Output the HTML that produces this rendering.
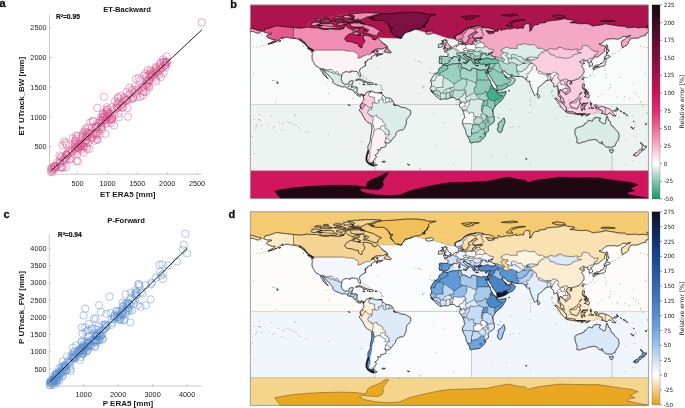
<!DOCTYPE html><html><head><meta charset="utf-8"><title>Figure</title><style>html,body{margin:0;padding:0;background:#fff}svg{display:block}</style></head><body><svg width="685" height="408" viewBox="0 0 685 408"><style>
text{font-family:"Liberation Sans",Arial,sans-serif;fill:#1c1c1c}
.tk{font-size:7.3px}
.cbl{font-size:6.1px;font-family:"DejaVu Sans","Liberation Sans",sans-serif}
.cb{font-size:5.7px;font-family:"DejaVu Sans","Liberation Sans",sans-serif}
.lb{font-size:8px;font-weight:bold;fill:#1a1a1a}
.ti{font-size:7.6px;font-weight:bold;fill:#111}
.r2{font-size:6.7px;font-weight:bold;fill:#111;stroke:#111;stroke-width:0.2px}
.pl{font-size:11px;font-weight:bold;fill:#111;stroke:#111;stroke-width:0.3px}
</style><rect width="685" height="408" fill="#fff"/><g fill="none" stroke="#d9548c" stroke-width="0.55" stroke-opacity="0.9"><circle cx="54.0" cy="166.2" r="3.7"/><circle cx="51.2" cy="168.2" r="3.7"/><circle cx="56.4" cy="166.3" r="3.7"/><circle cx="56.0" cy="165.6" r="3.7"/><circle cx="50.9" cy="171.7" r="3.7"/><circle cx="51.4" cy="170.1" r="3.7"/><circle cx="55.1" cy="166.5" r="3.7"/><circle cx="52.9" cy="170.0" r="3.7"/><circle cx="57.4" cy="162.3" r="3.7"/><circle cx="54.8" cy="168.1" r="3.7"/><circle cx="61.2" cy="157.3" r="3.7"/><circle cx="53.6" cy="167.2" r="3.7"/><circle cx="52.0" cy="168.5" r="3.7"/><circle cx="59.5" cy="161.7" r="3.7"/><circle cx="52.4" cy="172.1" r="3.7"/><circle cx="54.5" cy="169.0" r="3.7"/><circle cx="85.3" cy="136.6" r="3.7"/><circle cx="68.6" cy="153.5" r="3.7"/><circle cx="91.8" cy="137.4" r="3.7"/><circle cx="87.2" cy="134.5" r="3.7"/><circle cx="80.7" cy="146.4" r="3.7"/><circle cx="92.7" cy="121.1" r="3.7"/><circle cx="70.4" cy="159.4" r="3.7"/><circle cx="101.3" cy="127.0" r="3.7"/><circle cx="94.2" cy="134.4" r="3.7"/><circle cx="64.3" cy="141.4" r="3.7"/><circle cx="79.0" cy="144.4" r="3.7"/><circle cx="82.4" cy="144.9" r="3.7"/><circle cx="60.4" cy="167.2" r="3.7"/><circle cx="86.5" cy="146.7" r="3.7"/><circle cx="101.4" cy="127.3" r="3.7"/><circle cx="87.6" cy="127.6" r="3.7"/><circle cx="86.9" cy="148.7" r="3.7"/><circle cx="104.7" cy="117.2" r="3.7"/><circle cx="81.7" cy="143.2" r="3.7"/><circle cx="92.8" cy="133.5" r="3.7"/><circle cx="90.2" cy="122.5" r="3.7"/><circle cx="72.4" cy="151.2" r="3.7"/><circle cx="77.4" cy="146.7" r="3.7"/><circle cx="81.1" cy="143.8" r="3.7"/><circle cx="66.7" cy="154.5" r="3.7"/><circle cx="96.1" cy="127.1" r="3.7"/><circle cx="64.8" cy="157.8" r="3.7"/><circle cx="101.2" cy="117.6" r="3.7"/><circle cx="62.4" cy="167.6" r="3.7"/><circle cx="101.7" cy="120.8" r="3.7"/><circle cx="98.6" cy="122.9" r="3.7"/><circle cx="78.8" cy="148.5" r="3.7"/><circle cx="76.1" cy="135.6" r="3.7"/><circle cx="65.9" cy="167.3" r="3.7"/><circle cx="67.1" cy="155.2" r="3.7"/><circle cx="82.2" cy="137.0" r="3.7"/><circle cx="87.3" cy="136.8" r="3.7"/><circle cx="79.0" cy="144.0" r="3.7"/><circle cx="76.6" cy="160.9" r="3.7"/><circle cx="92.3" cy="138.3" r="3.7"/><circle cx="83.7" cy="147.0" r="3.7"/><circle cx="61.1" cy="167.6" r="3.7"/><circle cx="102.5" cy="120.1" r="3.7"/><circle cx="97.6" cy="139.6" r="3.7"/><circle cx="77.7" cy="148.1" r="3.7"/><circle cx="89.5" cy="132.9" r="3.7"/><circle cx="61.5" cy="157.0" r="3.7"/><circle cx="66.4" cy="154.6" r="3.7"/><circle cx="75.1" cy="148.1" r="3.7"/><circle cx="65.9" cy="156.8" r="3.7"/><circle cx="63.5" cy="160.1" r="3.7"/><circle cx="101.3" cy="122.6" r="3.7"/><circle cx="88.6" cy="132.8" r="3.7"/><circle cx="75.5" cy="144.0" r="3.7"/><circle cx="76.3" cy="138.4" r="3.7"/><circle cx="107.1" cy="109.7" r="3.7"/><circle cx="81.3" cy="145.0" r="3.7"/><circle cx="63.5" cy="158.8" r="3.7"/><circle cx="75.3" cy="149.1" r="3.7"/><circle cx="66.4" cy="144.7" r="3.7"/><circle cx="59.6" cy="155.5" r="3.7"/><circle cx="65.7" cy="159.4" r="3.7"/><circle cx="85.1" cy="131.3" r="3.7"/><circle cx="106.4" cy="117.6" r="3.7"/><circle cx="100.8" cy="125.8" r="3.7"/><circle cx="76.4" cy="151.5" r="3.7"/><circle cx="66.7" cy="155.1" r="3.7"/><circle cx="96.6" cy="135.6" r="3.7"/><circle cx="74.6" cy="146.7" r="3.7"/><circle cx="106.7" cy="107.3" r="3.7"/><circle cx="100.2" cy="120.7" r="3.7"/><circle cx="94.7" cy="140.6" r="3.7"/><circle cx="69.6" cy="159.2" r="3.7"/><circle cx="59.9" cy="163.1" r="3.7"/><circle cx="59.9" cy="163.4" r="3.7"/><circle cx="92.4" cy="127.2" r="3.7"/><circle cx="105.3" cy="133.7" r="3.7"/><circle cx="106.9" cy="113.6" r="3.7"/><circle cx="105.2" cy="122.8" r="3.7"/><circle cx="69.6" cy="150.1" r="3.7"/><circle cx="68.1" cy="152.3" r="3.7"/><circle cx="102.6" cy="114.1" r="3.7"/><circle cx="99.6" cy="134.2" r="3.7"/><circle cx="97.6" cy="125.9" r="3.7"/><circle cx="62.6" cy="167.2" r="3.7"/><circle cx="96.8" cy="139.4" r="3.7"/><circle cx="95.2" cy="133.2" r="3.7"/><circle cx="97.1" cy="127.0" r="3.7"/><circle cx="74.8" cy="143.3" r="3.7"/><circle cx="77.9" cy="161.4" r="3.7"/><circle cx="78.1" cy="135.9" r="3.7"/><circle cx="66.8" cy="159.3" r="3.7"/><circle cx="75.0" cy="141.2" r="3.7"/><circle cx="93.3" cy="121.2" r="3.7"/><circle cx="75.6" cy="140.5" r="3.7"/><circle cx="89.3" cy="148.9" r="3.7"/><circle cx="81.0" cy="145.5" r="3.7"/><circle cx="72.0" cy="152.0" r="3.7"/><circle cx="97.7" cy="131.1" r="3.7"/><circle cx="96.7" cy="133.5" r="3.7"/><circle cx="83.3" cy="133.2" r="3.7"/><circle cx="77.3" cy="153.8" r="3.7"/><circle cx="78.4" cy="146.2" r="3.7"/><circle cx="87.4" cy="132.7" r="3.7"/><circle cx="78.6" cy="147.6" r="3.7"/><circle cx="96.1" cy="127.1" r="3.7"/><circle cx="81.1" cy="149.8" r="3.7"/><circle cx="95.9" cy="126.7" r="3.7"/><circle cx="82.9" cy="135.1" r="3.7"/><circle cx="85.9" cy="141.4" r="3.7"/><circle cx="85.7" cy="132.2" r="3.7"/><circle cx="76.5" cy="146.1" r="3.7"/><circle cx="71.7" cy="150.3" r="3.7"/><circle cx="84.4" cy="142.8" r="3.7"/><circle cx="91.1" cy="137.9" r="3.7"/><circle cx="85.6" cy="140.2" r="3.7"/><circle cx="86.6" cy="136.9" r="3.7"/><circle cx="86.7" cy="140.0" r="3.7"/><circle cx="78.3" cy="146.8" r="3.7"/><circle cx="85.3" cy="129.1" r="3.7"/><circle cx="86.7" cy="136.5" r="3.7"/><circle cx="83.5" cy="152.7" r="3.7"/><circle cx="88.1" cy="142.8" r="3.7"/><circle cx="90.2" cy="134.3" r="3.7"/><circle cx="83.8" cy="146.4" r="3.7"/><circle cx="96.9" cy="129.1" r="3.7"/><circle cx="147.8" cy="69.9" r="3.7"/><circle cx="118.7" cy="117.3" r="3.7"/><circle cx="138.6" cy="78.0" r="3.7"/><circle cx="110.6" cy="118.9" r="3.7"/><circle cx="109.5" cy="118.1" r="3.7"/><circle cx="117.4" cy="107.7" r="3.7"/><circle cx="106.3" cy="124.0" r="3.7"/><circle cx="160.9" cy="76.8" r="3.7"/><circle cx="111.7" cy="115.7" r="3.7"/><circle cx="111.0" cy="123.1" r="3.7"/><circle cx="160.0" cy="64.5" r="3.7"/><circle cx="164.6" cy="65.1" r="3.7"/><circle cx="127.9" cy="116.7" r="3.7"/><circle cx="156.6" cy="70.3" r="3.7"/><circle cx="112.2" cy="119.9" r="3.7"/><circle cx="124.0" cy="99.4" r="3.7"/><circle cx="114.5" cy="115.3" r="3.7"/><circle cx="102.8" cy="113.6" r="3.7"/><circle cx="138.2" cy="90.1" r="3.7"/><circle cx="123.4" cy="102.4" r="3.7"/><circle cx="142.8" cy="86.8" r="3.7"/><circle cx="166.8" cy="62.4" r="3.7"/><circle cx="153.7" cy="71.7" r="3.7"/><circle cx="119.1" cy="107.5" r="3.7"/><circle cx="104.1" cy="120.2" r="3.7"/><circle cx="110.1" cy="120.1" r="3.7"/><circle cx="129.5" cy="87.9" r="3.7"/><circle cx="118.6" cy="113.2" r="3.7"/><circle cx="111.4" cy="107.4" r="3.7"/><circle cx="147.9" cy="83.7" r="3.7"/><circle cx="107.4" cy="109.4" r="3.7"/><circle cx="129.7" cy="93.8" r="3.7"/><circle cx="106.3" cy="111.2" r="3.7"/><circle cx="154.6" cy="76.8" r="3.7"/><circle cx="107.0" cy="116.9" r="3.7"/><circle cx="158.7" cy="71.6" r="3.7"/><circle cx="131.6" cy="99.3" r="3.7"/><circle cx="162.9" cy="59.5" r="3.7"/><circle cx="119.2" cy="101.8" r="3.7"/><circle cx="117.3" cy="103.4" r="3.7"/><circle cx="108.7" cy="115.7" r="3.7"/><circle cx="114.9" cy="109.3" r="3.7"/><circle cx="122.2" cy="107.5" r="3.7"/><circle cx="120.7" cy="96.0" r="3.7"/><circle cx="134.6" cy="90.0" r="3.7"/><circle cx="102.7" cy="117.4" r="3.7"/><circle cx="118.1" cy="98.3" r="3.7"/><circle cx="138.0" cy="88.3" r="3.7"/><circle cx="114.0" cy="125.4" r="3.7"/><circle cx="108.5" cy="114.7" r="3.7"/><circle cx="155.7" cy="78.9" r="3.7"/><circle cx="156.8" cy="68.7" r="3.7"/><circle cx="127.5" cy="108.1" r="3.7"/><circle cx="166.6" cy="62.8" r="3.7"/><circle cx="124.2" cy="97.6" r="3.7"/><circle cx="143.6" cy="92.0" r="3.7"/><circle cx="128.3" cy="99.5" r="3.7"/><circle cx="110.1" cy="113.8" r="3.7"/><circle cx="106.2" cy="119.3" r="3.7"/><circle cx="112.3" cy="117.9" r="3.7"/><circle cx="107.1" cy="111.7" r="3.7"/><circle cx="145.9" cy="91.9" r="3.7"/><circle cx="120.2" cy="105.7" r="3.7"/><circle cx="131.9" cy="90.0" r="3.7"/><circle cx="111.9" cy="118.1" r="3.7"/><circle cx="165.2" cy="62.1" r="3.7"/><circle cx="165.9" cy="67.3" r="3.7"/><circle cx="165.5" cy="64.7" r="3.7"/><circle cx="122.0" cy="104.4" r="3.7"/><circle cx="126.8" cy="99.5" r="3.7"/><circle cx="132.9" cy="97.9" r="3.7"/><circle cx="134.9" cy="92.2" r="3.7"/><circle cx="101.8" cy="123.4" r="3.7"/><circle cx="128.0" cy="96.1" r="3.7"/><circle cx="104.2" cy="115.9" r="3.7"/><circle cx="116.9" cy="108.3" r="3.7"/><circle cx="140.3" cy="96.8" r="3.7"/><circle cx="145.1" cy="84.4" r="3.7"/><circle cx="148.9" cy="74.7" r="3.7"/><circle cx="123.1" cy="107.3" r="3.7"/><circle cx="166.7" cy="56.6" r="3.7"/><circle cx="144.1" cy="75.8" r="3.7"/><circle cx="104.4" cy="114.3" r="3.7"/><circle cx="143.1" cy="95.2" r="3.7"/><circle cx="150.1" cy="76.6" r="3.7"/><circle cx="136.2" cy="93.9" r="3.7"/><circle cx="134.9" cy="86.6" r="3.7"/><circle cx="156.2" cy="81.3" r="3.7"/><circle cx="140.2" cy="80.1" r="3.7"/><circle cx="147.4" cy="86.0" r="3.7"/><circle cx="116.7" cy="106.1" r="3.7"/><circle cx="125.4" cy="100.4" r="3.7"/><circle cx="108.4" cy="113.0" r="3.7"/><circle cx="143.1" cy="91.0" r="3.7"/><circle cx="143.0" cy="87.4" r="3.7"/><circle cx="101.7" cy="129.5" r="3.7"/><circle cx="154.3" cy="73.9" r="3.7"/><circle cx="136.9" cy="97.2" r="3.7"/><circle cx="145.2" cy="73.6" r="3.7"/><circle cx="118.2" cy="103.9" r="3.7"/><circle cx="106.4" cy="119.8" r="3.7"/><circle cx="115.1" cy="101.2" r="3.7"/><circle cx="150.5" cy="70.6" r="3.7"/><circle cx="126.8" cy="100.7" r="3.7"/><circle cx="133.2" cy="97.8" r="3.7"/><circle cx="159.1" cy="74.9" r="3.7"/><circle cx="159.7" cy="67.1" r="3.7"/><circle cx="151.6" cy="75.5" r="3.7"/><circle cx="161.8" cy="68.4" r="3.7"/><circle cx="146.5" cy="76.9" r="3.7"/><circle cx="147.5" cy="80.9" r="3.7"/><circle cx="160.7" cy="62.6" r="3.7"/><circle cx="160.4" cy="69.3" r="3.7"/><circle cx="156.0" cy="68.2" r="3.7"/><circle cx="156.0" cy="66.8" r="3.7"/><circle cx="150.4" cy="72.4" r="3.7"/><circle cx="166.7" cy="61.7" r="3.7"/><circle cx="155.8" cy="72.7" r="3.7"/><circle cx="163.4" cy="61.6" r="3.7"/><circle cx="151.9" cy="77.0" r="3.7"/><circle cx="150.6" cy="75.0" r="3.7"/><circle cx="158.4" cy="70.9" r="3.7"/><circle cx="149.2" cy="87.4" r="3.7"/><circle cx="149.0" cy="80.2" r="3.7"/><circle cx="163.4" cy="72.8" r="3.7"/><circle cx="161.0" cy="68.1" r="3.7"/><circle cx="151.1" cy="73.6" r="3.7"/><circle cx="146.8" cy="83.4" r="3.7"/><circle cx="146.3" cy="85.3" r="3.7"/><circle cx="152.6" cy="75.3" r="3.7"/><circle cx="149.2" cy="80.4" r="3.7"/><circle cx="163.8" cy="62.4" r="3.7"/><circle cx="146.3" cy="81.4" r="3.7"/><circle cx="148.8" cy="85.9" r="3.7"/><circle cx="165.6" cy="65.1" r="3.7"/><circle cx="97.3" cy="107.9" r="3.7"/><circle cx="103.9" cy="96.6" r="3.7"/><circle cx="118.2" cy="97.2" r="3.7"/><circle cx="201.8" cy="22.4" r="3.7"/><circle cx="126.6" cy="91.9" r="3.7"/><circle cx="136.1" cy="78.8" r="3.7"/><circle cx="62.7" cy="145.3" r="3.7"/><circle cx="65.7" cy="142.9" r="3.7"/><circle cx="72.8" cy="138.2" r="3.7"/></g><line x1="50.4" y1="171.4" x2="201.8" y2="29.9" stroke="#0a0a0a" stroke-width="0.9"/><path d="M49.5,14.3V174.2H201.6" fill="none" stroke="#b3b3b3" stroke-width="0.7"/><line x1="77.6" y1="174.2" x2="77.6" y2="172.2" stroke="#8c8c8c" stroke-width="0.5"/><text x="77.6" y="186" text-anchor="middle" class="tk">500</text><line x1="49.5" y1="146.5" x2="51.5" y2="146.5" stroke="#8c8c8c" stroke-width="0.5"/><text x="46.6" y="149.2" text-anchor="end" class="tk">500</text><line x1="107.5" y1="174.2" x2="107.5" y2="172.2" stroke="#8c8c8c" stroke-width="0.5"/><text x="107.5" y="186" text-anchor="middle" class="tk">1000</text><line x1="49.5" y1="116.8" x2="51.5" y2="116.8" stroke="#8c8c8c" stroke-width="0.5"/><text x="46.6" y="119.5" text-anchor="end" class="tk">1000</text><line x1="137.3" y1="174.2" x2="137.3" y2="172.2" stroke="#8c8c8c" stroke-width="0.5"/><text x="137.3" y="186" text-anchor="middle" class="tk">1500</text><line x1="49.5" y1="87.1" x2="51.5" y2="87.1" stroke="#8c8c8c" stroke-width="0.5"/><text x="46.6" y="89.8" text-anchor="end" class="tk">1500</text><line x1="167.2" y1="174.2" x2="167.2" y2="172.2" stroke="#8c8c8c" stroke-width="0.5"/><text x="167.2" y="186" text-anchor="middle" class="tk">2000</text><line x1="49.5" y1="57.4" x2="51.5" y2="57.4" stroke="#8c8c8c" stroke-width="0.5"/><text x="46.6" y="60.1" text-anchor="end" class="tk">2000</text><line x1="197.0" y1="174.2" x2="197.0" y2="172.2" stroke="#8c8c8c" stroke-width="0.5"/><text x="197.0" y="186" text-anchor="middle" class="tk">2500</text><line x1="49.5" y1="27.7" x2="51.5" y2="27.7" stroke="#8c8c8c" stroke-width="0.5"/><text x="46.6" y="30.4" text-anchor="end" class="tk">2500</text><text x="127.7" y="196.5" text-anchor="middle" class="lb">ET ERA5 [mm]</text><text transform="translate(24.2,96.2) rotate(-90)" text-anchor="middle" class="lb">ET UTrack_BW [mm]</text><text x="127" y="11.7" text-anchor="middle" class="ti">ET-Backward</text><text x="55.9" y="18.5" class="r2">R²=0.95</text><text x="-0.8" y="7" class="pl" style="font-size:11.5px">a</text><text x="230.2" y="7.6" class="pl">b</text><g fill="none" stroke="#5b8fd0" stroke-width="0.55" stroke-opacity="0.9"><circle cx="52.8" cy="383.5" r="3.7"/><circle cx="52.9" cy="381.6" r="3.7"/><circle cx="53.2" cy="380.9" r="3.7"/><circle cx="53.2" cy="380.6" r="3.7"/><circle cx="54.1" cy="379.1" r="3.7"/><circle cx="51.8" cy="382.2" r="3.7"/><circle cx="50.3" cy="382.3" r="3.7"/><circle cx="49.9" cy="385.4" r="3.7"/><circle cx="56.6" cy="374.9" r="3.7"/><circle cx="54.0" cy="379.8" r="3.7"/><circle cx="50.7" cy="380.9" r="3.7"/><circle cx="50.0" cy="383.1" r="3.7"/><circle cx="51.0" cy="382.3" r="3.7"/><circle cx="52.9" cy="380.1" r="3.7"/><circle cx="52.7" cy="379.7" r="3.7"/><circle cx="54.1" cy="380.6" r="3.7"/><circle cx="53.2" cy="381.0" r="3.7"/><circle cx="51.6" cy="383.0" r="3.7"/><circle cx="56.7" cy="374.1" r="3.7"/><circle cx="54.6" cy="378.8" r="3.7"/><circle cx="51.8" cy="381.3" r="3.7"/><circle cx="50.1" cy="382.1" r="3.7"/><circle cx="55.0" cy="380.5" r="3.7"/><circle cx="52.4" cy="379.4" r="3.7"/><circle cx="56.4" cy="377.0" r="3.7"/><circle cx="51.1" cy="382.3" r="3.7"/><circle cx="56.1" cy="381.2" r="3.7"/><circle cx="52.4" cy="380.2" r="3.7"/><circle cx="50.1" cy="384.8" r="3.7"/><circle cx="51.5" cy="383.5" r="3.7"/><circle cx="56.8" cy="380.3" r="3.7"/><circle cx="89.2" cy="335.9" r="3.7"/><circle cx="58.2" cy="374.2" r="3.7"/><circle cx="55.4" cy="375.3" r="3.7"/><circle cx="91.0" cy="340.2" r="3.7"/><circle cx="74.2" cy="354.5" r="3.7"/><circle cx="61.8" cy="371.0" r="3.7"/><circle cx="83.6" cy="351.3" r="3.7"/><circle cx="58.2" cy="376.5" r="3.7"/><circle cx="65.6" cy="365.9" r="3.7"/><circle cx="99.4" cy="333.0" r="3.7"/><circle cx="95.3" cy="341.0" r="3.7"/><circle cx="62.7" cy="375.5" r="3.7"/><circle cx="83.6" cy="345.1" r="3.7"/><circle cx="57.4" cy="372.6" r="3.7"/><circle cx="65.0" cy="367.8" r="3.7"/><circle cx="89.9" cy="344.8" r="3.7"/><circle cx="56.1" cy="373.7" r="3.7"/><circle cx="56.9" cy="377.9" r="3.7"/><circle cx="81.6" cy="352.8" r="3.7"/><circle cx="70.5" cy="371.0" r="3.7"/><circle cx="75.9" cy="354.3" r="3.7"/><circle cx="80.3" cy="351.2" r="3.7"/><circle cx="60.0" cy="374.2" r="3.7"/><circle cx="96.4" cy="335.8" r="3.7"/><circle cx="61.7" cy="373.4" r="3.7"/><circle cx="88.3" cy="342.7" r="3.7"/><circle cx="98.4" cy="335.8" r="3.7"/><circle cx="95.2" cy="341.2" r="3.7"/><circle cx="57.6" cy="377.2" r="3.7"/><circle cx="54.4" cy="375.4" r="3.7"/><circle cx="86.6" cy="347.2" r="3.7"/><circle cx="65.0" cy="365.5" r="3.7"/><circle cx="66.7" cy="370.3" r="3.7"/><circle cx="61.0" cy="371.8" r="3.7"/><circle cx="63.6" cy="370.4" r="3.7"/><circle cx="79.6" cy="350.4" r="3.7"/><circle cx="66.1" cy="370.6" r="3.7"/><circle cx="96.9" cy="336.3" r="3.7"/><circle cx="65.6" cy="366.5" r="3.7"/><circle cx="74.1" cy="356.7" r="3.7"/><circle cx="70.4" cy="361.6" r="3.7"/><circle cx="80.2" cy="350.5" r="3.7"/><circle cx="95.6" cy="335.2" r="3.7"/><circle cx="99.9" cy="336.6" r="3.7"/><circle cx="80.8" cy="356.9" r="3.7"/><circle cx="59.3" cy="372.5" r="3.7"/><circle cx="96.5" cy="336.7" r="3.7"/><circle cx="86.4" cy="346.0" r="3.7"/><circle cx="83.3" cy="350.0" r="3.7"/><circle cx="75.8" cy="357.4" r="3.7"/><circle cx="100.8" cy="335.8" r="3.7"/><circle cx="56.2" cy="381.9" r="3.7"/><circle cx="96.0" cy="339.0" r="3.7"/><circle cx="88.2" cy="346.9" r="3.7"/><circle cx="96.7" cy="342.8" r="3.7"/><circle cx="69.5" cy="366.3" r="3.7"/><circle cx="94.6" cy="345.9" r="3.7"/><circle cx="72.7" cy="358.3" r="3.7"/><circle cx="80.2" cy="359.8" r="3.7"/><circle cx="82.7" cy="353.9" r="3.7"/><circle cx="82.0" cy="347.9" r="3.7"/><circle cx="56.4" cy="383.4" r="3.7"/><circle cx="95.0" cy="347.1" r="3.7"/><circle cx="87.7" cy="350.0" r="3.7"/><circle cx="80.6" cy="348.6" r="3.7"/><circle cx="73.8" cy="358.2" r="3.7"/><circle cx="88.8" cy="345.7" r="3.7"/><circle cx="54.0" cy="381.7" r="3.7"/><circle cx="63.7" cy="371.4" r="3.7"/><circle cx="86.3" cy="351.9" r="3.7"/><circle cx="97.0" cy="336.3" r="3.7"/><circle cx="64.9" cy="364.7" r="3.7"/><circle cx="85.3" cy="347.6" r="3.7"/><circle cx="62.3" cy="366.4" r="3.7"/><circle cx="84.4" cy="341.8" r="3.7"/><circle cx="73.9" cy="356.4" r="3.7"/><circle cx="84.7" cy="350.4" r="3.7"/><circle cx="62.1" cy="376.4" r="3.7"/><circle cx="96.7" cy="333.9" r="3.7"/><circle cx="95.1" cy="341.9" r="3.7"/><circle cx="67.8" cy="361.7" r="3.7"/><circle cx="59.1" cy="380.3" r="3.7"/><circle cx="93.5" cy="339.6" r="3.7"/><circle cx="86.9" cy="343.5" r="3.7"/><circle cx="60.7" cy="372.7" r="3.7"/><circle cx="74.3" cy="358.9" r="3.7"/><circle cx="72.5" cy="357.8" r="3.7"/><circle cx="82.8" cy="353.4" r="3.7"/><circle cx="93.1" cy="340.1" r="3.7"/><circle cx="100.0" cy="334.8" r="3.7"/><circle cx="54.1" cy="377.9" r="3.7"/><circle cx="94.7" cy="333.1" r="3.7"/><circle cx="80.1" cy="351.4" r="3.7"/><circle cx="67.5" cy="365.0" r="3.7"/><circle cx="59.1" cy="374.1" r="3.7"/><circle cx="74.5" cy="351.6" r="3.7"/><circle cx="64.0" cy="367.6" r="3.7"/><circle cx="59.4" cy="368.3" r="3.7"/><circle cx="74.1" cy="357.3" r="3.7"/><circle cx="83.0" cy="353.8" r="3.7"/><circle cx="98.8" cy="340.0" r="3.7"/><circle cx="85.6" cy="346.2" r="3.7"/><circle cx="61.2" cy="367.5" r="3.7"/><circle cx="53.1" cy="384.9" r="3.7"/><circle cx="61.2" cy="370.4" r="3.7"/><circle cx="65.7" cy="370.1" r="3.7"/><circle cx="77.7" cy="350.6" r="3.7"/><circle cx="82.2" cy="350.7" r="3.7"/><circle cx="90.8" cy="346.1" r="3.7"/><circle cx="96.3" cy="329.9" r="3.7"/><circle cx="87.4" cy="341.3" r="3.7"/><circle cx="58.8" cy="378.5" r="3.7"/><circle cx="96.5" cy="335.4" r="3.7"/><circle cx="70.7" cy="368.8" r="3.7"/><circle cx="91.0" cy="345.3" r="3.7"/><circle cx="98.2" cy="340.4" r="3.7"/><circle cx="62.4" cy="369.0" r="3.7"/><circle cx="87.4" cy="343.6" r="3.7"/><circle cx="87.2" cy="350.7" r="3.7"/><circle cx="62.9" cy="361.5" r="3.7"/><circle cx="99.8" cy="339.7" r="3.7"/><circle cx="78.5" cy="353.7" r="3.7"/><circle cx="96.5" cy="339.9" r="3.7"/><circle cx="93.9" cy="340.3" r="3.7"/><circle cx="80.0" cy="350.3" r="3.7"/><circle cx="83.4" cy="348.6" r="3.7"/><circle cx="67.2" cy="356.4" r="3.7"/><circle cx="91.5" cy="328.7" r="3.7"/><circle cx="71.7" cy="355.5" r="3.7"/><circle cx="76.8" cy="355.1" r="3.7"/><circle cx="71.0" cy="357.6" r="3.7"/><circle cx="82.4" cy="348.1" r="3.7"/><circle cx="87.8" cy="330.4" r="3.7"/><circle cx="95.7" cy="318.3" r="3.7"/><circle cx="69.0" cy="362.8" r="3.7"/><circle cx="73.2" cy="353.1" r="3.7"/><circle cx="89.0" cy="343.1" r="3.7"/><circle cx="86.2" cy="331.8" r="3.7"/><circle cx="83.7" cy="347.2" r="3.7"/><circle cx="76.0" cy="345.6" r="3.7"/><circle cx="94.3" cy="328.6" r="3.7"/><circle cx="72.8" cy="347.7" r="3.7"/><circle cx="82.6" cy="333.6" r="3.7"/><circle cx="84.1" cy="346.0" r="3.7"/><circle cx="82.0" cy="341.7" r="3.7"/><circle cx="85.1" cy="327.3" r="3.7"/><circle cx="82.4" cy="347.0" r="3.7"/><circle cx="78.8" cy="351.0" r="3.7"/><circle cx="81.6" cy="341.7" r="3.7"/><circle cx="87.8" cy="336.3" r="3.7"/><circle cx="114.5" cy="315.3" r="3.7"/><circle cx="137.0" cy="292.1" r="3.7"/><circle cx="117.0" cy="318.0" r="3.7"/><circle cx="102.7" cy="339.7" r="3.7"/><circle cx="134.7" cy="294.2" r="3.7"/><circle cx="117.1" cy="317.2" r="3.7"/><circle cx="123.0" cy="306.5" r="3.7"/><circle cx="135.7" cy="290.5" r="3.7"/><circle cx="98.3" cy="326.6" r="3.7"/><circle cx="105.4" cy="325.8" r="3.7"/><circle cx="110.7" cy="313.1" r="3.7"/><circle cx="112.1" cy="322.6" r="3.7"/><circle cx="127.7" cy="307.3" r="3.7"/><circle cx="102.5" cy="334.4" r="3.7"/><circle cx="105.6" cy="327.3" r="3.7"/><circle cx="119.4" cy="318.8" r="3.7"/><circle cx="114.5" cy="316.0" r="3.7"/><circle cx="119.3" cy="311.4" r="3.7"/><circle cx="123.5" cy="306.1" r="3.7"/><circle cx="123.8" cy="320.4" r="3.7"/><circle cx="122.7" cy="312.3" r="3.7"/><circle cx="132.9" cy="299.3" r="3.7"/><circle cx="131.0" cy="292.6" r="3.7"/><circle cx="134.8" cy="300.5" r="3.7"/><circle cx="135.6" cy="293.0" r="3.7"/><circle cx="106.4" cy="313.9" r="3.7"/><circle cx="102.9" cy="329.7" r="3.7"/><circle cx="107.3" cy="325.9" r="3.7"/><circle cx="101.4" cy="335.5" r="3.7"/><circle cx="131.9" cy="310.4" r="3.7"/><circle cx="102.6" cy="325.0" r="3.7"/><circle cx="114.1" cy="319.1" r="3.7"/><circle cx="105.7" cy="327.8" r="3.7"/><circle cx="125.7" cy="294.3" r="3.7"/><circle cx="102.2" cy="338.4" r="3.7"/><circle cx="118.3" cy="314.1" r="3.7"/><circle cx="125.8" cy="314.1" r="3.7"/><circle cx="105.2" cy="324.8" r="3.7"/><circle cx="98.9" cy="332.2" r="3.7"/><circle cx="120.2" cy="320.2" r="3.7"/><circle cx="103.5" cy="329.7" r="3.7"/><circle cx="105.0" cy="324.3" r="3.7"/><circle cx="138.4" cy="284.1" r="3.7"/><circle cx="135.8" cy="295.7" r="3.7"/><circle cx="136.8" cy="295.3" r="3.7"/><circle cx="121.6" cy="311.4" r="3.7"/><circle cx="121.7" cy="314.9" r="3.7"/><circle cx="122.8" cy="315.2" r="3.7"/><circle cx="111.5" cy="319.3" r="3.7"/><circle cx="126.9" cy="305.1" r="3.7"/><circle cx="121.4" cy="313.9" r="3.7"/><circle cx="127.8" cy="307.7" r="3.7"/><circle cx="114.9" cy="316.8" r="3.7"/><circle cx="122.7" cy="302.6" r="3.7"/><circle cx="129.2" cy="303.5" r="3.7"/><circle cx="127.0" cy="303.0" r="3.7"/><circle cx="120.3" cy="317.1" r="3.7"/><circle cx="124.6" cy="319.5" r="3.7"/><circle cx="129.2" cy="304.5" r="3.7"/><circle cx="117.0" cy="310.8" r="3.7"/><circle cx="128.6" cy="308.1" r="3.7"/><circle cx="129.5" cy="310.7" r="3.7"/><circle cx="130.9" cy="298.0" r="3.7"/><circle cx="126.8" cy="305.9" r="3.7"/><circle cx="120.3" cy="319.4" r="3.7"/><circle cx="127.4" cy="302.9" r="3.7"/><circle cx="121.7" cy="310.1" r="3.7"/><circle cx="111.4" cy="324.9" r="3.7"/><circle cx="125.2" cy="303.9" r="3.7"/><circle cx="116.4" cy="311.4" r="3.7"/><circle cx="118.8" cy="316.3" r="3.7"/><circle cx="126.0" cy="311.6" r="3.7"/><circle cx="119.9" cy="315.3" r="3.7"/><circle cx="133.6" cy="303.6" r="3.7"/><circle cx="128.3" cy="309.7" r="3.7"/><circle cx="162.4" cy="264.5" r="3.7"/><circle cx="155.7" cy="277.8" r="3.7"/><circle cx="142.4" cy="293.5" r="3.7"/><circle cx="140.7" cy="292.5" r="3.7"/><circle cx="145.7" cy="285.2" r="3.7"/><circle cx="160.3" cy="271.9" r="3.7"/><circle cx="150.5" cy="299.4" r="3.7"/><circle cx="151.0" cy="284.4" r="3.7"/><circle cx="162.8" cy="279.0" r="3.7"/><circle cx="137.5" cy="305.0" r="3.7"/><circle cx="151.8" cy="282.7" r="3.7"/><circle cx="161.0" cy="275.6" r="3.7"/><circle cx="81.9" cy="327.6" r="3.7"/><circle cx="83.6" cy="315.5" r="3.7"/><circle cx="85.3" cy="308.6" r="3.7"/><circle cx="99.1" cy="305.2" r="3.7"/><circle cx="109.5" cy="296.6" r="3.7"/><circle cx="100.9" cy="312.1" r="3.7"/><circle cx="94.0" cy="319.0" r="3.7"/><circle cx="88.8" cy="324.1" r="3.7"/><circle cx="185.4" cy="233.8" r="3.7"/><circle cx="183.7" cy="244.8" r="3.7"/><circle cx="187.1" cy="253.4" r="3.7"/><circle cx="183.0" cy="250.0" r="3.7"/><circle cx="176.8" cy="261.4" r="3.7"/><circle cx="168.1" cy="265.5" r="3.7"/><circle cx="159.5" cy="264.8" r="3.7"/><circle cx="163.0" cy="274.1" r="3.7"/><circle cx="138.8" cy="284.5" r="3.7"/><circle cx="139.5" cy="286.2" r="3.7"/><circle cx="145.7" cy="305.2" r="3.7"/><circle cx="140.5" cy="306.9" r="3.7"/><circle cx="130.2" cy="322.4" r="3.7"/></g><line x1="48.5" y1="383" x2="187.5" y2="248" stroke="#0a0a0a" stroke-width="0.9"/><path d="M49.3,234.5V386H201.6" fill="none" stroke="#b3b3b3" stroke-width="0.7"/><line x1="83.6" y1="386" x2="83.6" y2="384" stroke="#8c8c8c" stroke-width="0.5"/><text x="83.6" y="397" text-anchor="middle" class="tk">1000</text><line x1="118.1" y1="386" x2="118.1" y2="384" stroke="#8c8c8c" stroke-width="0.5"/><text x="118.1" y="397" text-anchor="middle" class="tk">2000</text><line x1="152.6" y1="386" x2="152.6" y2="384" stroke="#8c8c8c" stroke-width="0.5"/><text x="152.6" y="397" text-anchor="middle" class="tk">3000</text><line x1="187.1" y1="386" x2="187.1" y2="384" stroke="#8c8c8c" stroke-width="0.5"/><text x="187.1" y="397" text-anchor="middle" class="tk">4000</text><line x1="49.3" y1="369.0" x2="51.3" y2="369.0" stroke="#8c8c8c" stroke-width="0.5"/><text x="46.6" y="371.7" text-anchor="end" class="tk">500</text><line x1="49.3" y1="351.8" x2="51.3" y2="351.8" stroke="#8c8c8c" stroke-width="0.5"/><text x="46.6" y="354.4" text-anchor="end" class="tk">1000</text><line x1="49.3" y1="334.5" x2="51.3" y2="334.5" stroke="#8c8c8c" stroke-width="0.5"/><text x="46.6" y="337.2" text-anchor="end" class="tk">1500</text><line x1="49.3" y1="317.2" x2="51.3" y2="317.2" stroke="#8c8c8c" stroke-width="0.5"/><text x="46.6" y="319.9" text-anchor="end" class="tk">2000</text><line x1="49.3" y1="300.0" x2="51.3" y2="300.0" stroke="#8c8c8c" stroke-width="0.5"/><text x="46.6" y="302.7" text-anchor="end" class="tk">2500</text><line x1="49.3" y1="282.8" x2="51.3" y2="282.8" stroke="#8c8c8c" stroke-width="0.5"/><text x="46.6" y="285.4" text-anchor="end" class="tk">3000</text><line x1="49.3" y1="265.5" x2="51.3" y2="265.5" stroke="#8c8c8c" stroke-width="0.5"/><text x="46.6" y="268.2" text-anchor="end" class="tk">3500</text><line x1="49.3" y1="248.2" x2="51.3" y2="248.2" stroke="#8c8c8c" stroke-width="0.5"/><text x="46.6" y="250.9" text-anchor="end" class="tk">4000</text><text x="127.9" y="406" text-anchor="middle" class="lb">P ERA5 [mm]</text><text transform="translate(24.2,307.5) rotate(-90)" text-anchor="middle" class="lb">P UTrack_FW [mm]</text><text x="126.1" y="223.3" text-anchor="middle" class="ti">P-Forward</text><text x="57.8" y="237" class="r2">R²=0.94</text><text x="3.6" y="217.5" class="pl">c</text><text x="228.4" y="218.1" class="pl">d</text><g stroke="#000" stroke-width="0.3" stroke-linejoin="round"><rect x="250.4" y="5.0" width="398.0" height="193.6" fill="#f8fbfa"/><path d="M355.4,65.8 363.2,58.1 369.8,51.4 376.4,43.7 378.1,37.8 400.2,38.3 405.2,31.5 414.0,29.1 424.5,32.0 425.9,32.6 429.5,32.6 433.4,33.3 440.0,35.5 447.0,38.1 455.5,39.3 456.6,38.7 458.8,39.8 461.1,40.6 459.6,42.0 459.0,44.2 454.9,47.0 451.6,48.7 449.4,54.8 445.0,57.5 441.7,61.9 443.1,64.5 443.1,64.8 441.7,68.0 433.9,76.9 433.9,87.9 436.1,94.5 440.6,97.9 449.4,96.8 461.0,99.0 461.0,104.5 383.1,104.5 366.5,99.0 363.7,95.7 362.1,94.4 359.9,95.1 357.1,94.0 355.4,91.8 352.1,88.5 347.7,86.3 341.1,84.6 341.1,71.3Z" fill="#eef3f2" stroke="#8a8a8a" stroke-width="0.3"/><path d="M363.2,104.5 372.0,115.6 375.3,137.7 375.3,170.8 250.4,170.8 250.4,104.5Z" fill="#ecf3f1" stroke="#8a8a8a" stroke-width="0.3"/><path d="M648.4,104.5 648.4,170.8 611.9,170.8 611.9,148.7 610.8,126.6 606.9,116.3 606.4,115.0 606.4,110.0 600.9,108.4 596.4,106.2 594.2,105.2 594.2,104.5Z" fill="#ecf3f1" stroke="#8a8a8a" stroke-width="0.3"/><path d="M375.3,137.7 383.1,115.6 388.6,104.5 462.7,104.5 471.5,126.6 471.5,170.8 375.3,170.8Z" fill="#eef4f2" stroke="#8a8a8a" stroke-width="0.3"/><path d="M471.5,137.7 488.1,110.0 493.6,91.2 497.4,90.6 504.7,86.8 512.4,76.9 512.4,74.7 521.3,73.5 532.3,78.0 548.9,78.0 557.7,87.9 559.4,95.7 561.1,101.2 563.8,103.2 564.4,106.7 566.0,111.5 571.0,112.8 576.5,113.9 582.1,114.0 587.6,114.0 594.2,112.8 598.6,109.5 603.1,112.8 606.4,114.8 606.9,116.3 610.8,126.6 611.9,148.7 611.9,170.8 471.5,170.8Z" fill="#e5f1ed" stroke="#8a8a8a" stroke-width="0.3"/><path d="M583.0,80.2 583.7,83.5 584.6,85.7 584.1,87.9 586.8,89.8 588.5,91.2 588.8,94.0 589.4,96.2 588.7,98.4 590.4,100.6 592.0,103.4 594.2,105.1 595.3,107.3 597.5,108.9 600.9,110.0 602.5,112.2 602.0,113.8 598.1,112.5 594.8,113.7 590.1,114.0 587.0,116.0 582.6,116.0 576.5,114.5 571.0,113.6 565.7,112.2 565.5,111.0 566.5,110.6 566.6,107.8 564.9,106.2 563.8,104.5 561.1,102.1 557.7,100.1 554.8,98.2 557.2,95.9 558.3,95.1 560.0,94.5 560.0,89.0 565.5,87.9 567.7,85.7 566.6,81.8 568.8,79.6 573.2,79.1 578.8,78.0 578.8,78.5Z" fill="#f9cfe0" stroke="#8a8a8a" stroke-width="0.3"/><path d="M443.3,64.4 449.4,60.3 452.7,56.1 459.4,55.0 463.8,53.6 471.5,58.1 474.8,59.0 479.2,58.6 479.2,55.9 482.6,52.5 488.1,52.0 493.6,52.0 495.8,57.5 495.3,59.7 489.8,64.7 489.8,70.0 483.7,70.8 473.7,71.6 466.0,71.6 460.5,68.6 460.5,64.7 447.2,66.4 443.3,65.3Z" fill="#a9d7c9" stroke="#8a8a8a" stroke-width="0.3"/><path d="M488.3,71.7 490.3,76.3 493.6,81.8 497.5,90.1 497.4,90.8 496.4,90.3 492.5,86.8 489.8,81.3 487.0,75.8 485.1,72.4 484.8,71.1Z" fill="#fbfcfc" stroke="#8a8a8a" stroke-width="0.3"/><path d="M505.8,70.8 512.4,74.1 511.8,75.4 511.3,77.4 505.8,78.5 501.9,73.5 501.9,70.8Z" fill="#f7faf9" stroke="#8a8a8a" stroke-width="0.3"/><path d="M461.3,41.2 463.2,41.2 463.8,38.7 468.2,37.6 469.3,34.8 473.7,31.5 478.1,31.5 478.1,36.0 483.1,37.6 483.1,39.3 475.9,42.0 471.5,44.8 464.9,45.4 461.3,44.8Z" fill="#ea6ea4" stroke="#8a8a8a" stroke-width="0.3"/><path d="M648.4,5.0 648.4,30.4 515.7,30.4 515.7,33.7 482.6,33.7 477.0,30.4 466.0,34.8 456.6,38.7 455.5,39.3 447.0,38.1 440.0,35.5 433.4,33.3 429.5,32.6 425.9,32.6 424.5,32.0 414.0,29.1 405.2,31.5 400.2,38.3 378.1,37.8 376.4,40.9 369.8,40.9 365.4,38.2 364.3,35.1 360.4,34.3 356.5,31.5 349.9,31.0 293.5,31.0 272.5,31.5 263.7,32.0 261.5,31.3 255.9,31.0 250.4,30.4 250.4,5.0Z" fill="#ad134d" stroke="#8a8a8a" stroke-width="0.3"/><path d="M309.0,22.1 316.7,18.8 333.3,16.6 346.6,13.8 361.0,12.4 380.9,13.2 372.0,16.1 365.4,18.3 363.2,20.5 361.0,22.7 365.4,24.3 374.2,27.7 380.9,31.0 377.5,36.5 372.0,37.1 363.2,35.4 361.0,33.7 355.4,31.0 344.4,30.4 322.3,29.9 305.7,28.2Z" fill="#c2185a" stroke="#8a8a8a" stroke-width="0.3"/><path d="M352.1,32.9 353.2,34.3 358.7,35.1 360.4,33.9 364.1,35.2 365.4,42.6 363.2,48.7 357.6,48.7 343.3,40.4 343.3,32.9Z" fill="#c2185a" stroke="#8a8a8a" stroke-width="0.3"/><path d="M648.4,170.8 648.4,198.6 250.4,198.6 250.4,170.8Z" fill="#d0155c" stroke="#8a8a8a" stroke-width="0.3"/><path d="M295.7,38.2 296.4,38.7 294.6,38.4 290.8,38.2 287.4,37.3 284.7,37.6 281.9,38.9 282.5,37.1 279.7,39.3 277.5,40.9 274.7,42.0 271.4,43.5 268.1,44.1 270.3,42.8 273.6,40.9 275.3,39.5 272.5,39.5 270.3,38.7 267.5,37.6 266.4,36.0 268.1,34.6 271.4,34.0 271.4,33.1 267.5,33.2 265.3,32.6 263.7,32.0 265.3,29.0 269.2,28.2 276.4,25.7 283.6,26.6 293.5,27.6 293.5,37.8ZM301.8,39.5 305.7,42.6 305.7,44.2 304.0,42.6 301.8,40.4 299.6,39.3 298.2,39.0 299.6,38.4Z" fill="#e9578f"/><path d="M378.1,54.2 375.3,54.8 374.4,54.0 374.2,52.2 372.9,52.1 371.7,53.4 370.4,54.8 366.5,54.8 364.8,55.9 362.1,56.4 362.1,57.2 358.2,58.4 357.5,58.0 358.3,57.0 358.3,54.5 357.1,53.6 356.0,53.2 355.6,52.6 351.8,51.1 350.5,51.4 347.7,51.2 344.9,50.7 344.2,50.3 314.0,50.3 311.8,49.2 309.0,48.1 307.9,46.5 305.7,44.2 305.7,42.6 301.8,39.5 299.6,38.4 298.2,39.0 296.8,38.7 296.4,38.7 295.7,38.2 293.5,37.8 293.5,27.6 300.1,28.2 307.9,27.1 311.2,27.7 316.7,27.7 322.3,29.3 327.8,29.5 330.0,28.8 336.6,29.5 341.1,29.3 343.8,28.2 345.5,25.5 347.7,27.7 349.9,28.8 353.2,29.9 355.4,28.2 358.7,27.7 359.3,30.4 354.3,31.5 353.2,33.2 349.9,33.7 346.6,36.0 344.9,38.2 344.9,39.5 347.1,41.5 352.1,42.0 355.4,43.4 358.4,43.7 358.5,45.9 360.4,47.6 362.1,47.6 362.1,44.8 364.3,42.6 364.8,40.4 363.2,38.2 363.2,35.5 367.6,35.6 372.0,37.1 372.6,39.3 375.3,40.0 377.5,37.8 380.9,40.9 383.1,43.1 386.4,45.4 387.5,47.0 384.7,47.8 383.1,49.0 378.6,48.9 375.9,49.0 373.1,50.9 370.9,52.8 375.3,50.3 378.1,50.3 378.1,51.4 376.4,51.4 377.5,52.5 378.1,53.4 381.4,53.9 383.1,53.1 382.0,54.4 378.6,55.3 377.3,56.0 376.4,55.6 376.4,55.3Z" fill="#f08cb2"/><path d="M374.4,54.0 375.3,54.8 373.1,55.9 371.5,56.7 371.2,58.1 372.0,58.4 369.8,59.0 367.6,59.6 367.4,60.8 365.9,61.9 365.4,63.6 365.7,65.3 363.7,66.7 361.5,68.0 359.9,69.3 359.5,71.3 360.6,74.7 360.7,76.5 359.6,76.6 358.0,73.8 357.9,72.2 356.5,71.3 354.9,71.6 352.7,71.0 350.5,71.1 350.7,72.3 348.8,72.1 346.0,71.6 344.4,72.2 342.2,73.5 341.8,75.8 339.7,75.2 338.3,73.0 337.2,71.6 335.5,72.4 333.9,71.8 331.8,69.5 329.8,69.3 329.8,69.9 326.7,69.9 322.5,68.6 319.9,68.6 318.4,66.9 316.1,66.2 314.5,64.0 314.0,62.7 312.3,60.3 312.0,57.5 312.3,53.6 311.5,51.0 313.4,52.0 314.0,50.3 344.2,50.3 344.9,50.7 347.7,51.2 350.5,51.4 351.8,51.1 355.6,52.6 356.0,53.2 357.1,53.6 358.3,54.5 358.3,57.0 357.5,58.0 358.2,58.4 362.1,57.2 362.1,56.4 364.8,55.9 366.5,54.8 370.4,54.8 371.7,53.4 372.7,52.3 374.3,52.5ZM376.4,55.6 377.3,56.0 376.4,56.4Z" fill="#fcf3f6"/><path d="M341.3,79.8 342.2,81.8 343.3,83.5 344.9,84.4 347.7,83.9 349.1,82.9 349.6,81.3 352.1,80.6 353.4,81.0 352.7,82.9 352.3,84.0 351.8,84.0 350.8,84.7 348.8,84.7 348.8,85.5 349.5,86.6 348.0,86.7 347.5,88.4 347.4,88.4 345.5,86.7 344.0,86.8 342.5,87.1 340.0,86.1 337.2,85.2 334.6,83.9 332.8,82.4 333.0,80.7 331.7,78.7 329.4,76.5 328.3,74.9 326.7,73.5 325.0,71.9 324.3,70.0 322.5,69.3 322.8,71.0 324.5,73.2 326.1,75.8 327.2,77.6 328.3,79.0 327.5,78.5 325.4,76.3 322.8,74.1 323.1,73.0 321.4,71.3 319.9,68.6 320.2,68.6 339.5,74.9 339.7,75.2 341.8,75.8 341.3,78.0Z" fill="#d8ebe6"/><path d="M348.8,85.5 348.8,84.7 350.8,84.7 351.8,84.0 352.3,84.0 352.1,84.6 351.6,86.5 351.2,87.0 352.4,87.0 351.8,87.1 350.8,87.9 350.7,88.6 349.8,89.3 348.2,89.0 347.5,88.4 348.0,86.7 349.5,86.6Z" fill="#e0efeb"/><path d="M351.8,87.1 352.4,87.0 351.9,87.0 354.3,86.9 356.5,87.0 357.4,87.9 355.6,88.2 354.5,89.1 353.4,89.8 352.9,90.1 352.8,90.2 352.7,90.1 351.6,89.9 349.9,89.4 349.8,89.3 350.7,88.6 350.8,87.9Z" fill="#e0efeb"/><path d="M355.6,88.2 357.4,87.9 357.1,90.1 356.9,92.3 356.9,92.4 355.8,92.3 354.7,92.2 354.5,92.4 353.5,91.0 352.8,90.2 352.9,90.1 353.4,89.8 354.5,89.1Z" fill="#e0efeb"/><path d="M356.9,92.4 357.9,93.9 358.2,94.0 357.8,95.5 357.6,95.4 356.9,95.0 355.4,93.4 354.5,92.4 354.7,92.2 355.8,92.3Z" fill="#e0efeb"/><path d="M361.0,94.2 362.1,94.0 363.8,94.9 363.3,96.5 362.6,95.1 361.3,94.7 360.6,95.4 360.6,96.3 359.3,96.1 357.8,95.5 358.2,94.0 359.3,94.5ZM322.5,68.6 326.7,69.9 329.8,69.9 329.8,69.3 331.8,69.5 333.9,71.8 335.5,72.4 337.2,71.6 338.3,73.0 339.5,74.9 320.2,68.6ZM372.9,52.1 374.2,52.2 374.3,52.5 372.7,52.3Z" fill="#e0efeb"/><path d="M374.0,128.3 375.3,129.9 373.8,131.6 373.7,134.3 372.2,137.7 371.7,141.0 371.6,143.7 370.9,147.1 370.0,149.8 370.0,153.1 370.2,155.4 369.2,158.7 368.5,160.3 369.5,160.9 369.8,162.0 372.8,162.3 372.6,162.3 370.9,163.6 369.2,163.1 367.6,162.0 366.2,159.8 367.0,157.6 365.9,156.1 368.1,154.2 368.7,150.9 367.8,148.7 368.1,145.6 369.2,143.7 370.4,141.0 370.4,137.7 370.9,134.9 371.5,132.1 371.8,128.8 371.7,124.8 371.5,124.7 371.7,124.7 372.6,123.8 373.7,125.5Z" fill="#fbe1ea"/><path d="M366.3,104.5 365.9,104.6 362.8,108.3 362.1,110.0 360.6,108.3 361.0,107.3 360.0,106.9 360.4,105.1 361.0,103.6 362.3,103.0 363.7,103.7 365.4,104.2Z" fill="#f08fb5"/><path d="M365.9,104.6 366.3,104.5 368.1,107.0 372.0,107.5 372.0,109.1 368.7,110.0 367.8,112.6 368.8,114.9 371.3,115.0 371.3,116.7 372.6,116.7 373.4,118.3 373.1,121.1 372.6,122.4 372.6,123.8 371.7,124.7 371.5,124.7 371.6,124.7 370.4,123.6 367.6,122.2 365.2,120.0 364.1,117.8 362.6,115.0 361.2,112.2 359.6,111.1 359.5,109.5 360.6,108.3 362.1,110.0 362.8,108.3Z" fill="#f9d0df"/><path d="M369.4,96.2 372.0,96.8 374.8,97.6 374.4,100.1 375.3,103.2 372.2,102.6 372.6,105.1 372.0,107.5 368.1,107.0 366.3,104.5 365.4,104.2 363.7,103.7 362.3,103.0 362.6,101.7 363.9,100.3 363.7,98.4 363.3,96.5 363.8,94.9 364.5,95.7 365.4,94.1 365.9,92.8 366.7,92.2 368.7,91.8 370.2,90.9 369.6,92.1 368.7,94.3Z" fill="#f9d0df"/><path d="M380.0,100.1 378.1,100.1 379.3,102.1 377.0,103.6 375.4,103.2 375.3,103.2 374.4,100.1 374.8,97.6 372.0,96.8 369.4,96.2 368.7,94.3 369.6,92.1 370.2,90.9 370.4,90.8 370.1,92.3 370.9,92.3 372.0,91.1 373.7,92.3 376.4,92.8 378.6,93.1 380.9,92.7 382.0,94.0 383.1,95.1 381.6,97.9 382.3,98.8Z" fill="#fdfdfd"/><path d="M386.9,102.4 384.4,103.2 383.1,101.7 383.1,98.8 382.3,98.8 381.6,97.9 383.1,95.1 384.7,96.8 386.3,97.8 386.2,98.1 385.3,100.1Z" fill="#f7fbfa"/><path d="M385.3,100.1 386.2,98.1 386.3,97.8 386.2,97.7 386.4,97.9 388.6,97.9 389.7,98.2 389.1,102.0 386.9,102.4Z" fill="#f7fbfa"/><path d="M389.7,98.2 390.3,98.3 392.2,99.9 391.4,101.7 389.1,102.0Z" fill="#f7fbfa"/><path d="M377.2,117.2 379.8,118.4 382.5,119.8 383.1,122.4 385.7,124.4 385.1,126.6 384.2,125.8 381.1,126.2 380.6,127.2 380.1,129.0 377.5,128.8 375.3,129.9 374.0,128.3 373.7,125.5 372.6,123.8 372.6,122.4 373.1,121.1 373.4,118.3 372.6,116.7 375.9,115.4 377.1,115.3Z" fill="#fbfbfb"/><path d="M384.2,125.8 385.1,126.6 385.3,128.8 387.7,129.2 388.0,131.0 389.4,131.0 389.0,132.8 387.7,134.8 384.6,134.6 385.7,132.7 383.1,131.0 380.1,129.0 380.6,127.2 381.1,126.2Z" fill="#f1f7f5"/><path d="M387.9,138.6 390.6,140.7 390.4,141.8 389.1,143.0 386.9,143.0 384.8,142.1 385.1,140.4 385.7,137.9Z" fill="#e6f2ee"/><path d="M387.7,135.9 385.7,137.9 385.1,140.4 384.8,142.1 386.2,144.3 385.8,146.5 383.1,147.5 380.9,147.6 380.5,149.8 377.5,149.8 378.6,151.5 377.2,153.7 374.8,155.4 376.7,156.7 374.8,159.0 373.1,160.9 373.8,162.3 372.8,162.3 369.8,162.0 369.5,160.9 368.5,160.3 369.2,158.7 370.2,155.4 370.0,153.1 370.0,149.8 370.9,147.1 371.6,143.7 371.7,141.0 372.2,137.7 373.7,134.3 373.8,131.6 375.3,129.9 377.5,128.8 380.1,129.0 383.1,131.0 385.7,132.7 384.6,134.6 387.7,134.8 389.0,132.8 389.9,134.6Z" fill="#fcf2f5"/><path d="M394.1,103.9 393.6,104.7 395.8,105.4 397.4,105.3 400.2,106.7 403.0,107.6 405.2,107.6 407.4,108.9 409.0,110.0 410.5,110.6 410.9,112.8 410.2,115.0 408.5,117.2 406.8,118.9 406.3,121.1 406.3,123.8 405.4,126.1 404.1,128.8 403.0,129.9 400.2,130.1 398.0,131.0 395.8,133.0 395.7,135.5 394.1,137.1 391.9,139.9 390.4,141.8 390.6,140.7 387.9,138.6 385.7,137.9 387.7,135.9 389.9,134.6 389.0,132.8 389.4,131.0 388.0,131.0 387.7,129.2 385.3,128.8 385.1,126.6 385.7,124.4 383.1,122.4 382.5,119.8 379.8,118.4 377.2,117.2 377.1,115.3 375.9,115.4 372.6,116.7 371.3,116.7 371.3,115.0 368.8,114.9 367.8,112.6 368.7,110.0 372.0,109.1 372.0,107.5 372.6,105.1 372.2,102.6 375.3,103.2 375.4,103.2 377.0,103.6 379.3,102.1 378.1,100.1 380.0,100.1 382.3,98.8 383.1,98.8 383.1,101.7 384.4,103.2 386.9,102.4 389.1,102.0 391.4,101.7 392.2,99.9 393.6,102.3Z" fill="#dcece8"/><path d="M439.8,75.8 436.1,75.8 436.1,78.5 435.0,79.1 435.0,81.0 430.7,81.0 431.7,78.5 433.0,76.3 434.8,73.9 439.8,73.9Z" fill="#e9f4f1"/><path d="M443.9,71.3 439.8,72.8 439.8,73.9 434.8,73.9 436.7,73.0 438.3,71.9 438.7,70.6 439.1,68.6 441.1,67.2 442.2,66.4 442.9,64.9 443.5,64.8 446.1,65.5 447.2,65.7 448.1,68.9 445.5,70.2Z" fill="#7ec5af"/><path d="M436.1,78.5 436.1,75.8 439.8,75.8 439.8,74.3 444.1,76.9 442.8,82.4 443.3,87.4 437.6,87.5 435.9,88.1 433.9,86.1 431.2,86.8 431.7,84.6 431.4,82.9 430.6,81.3 430.7,81.0 435.0,81.0 435.0,79.1Z" fill="#e0f0eb"/><path d="M436.8,90.8 434.3,90.6 430.9,90.9 430.8,89.6 430.1,88.2 431.2,86.8 433.9,86.1 435.9,88.1Z" fill="#dceee9"/><path d="M432.8,92.3 430.9,90.9 434.3,90.6 434.3,91.6Z" fill="#c9e5dd"/><path d="M436.7,96.9 434.8,95.1 434.7,94.4 436.7,93.4 438.0,95.1Z" fill="#c9e5dd"/><path d="M440.2,96.1 441.1,99.6 439.5,99.0 436.7,96.9 438.0,95.1 439.0,96.3Z" fill="#e3f1ed"/><path d="M436.8,90.8 439.5,90.9 440.6,93.2 440.2,96.1 439.0,96.3 438.0,95.1 436.7,93.4 434.7,94.4 433.4,92.9 432.8,92.3 434.3,91.6 434.3,90.6Z" fill="#bfe1d7"/><path d="M442.8,92.9 443.3,93.0 446.4,94.0 446.0,98.9 443.9,98.8 441.1,99.6 440.2,96.1 440.6,93.2Z" fill="#cfe8e1"/><path d="M449.4,92.3 450.0,95.1 450.1,97.3 450.7,97.8 449.4,98.2 447.2,99.2 446.0,98.9 446.4,94.0 446.3,92.3Z" fill="#c4e3da"/><path d="M449.4,92.3 450.5,92.3 451.2,94.5 451.2,97.6 450.7,97.8 450.1,97.3 450.0,95.1Z" fill="#d5ebe5"/><path d="M452.1,91.5 453.4,91.6 453.4,93.4 452.4,95.7 452.4,97.4 451.2,97.6 451.2,94.5 450.5,92.3Z" fill="#d5ebe5"/><path d="M447.2,88.8 449.6,87.9 450.5,89.6 451.8,90.7 452.1,91.5 450.5,92.3 449.4,92.3 446.3,92.3 446.4,94.0 443.3,93.0 443.7,91.5 445.0,89.8Z" fill="#cbe6de"/><path d="M442.8,82.4 444.1,76.9 450.7,81.2 453.0,83.5 454.0,83.4 454.0,86.3 453.3,87.5 450.5,87.9 449.6,87.9 447.2,88.8 445.0,89.8 443.7,91.5 443.3,93.0 442.8,92.9 440.6,93.2 439.5,90.9 436.8,90.8 435.9,88.1 437.6,87.5 443.3,87.4Z" fill="#cfe8e1"/><path d="M453.4,91.6 453.8,89.6 457.1,90.1 459.4,90.3 462.7,89.9 464.4,89.4 465.1,90.8 465.5,91.8 464.1,93.4 462.7,96.2 461.0,96.9 459.7,97.4 458.9,99.2 458.9,99.5 458.6,99.5 457.1,99.6 456.0,99.7 455.3,98.4 454.4,97.5 452.4,97.4 452.4,95.7 453.4,93.4Z" fill="#c0e1d8"/><path d="M454.0,86.3 454.0,83.4 455.8,82.9 457.7,81.5 462.7,78.5 466.0,79.1 467.1,82.1 466.5,85.9 464.3,88.5 464.4,89.4 462.7,89.9 459.4,90.3 457.1,90.1 453.8,89.6 453.4,91.6 452.1,91.5 451.8,90.7 450.5,89.6 449.6,87.9 450.5,87.9 453.3,87.5Z" fill="#b5dcd1"/><path d="M459.9,71.1 459.4,69.1 457.7,67.1 458.6,65.8 458.9,63.7 459.0,63.4 460.2,63.3 461.6,63.6 461.0,64.7 461.6,65.8 460.5,66.7 461.3,67.2 462.1,67.8 462.1,69.1 460.8,70.8Z" fill="#a0d3c3"/><path d="M475.9,82.4 475.9,82.9 466.0,79.1 462.7,78.5 460.5,77.4 459.9,75.8 460.5,74.7 459.9,71.1 460.8,70.8 462.1,69.1 462.1,67.8 463.8,68.1 466.3,68.8 466.5,69.7 468.7,70.3 470.4,71.0 471.5,70.2 471.5,68.8 473.2,68.1 474.8,68.5 477.0,69.3 477.0,80.2 477.0,82.4Z" fill="#a5d5c6"/><path d="M479.2,69.9 481.5,70.3 482.6,69.9 483.7,69.6 485.1,69.9 487.2,69.9 488.0,71.9 487.4,73.5 487.2,73.9 486.4,73.2 485.4,71.4 485.4,72.4 486.4,73.8 487.0,75.2 488.1,77.1 488.9,78.5 490.2,80.2 477.0,80.2 477.0,69.3Z" fill="#89c9b5"/><path d="M445.5,70.2 448.1,68.9 447.2,65.7 449.4,64.9 451.1,64.1 452.7,63.8 454.9,63.8 457.7,63.6 459.0,63.4 458.9,63.7 458.6,65.8 457.7,67.1 459.4,69.1 459.9,71.1 460.5,74.7 459.9,75.8 460.5,77.4 462.7,78.5 457.7,81.5 455.8,82.9 454.0,83.4 453.0,83.5 450.7,81.2 444.1,76.9 439.8,74.3 439.8,73.9 439.8,72.8 443.9,71.3Z" fill="#9ad0bf"/><path d="M460.2,103.3 460.2,101.9 461.9,102.1 461.9,103.4Z" fill="#ffffff"/><path d="M462.7,96.2 464.1,93.4 465.5,91.8 465.1,90.8 465.5,90.3 466.1,91.8 466.0,93.4 464.9,93.7 466.5,96.2 465.4,97.9 465.5,99.0 467.1,101.7 467.1,102.6 464.1,102.1 461.9,102.1 460.2,101.9 460.2,101.8 460.1,100.6 459.2,99.5 458.9,99.5 458.9,99.2 459.7,97.4 461.0,96.9Z" fill="#e3f1ed"/><path d="M464.1,102.1 464.1,103.1 465.3,103.1 465.3,105.1 465.3,106.7 463.2,107.0 462.1,107.3 461.8,108.9 460.2,107.3 459.4,105.6 459.7,103.9 460.2,103.3 461.9,103.4 461.9,102.1Z" fill="#ffffff"/><path d="M465.3,106.7 465.3,105.1 465.3,103.1 464.1,103.1 464.1,102.1 467.1,102.6 467.1,101.7 467.6,100.6 470.0,100.6 469.3,102.3 469.1,105.1 467.1,107.3 467.1,108.9 465.3,109.9 463.8,109.6 462.7,110.0 461.8,108.9 462.1,107.3 463.2,107.0Z" fill="#f5faf8"/><path d="M465.3,109.9 467.1,108.9 467.1,107.3 469.1,105.1 469.3,102.3 470.0,100.6 470.0,99.7 471.0,98.9 474.3,100.0 476.5,98.9 479.7,98.9 480.4,99.6 482.0,99.4 483.5,100.6 483.5,102.0 484.0,102.2 482.2,103.6 482.1,106.0 481.5,107.6 481.7,109.4 482.1,111.7 483.3,113.6 481.4,113.9 480.8,114.8 481.0,116.7 482.3,118.0 482.3,119.3 480.8,118.3 479.5,117.3 477.4,116.9 476.4,117.1 475.9,116.6 473.9,116.9 473.5,115.0 473.5,112.6 471.0,112.2 470.4,113.3 468.7,113.5 467.8,111.1 463.8,111.0 463.0,111.2 462.7,110.0 463.8,109.6Z" fill="#d8ece7"/><path d="M468.7,113.5 470.4,113.3 471.0,112.2 473.5,112.6 473.5,115.0 473.9,116.9 475.9,116.6 475.9,118.9 473.7,118.9 473.7,122.4 475.3,124.0 473.1,124.3 469.7,123.7 464.3,123.7 462.5,123.7 462.4,123.6 462.4,122.2 463.2,119.4 464.7,117.8 464.7,116.1 463.8,114.5 464.1,113.7 463.0,111.2 463.8,111.0 467.8,111.1Z" fill="#fdfdfd"/><path d="M473.1,124.3 475.3,124.0 477.3,124.2 476.5,125.0 472.6,124.7 472.6,128.8 471.5,128.8 471.5,135.9 470.4,136.5 468.6,136.2 467.6,136.1 466.3,134.3 466.0,132.1 465.4,129.7 464.3,127.7 463.2,125.3 462.5,123.7 464.3,123.7 469.7,123.7Z" fill="#d7ece6"/><path d="M478.1,125.5 480.0,127.2 481.8,129.0 480.4,129.7 479.2,130.6 477.9,131.9 477.5,132.9 474.8,132.5 473.7,133.9 472.3,134.1 471.5,131.9 471.5,128.8 472.6,128.8 472.6,124.7 476.5,125.0 477.3,124.2Z" fill="#a5d6c7"/><path d="M483.0,121.7 485.9,123.0 485.8,125.0 485.9,126.4 485.2,128.0 484.0,129.3 481.8,129.0 480.0,127.2 478.1,125.5 477.3,124.2 479.2,124.3 481.4,122.2Z" fill="#8fcbb8"/><path d="M480.6,138.3 479.2,137.2 481.0,136.1 481.9,137.1Z" fill="#9bd1c0"/><path d="M484.8,134.1 484.0,134.7 483.5,134.1 484.0,133.0 484.8,133.2Z" fill="#9bd1c0"/><path d="M471.5,135.9 471.5,131.9 472.3,134.1 473.7,133.9 474.8,132.5 477.5,132.9 477.9,131.9 479.2,130.6 480.4,129.7 481.8,129.0 484.0,129.3 484.8,131.6 484.8,133.2 484.0,133.0 483.5,134.1 484.0,134.7 484.8,134.1 485.8,134.2 485.3,136.0 484.0,137.4 482.6,139.1 480.7,140.8 479.2,141.8 477.8,142.1 475.4,142.1 473.7,142.3 471.5,143.0 469.9,142.4 469.6,140.7 469.5,139.5 468.5,138.2 467.6,136.1 468.6,136.2 470.4,136.5ZM481.9,137.1 481.0,136.1 479.2,137.2 480.6,138.3Z" fill="#9bd1c0"/><path d="M488.0,119.4 489.1,121.0 489.0,122.2 488.4,123.4 487.3,122.2 487.4,120.5 486.1,120.0 485.6,119.5 485.9,118.3 486.2,116.4 485.8,114.9 487.0,115.0 487.7,117.2Z" fill="#a5d6c7"/><path d="M475.9,116.6 476.4,117.1 477.4,116.9 479.5,117.3 480.8,118.3 482.3,119.3 482.3,118.0 481.0,116.7 480.8,114.8 481.4,113.9 483.3,113.6 485.8,114.9 486.2,116.4 485.9,118.3 485.6,119.5 486.1,120.0 482.8,120.9 483.0,121.7 481.4,122.2 479.2,124.3 477.3,124.2 475.3,124.0 473.7,122.4 473.7,118.9 475.9,118.9Z" fill="#b9ded3"/><path d="M487.7,117.2 487.0,115.0 485.8,114.9 483.3,113.6 482.1,111.7 481.9,109.4 483.1,108.1 483.5,107.2 483.1,105.6 487.0,105.6 491.0,107.8 491.1,108.4 493.1,109.7 492.4,111.1 493.0,112.2 493.0,113.9 493.4,115.6 494.1,116.1 491.4,117.0 489.2,117.3Z" fill="#add9cc"/><path d="M484.8,131.6 484.0,129.3 485.2,128.0 485.9,126.4 485.8,125.0 485.9,123.0 483.0,121.7 482.8,120.9 486.1,120.0 487.4,120.5 487.3,122.2 488.4,123.4 489.0,122.2 489.1,121.0 488.0,119.4 487.7,117.2 489.2,117.3 491.4,117.0 494.1,116.1 494.3,118.3 494.4,120.8 493.6,122.5 492.0,123.6 490.2,124.4 488.6,126.4 487.9,126.6 488.4,128.8 488.6,131.0 486.4,132.4 485.8,133.2 485.8,134.2 484.8,134.1 484.8,133.2Z" fill="#9dd2c1"/><path d="M481.9,109.4 481.7,109.4 481.5,107.6 482.1,106.0 483.1,105.6 483.5,107.2 483.1,108.1Z" fill="#8fccb9"/><path d="M482.2,103.6 484.0,102.2 483.5,100.6 484.8,100.5 486.4,100.3 487.0,99.9 487.5,101.2 488.1,102.8 487.0,104.3 487.0,105.6 483.1,105.6 482.1,106.0Z" fill="#80c5b0"/><path d="M487.0,105.6 487.0,104.3 488.1,102.8 487.5,101.2 487.0,99.9 488.1,98.6 489.2,99.6 491.4,100.5 493.1,100.7 495.7,100.2 494.7,101.4 494.7,105.4 495.3,106.4 494.2,107.4 493.6,108.7 493.1,109.7 491.1,108.4 491.0,107.8Z" fill="#8fccb9"/><path d="M495.6,91.8 496.3,90.7 497.3,90.7 497.3,91.8 496.9,92.9 496.3,92.3Z" fill="#67bba1"/><path d="M492.5,88.4 491.3,88.1 489.8,88.7 490.3,85.7 492.0,84.6 493.1,87.4 494.7,88.5 496.4,90.1 497.3,90.7 496.3,90.7 494.5,88.9Z" fill="#67bba1"/><path d="M495.7,100.2 496.9,99.5 499.2,99.0 502.5,95.7 501.4,95.7 498.0,94.5 496.9,92.9 497.3,91.8 498.0,92.9 499.7,92.7 501.4,92.1 503.6,92.0 506.0,91.3 505.9,92.9 505.6,94.0 504.5,95.7 503.6,97.3 502.5,99.2 500.8,101.2 499.2,102.3 497.5,103.7 495.8,105.4 495.3,106.4 494.7,105.4 494.7,101.4Z" fill="#6fbfa6"/><path d="M487.8,97.1 485.9,95.7 487.1,95.0 487.3,92.9 488.2,91.5 489.3,90.5 489.8,88.7 491.3,88.1 492.5,88.4 494.5,88.9 496.3,90.7 495.6,91.8 496.3,92.3 496.9,92.9 498.0,94.5 501.4,95.7 502.5,95.7 499.2,99.0 496.9,99.5 495.7,100.2 493.1,100.7 491.4,100.5 489.2,99.6 488.1,98.6 488.4,98.5Z" fill="#3fae8a"/><path d="M480.4,94.2 482.0,93.4 483.7,93.7 485.3,91.2 486.1,91.0 486.0,92.7 487.3,92.9 487.1,95.0 485.9,95.7 487.8,97.1 488.4,98.5 488.1,98.6 487.0,99.9 486.4,100.3 484.8,100.5 483.5,100.6 482.0,99.4 480.4,99.6 479.7,98.9 478.1,97.3 476.5,95.7 475.6,94.9 476.5,94.9 478.7,94.0Z" fill="#9ed2c2"/><path d="M489.3,90.5 488.2,91.5 487.3,92.9 486.0,92.7 486.1,91.0 485.3,91.2 483.7,93.7 482.0,93.4 480.4,94.2 478.7,94.0 476.5,94.9 475.6,94.9 474.7,92.3 473.7,90.1 474.7,87.1 475.9,87.1 475.9,82.9 475.9,82.4 477.0,82.4 477.0,80.2 490.2,80.2 490.5,81.3 490.7,83.7 492.0,84.6 490.3,85.7 489.8,88.7Z" fill="#8dcbb8"/><path d="M470.4,94.5 472.6,93.4 474.7,92.3 475.6,94.9 476.5,95.7 478.1,97.3 479.7,98.9 476.5,98.9 474.3,100.0 471.0,98.9 470.0,99.7 470.0,100.6 467.6,100.6 467.1,101.7 465.5,99.0 465.4,97.9 466.5,96.2 468.2,96.0Z" fill="#cde7e0"/><path d="M475.9,82.9 475.9,87.1 474.7,87.1 473.7,90.1 474.7,92.3 472.6,93.4 470.4,94.5 468.2,96.0 466.5,96.2 464.9,93.7 466.0,93.4 466.1,91.8 465.5,90.3 465.1,90.8 464.4,89.4 464.3,88.5 466.5,85.9 467.1,82.1 466.0,79.1ZM484.0,102.2 483.5,102.0 483.5,100.6ZM481.9,109.4 482.1,111.7 481.7,109.4Z" fill="#c2e2d9"/><path d="M440.3,58.1 442.1,58.2 442.5,58.5 441.9,59.2 441.7,60.6 441.7,61.9 441.2,63.4 439.7,63.6 439.5,63.6 438.9,61.7 439.7,59.2 439.4,58.2 439.6,58.2Z" fill="#a5d5c6"/><path d="M452.9,58.2 451.8,58.7 450.3,59.4 449.1,60.8 449.6,61.6 448.7,62.5 448.5,62.9 447.4,63.6 446.9,63.8 444.5,63.9 443.4,64.6 442.5,64.1 442.3,63.6 441.2,63.4 441.7,61.9 441.7,60.6 441.9,59.2 442.5,58.5 442.1,58.2 440.3,58.1 439.6,58.2 439.4,58.2 439.1,57.0 440.6,56.2 443.3,56.4 445.5,56.5 447.4,56.5 450.2,57.3 452.9,57.6Z" fill="#99d0bf"/><path d="M453.8,47.0 454.6,45.9 456.0,45.5 457.1,45.2 457.3,45.2 457.4,45.6 457.1,46.7 456.0,47.2 456.0,48.1 456.1,49.0 456.5,49.8 455.8,49.8 454.7,49.1 454.0,49.2 452.2,48.0 452.9,47.8Z" fill="#fdfdfd"/><path d="M460.9,53.0 458.8,53.6 457.1,53.8 456.0,53.3 457.7,51.9 460.0,52.0Z" fill="#cfe8e1"/><path d="M454.7,49.1 455.8,49.8 456.5,49.8 458.5,50.3 457.7,51.9 456.0,53.3 457.1,53.8 457.1,55.6 457.7,56.1 456.6,56.9 455.3,56.6 453.8,56.4 452.8,57.0 452.9,57.6 450.2,57.3 447.4,56.5 448.1,55.2 448.1,53.6 447.0,52.5 444.4,51.7 444.1,51.0 446.1,50.5 447.6,50.8 447.4,49.6 448.3,49.9 449.6,49.8 451.1,49.1 451.2,48.2 452.1,48.0 452.2,48.0 454.0,49.2Z" fill="#d4eae4"/><path d="M458.4,42.6 458.5,41.5 459.9,41.3 461.1,40.7 460.8,42.0 461.3,42.4 460.5,43.1 460.1,43.7 460.3,43.9 458.9,43.8 458.9,43.7Z" fill="#fdfdfd"/><path d="M463.6,51.2 464.7,50.7 466.0,50.3 468.1,50.7 468.2,51.4 467.1,52.8 464.5,53.1 463.1,52.9 460.9,53.0 460.0,52.0 461.0,52.1 463.8,52.0Z" fill="#cfe8e1"/><path d="M470.2,49.8 468.2,50.7 468.1,50.7 466.0,50.3 464.7,50.7 462.9,49.0 465.8,48.1 467.3,48.8Z" fill="#fdfdfd"/><path d="M459.1,44.8 458.9,43.8 460.3,43.9 460.5,44.2 461.6,44.8 462.7,44.6 464.3,44.4 465.1,44.9 465.7,46.5 466.0,48.0 465.8,48.1 462.9,49.0 464.7,50.7 463.6,51.2 463.8,52.0 461.0,52.1 460.0,52.0 457.7,51.9 458.5,50.3 456.5,49.8 456.1,49.0 456.0,48.1 456.0,47.2 457.1,46.7 457.4,45.6 457.3,45.2 458.5,45.2Z" fill="#fdfdfd"/><path d="M458.8,53.6 460.9,53.0 463.1,52.9 464.5,53.1 464.5,54.0 463.1,54.3 463.0,55.3 464.3,56.3 465.1,57.5 466.9,58.2 467.1,58.6 468.2,59.2 469.9,60.2 469.4,60.4 468.2,59.7 467.8,60.5 468.3,61.4 467.6,61.7 467.2,62.5 467.1,62.5 466.8,62.3 467.0,61.7 467.1,60.8 466.5,60.2 465.4,59.6 464.9,59.2 463.8,58.8 462.9,58.3 461.6,57.6 461.0,57.0 460.7,56.0 459.9,55.6 459.1,55.4 458.2,56.0 457.7,56.1 457.1,55.6 457.1,53.8Z" fill="#a6d6c7"/><path d="M475.5,46.7 475.9,48.6 474.5,50.2 470.2,49.8 467.3,48.8 465.8,48.1 466.0,48.0 465.7,46.5 465.1,44.9 467.1,44.5 469.6,43.9 470.2,44.4 471.3,44.4 474.8,44.4 475.8,44.9Z" fill="#fdfdfd"/><path d="M470.2,51.7 468.2,51.4 468.1,50.7 468.2,50.7 470.2,49.8 474.5,50.2 473.9,51.0Z" fill="#bfe1d7"/><path d="M473.9,51.0 474.7,51.4 472.6,53.4 470.2,53.8 467.6,53.2 467.1,52.8 468.2,51.4 470.2,51.7Z" fill="#bfe1d7"/><path d="M467.6,53.2 470.2,53.8 470.8,54.9 470.6,56.4 469.9,57.6 468.2,56.7 467.0,56.3 466.0,55.5 465.4,54.5 464.4,54.8 464.5,54.0 464.5,53.1 467.1,52.8Z" fill="#9ccfbf"/><path d="M472.6,59.3 471.7,60.7 470.8,59.9 470.8,58.6 470.6,58.2 470.7,58.2 472.2,58.1 472.1,58.8Z" fill="#9ccfbf"/><path d="M476.5,58.6 478.5,58.4 478.1,59.4 477.0,59.3 475.9,59.5 476.3,60.2 475.2,59.9 474.6,59.8 474.4,60.8 475.0,61.3 474.8,61.6 475.9,62.4 475.9,62.8 474.8,62.6 474.9,63.2 474.8,64.1 474.2,64.1 473.4,63.8 472.8,62.7 472.9,62.2 472.3,61.5 471.7,60.7 472.6,59.3 474.8,58.8Z" fill="#8fcbb9"/><path d="M474.5,55.6 474.2,57.7 474.8,58.8 472.6,59.3 472.1,58.8 472.2,58.1 470.7,58.2 469.9,57.6 470.6,56.4 470.8,54.9 470.2,53.8 472.6,53.4 474.3,55.3Z" fill="#9ccfbf"/><path d="M479.2,55.7 480.8,56.1 480.6,56.5 480.0,57.3 480.4,58.1 478.5,58.4 476.5,58.6 474.8,58.8 474.2,57.7 474.5,55.6 477.0,56.2Z" fill="#b5ddd1"/><path d="M478.8,51.2 480.6,53.1 480.6,54.2 482.2,54.4 481.1,55.6 480.8,56.1 479.2,55.7 477.0,56.2 474.5,55.6 474.3,55.3 472.6,53.4 474.7,51.4 476.5,51.5Z" fill="#b5ddd1"/><path d="M482.6,53.1 481.7,53.2 480.6,54.2 480.6,53.1 478.8,51.2 479.8,50.9 481.7,51.4Z" fill="#b5ddd1"/><path d="M475.7,47.4 477.0,47.1 479.8,47.6 483.1,47.8 484.2,46.8 487.0,46.7 488.6,48.8 491.4,49.3 493.6,49.7 493.4,51.4 491.7,52.4 491.4,52.4 489.8,52.9 488.1,53.4 488.6,54.4 489.8,54.5 488.4,54.8 487.0,55.4 486.4,55.2 485.3,54.3 486.5,53.6 484.8,53.3 484.2,52.9 483.3,53.1 482.2,54.4 480.6,54.2 481.7,53.2 482.6,53.1 481.7,51.4 479.8,50.9 478.8,51.2 476.5,51.5 474.7,51.4 473.9,51.0 474.5,50.2 475.9,48.6ZM490.9,54.2 490.7,54.8 490.6,54.8Z" fill="#d2e9e3"/><path d="M477.9,43.8 478.8,42.9 480.6,42.4 483.6,43.0 483.7,44.2 485.3,45.6 484.2,46.8 483.1,47.8 479.8,47.6 477.0,47.1 475.7,47.4 475.5,46.7 475.8,44.9Z" fill="#f4f9f7"/><path d="M471.3,44.4 471.5,43.8 472.6,43.4 474.6,43.7 474.8,44.4Z" fill="#f3a9c6"/><path d="M477.9,43.8 475.8,44.9 474.8,44.4 474.6,43.7 472.6,43.4 472.6,42.1 476.8,42.1 478.8,42.9Z" fill="#fbe6ee"/><path d="M480.0,40.9 480.6,42.4 478.8,42.9 476.8,42.1 472.6,42.1 472.6,42.0 473.2,40.9 474.3,40.7 475.0,41.5 476.2,41.4 476.3,40.5 476.4,40.5 477.0,40.4Z" fill="#fbe6ee"/><path d="M475.4,39.6 475.4,39.1 477.0,38.7 480.4,38.7 479.8,40.4 480.0,40.9 477.0,40.4 476.4,40.5 476.3,40.5 476.4,40.0ZM474.6,38.2 475.5,38.2 474.8,38.3Z" fill="#fbe6ee"/><path d="M477.8,28.2 478.1,27.1 480.4,27.1 481.5,27.4 481.4,28.2 480.9,29.1 482.6,29.7 481.5,30.5 482.6,31.9 482.2,32.9 483.1,33.5 484.2,35.0 482.0,36.7 480.1,37.6 478.1,37.7 475.5,38.2 474.6,38.2 473.2,37.6 472.9,36.5 472.9,35.4 474.3,34.3 476.5,33.0 477.5,32.5 476.2,31.8 475.6,29.9 472.2,28.1ZM472.9,33.2 471.5,34.1 471.5,33.7 473.2,32.9Z" fill="#f3a3c4"/><path d="M464.9,33.2 466.0,31.3 467.6,29.3 469.5,28.8 472.2,28.1 475.6,29.9 476.2,31.8 474.1,31.9 473.2,32.9 471.5,33.7 471.5,34.1 472.9,33.2 471.0,34.5 468.7,35.6 468.4,37.1 468.5,37.6 470.2,38.2 469.5,38.9 467.9,39.8 467.6,41.5 467.1,42.4 465.4,42.6 465.1,43.3 463.8,43.3 463.4,42.6 463.0,41.7 462.4,40.7 461.8,39.3 462.7,37.6 463.2,36.5 462.7,34.3Z" fill="#f3a3c4"/><path d="M480.4,27.1 478.1,27.1 477.8,28.2 472.2,28.1 469.5,28.8 467.6,29.3 466.0,31.3 464.9,33.2 462.7,34.3 463.2,36.5 462.7,37.6 461.8,39.3 461.1,38.7 459.9,39.5 458.2,40.3 456.9,40.4 455.6,39.5 454.9,38.2 454.9,36.8 455.0,36.0 456.6,35.1 458.8,34.3 460.5,33.7 462.1,32.6 463.2,31.5 464.3,30.2 466.0,29.1 467.6,28.4 469.9,27.4 472.6,27.0 475.4,26.3 477.9,25.9 480.4,26.0 483.7,26.8 482.6,27.4 483.1,27.5 481.4,28.2 481.5,27.4Z" fill="#ee7fae"/><path d="M480.6,58.5 481.4,58.8 481.1,59.1 479.8,59.3 478.9,59.7 478.4,60.0 478.3,59.6 478.1,59.4 478.5,58.4 480.4,58.1ZM498.9,60.6 498.0,60.9 498.4,62.6 498.9,63.4 496.3,63.5 493.6,63.8 491.4,63.8 490.0,63.8 489.4,64.7 489.1,64.8 489.0,64.4 489.4,64.0 488.6,64.0 487.0,64.4 485.3,64.6 483.2,63.8 482.0,64.5 480.4,63.9 479.6,63.6 479.2,62.5 478.5,61.9 479.0,61.1 478.4,60.7 478.4,60.3 478.7,59.9 481.5,59.3 481.7,59.0 484.0,59.1 486.2,58.1 488.1,58.1 489.8,58.8 491.4,59.2 493.6,59.2 495.3,58.6 497.5,59.1 497.7,60.2Z" fill="#6fbfa6"/><path d="M500.8,58.2 502.2,59.0 503.1,58.3 503.3,58.3 503.6,58.6 505.0,59.8 503.9,60.1 503.4,61.6 503.4,62.0 502.5,61.1 500.8,61.5 499.2,60.9 498.9,60.6 497.7,60.2 497.5,59.1 495.3,58.6 495.4,57.8 494.7,57.0 493.6,56.5 496.4,56.7 498.6,57.3Z" fill="#a9d8ca"/><path d="M488.8,68.3 488.6,70.2 488.0,71.8 487.2,69.9 487.8,69.1 488.1,68.0 488.1,67.9 488.2,67.9 489.0,67.7Z" fill="#9ad0bf"/><path d="M488.8,66.2 489.1,66.2 489.6,66.2 489.8,66.7 489.0,67.7 488.2,67.9 488.2,67.8 488.8,66.4Z" fill="#9ad0bf"/><path d="M489.0,68.3 490.1,68.8 492.3,67.6 492.7,68.9 490.3,69.7 491.4,70.8 490.9,71.3 489.8,71.9 489.2,72.2 488.1,71.9 488.0,71.8 488.6,70.2 488.8,68.3Z" fill="#9ad0bf"/><path d="M491.4,63.8 493.6,63.8 496.3,63.5 494.9,64.3 494.7,66.5 492.3,67.6 490.1,68.8 489.0,68.3 489.0,67.7 489.8,66.7 489.6,66.2 489.1,66.2 488.8,66.1 489.2,64.9 489.1,64.8 489.4,64.7 490.0,63.8Z" fill="#8ecbb8"/><path d="M502.9,73.0 501.9,73.0 500.8,72.3 502.1,71.2 502.5,71.4 502.4,71.9Z" fill="#a3d4c5"/><path d="M499.7,66.4 500.3,68.0 502.2,69.3 502.2,70.3 503.5,70.9 502.5,71.3 502.1,71.2 500.8,72.3 498.8,72.2 495.8,70.1 494.1,69.1 492.7,68.9 492.3,67.6 494.7,66.5 494.9,64.3 496.3,63.5 498.9,63.4 500.3,64.7Z" fill="#a3d4c5"/><path d="M500.6,85.5 502.5,85.7 503.6,83.9 506.9,83.5 508.1,86.0 507.1,87.3 503.6,89.0 501.4,89.8 499.2,90.3 497.5,90.5 497.2,89.8 496.8,87.9 496.7,86.4 497.2,86.1 497.5,85.3Z" fill="#7dc4ae"/><path d="M510.9,80.2 510.4,79.4 511.3,77.7 511.8,77.0 512.6,78.1 514.2,78.4 515.5,79.6 514.4,81.8 513.3,83.5 511.9,84.6 510.4,85.2 508.1,86.0 506.9,83.5 510.2,82.4Z" fill="#b5dcd1"/><path d="M511.4,75.8 511.5,76.2 511.3,76.2 511.4,75.8Z" fill="#b5dcd1"/><path d="M506.4,76.9 506.3,77.6 506.3,76.9 506.4,76.8ZM511.8,77.0 511.3,77.7 510.4,79.4 507.4,79.2 506.3,77.6 507.4,77.7 509.1,77.9 510.5,76.5 511.2,76.0 511.3,76.2 511.5,76.2Z" fill="#a3d4c5"/><path d="M506.4,76.8 506.3,76.9 506.3,77.3 505.6,77.3 505.6,77.1 506.0,75.8Z" fill="#a3d4c5"/><path d="M490.9,71.3 491.4,70.8 490.3,69.7 492.7,68.9 494.1,69.1 495.8,70.1 498.8,72.2 500.8,72.3 501.9,73.0 502.9,73.0 504.1,74.4 504.9,75.1 504.9,76.3 505.6,77.1 505.6,77.3 506.3,77.3 506.3,77.6 507.4,79.2 510.4,79.4 510.9,80.2 510.2,82.4 506.9,83.5 503.6,83.9 502.5,85.7 500.6,85.5 497.5,85.3 497.2,86.1 496.7,86.4 495.8,84.9 494.7,83.5 493.1,81.5 492.6,80.7 492.0,78.5 490.6,77.2 489.8,75.8 488.3,73.5 488.1,72.1 489.2,72.2 489.8,71.9Z" fill="#8ecbb8"/><path d="M520.7,64.4 522.9,63.2 524.6,63.6 526.8,62.9 528.2,62.2 528.4,62.6 530.7,63.2 532.2,63.4 528.4,64.7 528.0,66.8 527.1,67.6 526.2,67.9 526.0,69.2 523.1,70.0 522.7,71.4 520.2,71.9 518.5,72.0 516.7,71.6 517.7,70.2 516.6,69.7 516.3,66.9 516.8,65.8 517.1,65.1 518.3,65.5 519.1,65.1Z" fill="#d5ebe5"/><path d="M502.5,61.1 503.4,62.0 503.6,62.9 505.0,63.3 506.9,63.9 508.9,63.6 508.9,63.1 509.0,63.3 511.3,62.3 513.5,62.8 515.7,64.0 517.1,64.0 517.1,65.1 516.8,65.8 516.3,66.9 516.6,69.7 517.7,70.2 516.7,71.6 518.5,73.2 519.3,74.4 518.8,75.2 517.5,76.6 514.6,76.4 512.7,76.0 512.2,74.7 509.7,75.1 507.4,74.1 505.8,72.7 504.9,71.3 503.5,70.9 502.2,70.3 502.2,69.3 500.3,68.0 499.7,66.4 500.3,64.7 498.9,63.4 498.4,62.6 498.0,60.9 498.9,60.6 499.2,60.9 500.8,61.5ZM511.4,75.8 511.3,76.2 511.2,76.0 511.4,75.8Z" fill="#b2dbcf"/><path d="M518.5,73.2 516.7,71.6 518.5,72.0 520.2,71.9 522.7,71.4 523.1,70.0 526.0,69.2 526.2,67.9 527.1,67.6 528.0,66.8 528.4,64.7 532.2,63.4 535.4,65.3 531.5,68.0 532.6,68.8 531.8,70.2 530.1,71.4 528.9,73.7 527.2,73.5 526.3,74.4 527.7,76.1 527.9,77.5 525.5,77.6 524.8,78.3 523.9,77.9 523.1,77.1 522.9,76.4 520.2,76.5 517.5,76.6 518.8,75.2 519.3,74.4Z" fill="#e9f4f1"/><path d="M512.4,58.8 512.4,57.8 514.1,57.3 515.7,57.8 515.7,58.8 517.8,59.1 518.4,60.3 520.4,61.5 522.9,63.2 520.7,64.4 519.1,65.1 518.3,65.5 517.1,65.1 517.1,64.0 515.7,64.0 513.5,62.8 511.3,62.3 509.0,63.3 508.9,63.1 508.9,61.9 508.0,60.8 508.9,59.4 507.4,58.6 507.8,58.1 507.6,58.0 509.1,57.7 510.8,58.8Z" fill="#cfe8e1"/><path d="M516.8,55.5 517.9,56.4 521.2,56.2 522.4,57.6 522.9,59.0 524.6,59.2 525.7,58.7 527.3,58.0 527.9,57.7 527.0,58.8 530.1,59.4 528.7,60.1 527.5,60.1 527.3,59.2 525.7,60.1 525.1,60.7 524.0,61.1 524.9,62.3 524.4,63.4 522.9,63.2 520.4,61.5 518.4,60.3 517.8,59.1 515.7,58.8 515.7,57.8 514.1,57.3 512.4,57.8 512.4,58.8 511.3,58.8 511.3,54.8 514.2,54.1Z" fill="#cfe8e1"/><path d="M525.1,60.7 525.7,60.1 527.3,59.2 527.5,60.1 526.2,60.7 528.4,60.8 531.0,60.8 530.9,61.9 532.3,63.0 532.2,63.4 530.7,63.2 528.4,62.6 528.2,62.2 526.8,62.9 524.6,63.6 524.4,63.4 524.9,62.3 524.0,61.1Z" fill="#d9ede8"/><path d="M530.1,59.4 527.0,58.8 527.9,57.7 527.3,58.0 527.9,57.4 530.7,57.0 531.5,56.7 533.1,57.2 537.0,57.2 538.1,57.8 535.6,59.2 534.0,59.8 531.2,60.2 531.0,60.8 528.4,60.8 526.2,60.7 527.5,60.1 528.7,60.1Z" fill="#d9ede8"/><path d="M500.8,50.9 501.4,49.3 503.0,49.2 503.4,48.6 505.6,47.3 508.5,47.7 510.2,48.4 513.5,48.1 515.2,48.6 517.4,48.3 516.8,47.0 516.8,44.9 521.3,44.4 525.7,43.4 527.9,44.6 530.7,44.8 534.3,44.4 535.5,45.6 537.8,48.3 541.7,48.1 543.9,49.7 545.9,50.1 544.3,51.0 543.9,52.4 541.2,52.3 540.4,54.1 540.6,54.5 538.3,55.2 538.7,56.7 538.2,57.0 538.1,57.8 537.0,57.2 533.1,57.2 531.5,56.7 530.7,57.0 527.9,57.4 527.3,58.0 525.7,58.7 524.6,59.2 522.9,59.0 522.4,57.6 521.2,56.2 517.9,56.4 516.8,55.5 514.2,54.1 511.3,54.8 511.3,58.8 510.8,58.8 509.1,57.7 507.6,58.0 506.3,56.7 505.0,55.5 505.8,55.3 506.1,54.8 508.0,54.4 508.0,53.1 505.8,52.8 504.0,53.0 503.0,51.7 501.4,51.1Z" fill="#daede8"/><path d="M542.3,72.5 544.5,73.5 546.8,73.7 546.8,75.3 544.3,75.1 542.3,74.1 540.1,73.7 538.0,72.7 539.2,71.1 540.3,71.2Z" fill="#fdfbfb"/><path d="M551.1,74.8 548.7,75.0 547.7,74.3 548.7,73.3 550.7,73.8Z" fill="#e8538e"/><path d="M546.7,76.9 547.1,75.3 548.7,75.5 548.7,76.5 551.6,76.9 550.2,78.0 550.3,78.9 551.3,78.5 551.8,81.0 551.4,81.5 550.9,79.7 549.5,80.0 547.8,80.3 547.6,80.2 547.6,78.0Z" fill="#fce9f0"/><path d="M527.7,76.1 526.3,74.4 527.2,73.5 528.9,73.7 530.1,71.4 531.8,70.2 532.6,68.8 531.5,68.0 535.4,65.3 536.7,66.6 536.5,67.8 537.1,68.6 536.2,68.6 536.5,70.0 539.2,71.1 538.0,72.7 540.1,73.7 542.3,74.1 544.3,75.1 546.8,75.3 546.8,73.7 547.7,73.5 547.7,74.3 548.7,75.0 551.1,74.8 550.7,73.8 553.3,72.2 555.5,72.0 557.0,73.2 556.6,74.4 554.6,75.2 553.9,77.3 552.5,78.0 552.7,79.6 551.8,81.0 551.3,78.5 550.3,78.9 550.2,78.0 551.6,76.9 548.7,76.5 548.7,75.5 547.1,75.3 546.7,76.9 547.6,78.0 547.6,80.2 547.8,80.3 546.7,80.5 545.6,80.7 545.0,82.2 543.4,83.1 541.7,84.6 540.4,86.1 539.0,86.9 538.1,87.5 538.0,89.6 537.7,91.2 537.6,93.1 536.7,94.1 535.9,94.7 535.1,95.5 534.0,94.5 533.2,92.0 532.1,90.1 531.4,87.9 530.7,86.6 529.9,83.5 529.8,81.3 529.6,80.7 529.2,81.3 527.9,81.5 525.9,79.8 527.1,79.2 525.5,78.9 524.8,78.3 525.5,77.6 527.9,77.5Z" fill="#fdfbfb"/><path d="M552.5,78.0 553.9,77.3 554.6,75.2 556.6,74.4 557.0,73.2 558.3,74.0 558.5,76.0 557.3,77.5 558.6,78.0 558.9,80.1 561.2,80.6 560.1,82.1 558.7,82.7 557.4,84.0 558.4,86.5 558.0,87.7 559.1,90.1 559.5,91.5 558.4,93.4 558.5,91.5 558.0,89.2 557.4,87.4 557.3,86.3 556.4,85.8 554.9,87.0 553.7,86.8 553.9,84.8 553.1,83.2 552.1,82.1 551.4,81.5 551.8,81.0 552.7,79.6Z" fill="#fce6ee"/><path d="M563.6,99.2 563.8,101.2 564.6,103.0 563.8,103.1 562.2,102.0 561.4,101.2 560.5,99.5 560.3,97.9 560.1,97.3 561.1,98.1 562.4,97.6Z" fill="#f9cfe0"/><path d="M558.0,87.7 558.4,86.5 557.4,84.0 558.7,82.7 560.1,82.1 560.5,82.9 561.3,82.9 561.1,84.9 562.3,84.4 564.4,84.3 565.2,85.3 565.3,86.5 566.1,87.3 566.0,88.6 563.3,88.7 562.7,89.5 562.5,91.0 561.1,90.5 561.0,89.6 560.0,89.7 559.7,91.5 559.1,93.1 559.2,94.3 560.2,95.1 560.5,96.5 561.6,96.9 562.4,97.6 561.1,98.1 560.1,97.3 559.4,96.5 558.2,95.7 558.1,94.5 558.4,93.4 559.5,91.5 559.1,90.1Z" fill="#fdeef3"/><path d="M566.0,88.6 566.6,88.6 568.2,88.4 568.2,90.7 566.6,91.6 566.4,92.3 564.9,93.0 563.8,92.8 563.3,91.8 562.5,91.0 562.7,89.5 563.3,88.7Z" fill="#f9d3e1"/><path d="M561.9,79.7 562.4,79.7 563.3,80.6 564.9,81.8 564.4,82.8 565.7,83.9 567.3,85.7 568.2,87.7 568.2,88.4 566.6,88.6 566.0,88.6 566.1,87.3 565.3,86.5 565.2,85.3 564.4,84.3 562.3,84.4 561.1,84.9 561.3,82.9 560.5,82.9 560.1,82.1 561.2,80.6 561.9,81.1Z" fill="#fce6ee"/><path d="M567.4,79.2 567.4,80.3 568.8,80.7 567.4,81.6 566.3,83.5 567.1,85.2 568.2,86.3 569.6,87.4 570.2,89.6 570.1,91.5 568.2,92.9 567.5,93.0 567.1,94.0 565.7,94.9 565.3,93.7 564.9,93.0 566.4,92.3 566.6,91.6 568.2,90.7 568.2,88.4 568.2,87.7 567.3,85.7 565.7,83.9 564.4,82.8 564.9,81.8 563.3,80.6 562.4,79.7 563.3,79.5 565.5,78.7ZM570.8,81.0 571.6,81.1 571.2,81.9Z" fill="#f7c5d9"/><path d="M591.4,61.9 592.5,63.6 592.5,65.3 591.5,65.8 589.3,66.5 589.1,64.7 589.6,63.6 588.7,62.7 589.8,62.2 591.3,61.8Z" fill="#fbe3eb"/><path d="M591.0,58.7 591.2,58.1 592.9,57.0 593.9,57.7 592.8,59.2 592.6,59.7 590.4,60.8 591.3,61.8 589.8,62.2 588.7,62.7 587.6,62.5 587.9,60.9 586.8,60.3 588.7,59.2 589.7,58.3Z" fill="#fbe3eb"/><path d="M557.7,48.8 558.1,47.0 562.5,47.7 563.3,48.9 567.7,49.2 572.1,49.9 576.0,48.9 578.4,49.4 577.1,51.5 581.8,52.9 579.2,53.2 577.6,54.0 573.1,54.8 572.9,56.2 571.0,57.3 565.5,58.5 560.0,57.4 556.0,57.3 554.8,55.5 550.0,54.5 549.7,52.8 546.7,50.9 546.5,50.1 551.1,48.4 553.9,49.2Z" fill="#f8c7da"/><path d="M534.0,59.8 535.6,59.2 538.1,57.8 538.2,57.0 538.7,56.7 538.3,55.2 540.6,54.5 540.4,54.1 541.2,52.3 543.9,52.4 544.3,51.0 545.9,50.1 546.5,50.1 546.7,50.9 549.7,52.8 550.0,54.5 554.8,55.5 556.0,57.3 560.0,57.4 565.5,58.5 571.0,57.3 572.9,56.2 573.1,54.8 577.6,54.0 579.2,53.2 581.8,52.9 577.1,51.5 578.4,49.4 579.6,49.8 581.8,48.9 582.1,46.1 583.2,45.6 586.0,45.4 588.7,46.1 590.4,49.0 593.7,50.4 594.2,51.8 598.3,51.0 596.7,54.8 594.4,55.0 594.4,57.0 593.9,57.7 592.9,57.0 591.2,58.1 591.0,58.7 589.7,58.3 588.7,59.2 586.8,60.3 584.3,61.4 583.4,61.6 584.3,59.6 583.2,59.4 581.0,61.2 579.5,61.6 580.4,62.9 581.2,63.4 582.8,62.7 584.8,63.4 583.2,64.1 581.5,65.6 582.4,66.9 583.2,68.6 584.2,69.7 583.7,70.7 584.3,71.6 583.7,73.0 582.4,74.7 581.5,76.3 580.1,77.4 578.8,78.5 576.5,79.4 575.7,79.8 574.3,80.2 572.7,80.7 571.6,81.1 571.2,81.9 570.7,80.7 569.4,80.5 568.8,80.7 567.4,80.3 567.4,79.2 565.5,78.7 563.3,79.5 562.4,79.7 561.9,79.7 561.9,81.1 561.2,80.6 558.9,80.1 558.6,78.0 557.3,77.5 558.5,76.0 558.3,74.0 557.0,73.2 555.5,72.0 553.3,72.2 550.7,73.8 548.7,73.3 547.7,74.3 547.7,73.5 546.8,73.7 544.5,73.5 542.3,72.5 540.3,71.2 539.2,71.1 536.5,70.0 536.2,68.6 537.1,68.6 536.5,67.8 536.7,66.6 535.4,65.3 532.2,63.4 532.3,63.0 530.9,61.9 531.0,60.8 531.2,60.2ZM571.6,81.1 570.8,81.0 571.2,81.9Z" fill="#f9cfdf"/><path d="M480.9,37.6 480.1,37.6 482.0,36.7 484.2,35.0 483.1,33.5 482.2,32.9 482.6,31.9 481.5,30.5 482.6,29.7 480.9,29.1 481.4,28.2 483.1,27.5 485.9,27.8 489.2,28.0 493.6,29.5 494.9,30.8 494.2,31.3 491.4,31.3 488.1,30.9 485.9,30.6 486.4,31.2 487.9,32.6 487.9,33.3 490.9,34.0 491.4,33.2 494.2,33.1 493.6,32.1 495.8,31.1 498.0,31.3 498.4,29.9 497.8,28.8 500.3,29.3 500.8,30.5 502.5,29.8 508.0,28.8 509.7,29.1 513.5,28.3 516.3,27.3 516.3,28.8 520.7,27.9 523.5,28.2 523.5,27.1 524.0,25.7 525.7,23.8 526.8,23.6 529.9,24.0 529.6,26.0 529.9,28.2 530.4,30.1 529.0,31.1 531.4,30.4 532.1,28.4 533.4,25.8 535.6,24.7 538.7,24.6 539.0,23.1 545.6,22.7 545.6,21.4 552.2,20.5 557.7,20.1 564.7,18.6 567.7,19.6 573.2,19.9 574.9,20.8 569.9,22.7 573.8,22.9 575.4,23.1 581.0,23.8 585.9,23.5 589.8,24.3 592.6,26.0 595.3,25.5 598.6,25.3 604.2,24.3 604.2,23.6 609.7,24.6 615.2,25.3 618.6,26.1 625.2,26.2 626.3,27.6 631.8,27.6 635.7,27.1 637.9,28.0 642.9,27.3 648.4,28.2 648.4,32.6 646.2,33.2 645.6,35.4 641.8,36.2 637.9,38.2 632.9,38.2 630.7,38.4 629.6,40.4 628.5,42.0 628.2,43.7 626.3,45.7 624.6,46.1 622.6,48.1 621.9,45.9 621.3,43.1 621.9,40.9 624.1,39.8 626.3,37.6 629.6,36.5 630.7,35.4 626.3,36.5 623.0,36.4 620.2,38.4 617.4,39.3 614.1,38.7 609.7,38.9 606.4,39.3 604.2,40.9 601.4,43.7 599.0,44.0 600.9,45.0 604.7,45.9 605.6,47.0 604.7,49.2 604.5,51.4 602.5,53.1 600.3,55.0 598.6,56.4 596.4,57.3 595.1,56.7 593.9,57.7 594.4,57.0 594.4,55.0 596.7,54.8 598.3,51.0 594.2,51.8 593.7,50.4 590.4,49.0 588.7,46.1 586.0,45.4 583.2,45.6 582.1,46.1 581.8,48.9 579.6,49.8 578.4,49.4 576.0,48.9 572.1,49.9 567.7,49.2 563.3,48.9 562.5,47.7 558.1,47.0 557.7,48.8 553.9,49.2 551.1,48.4 546.5,50.1 545.9,50.1 543.9,49.7 541.7,48.1 537.8,48.3 535.5,45.6 534.3,44.4 530.7,44.8 527.9,44.6 525.7,43.4 521.3,44.4 516.8,44.9 516.8,47.0 517.4,48.3 515.2,48.6 513.5,48.1 510.2,48.4 508.5,47.7 505.6,47.3 503.4,48.6 503.0,49.2 501.4,49.3 500.8,50.9 501.4,51.1 503.0,51.7 504.0,53.0 503.6,53.1 501.4,54.2 501.1,55.3 501.9,56.4 502.2,57.2 503.3,58.3 503.1,58.3 502.2,59.0 500.8,58.2 498.6,57.3 496.4,56.7 493.6,56.5 493.3,56.4 491.4,55.4 490.7,54.8 490.9,54.2 491.1,54.0 491.6,53.1 492.8,52.3 491.7,52.4 493.4,51.4 493.6,49.7 491.4,49.3 488.6,48.8 487.0,46.7 484.2,46.8 485.3,45.6 483.7,44.2 483.6,43.0 480.6,42.4 480.0,40.9 479.8,40.4 480.4,38.7 482.8,38.3ZM489.2,72.2 488.1,72.1 488.1,71.9ZM470.7,58.2 470.6,58.2 469.9,57.6ZM524.4,63.4 524.6,63.6 522.9,63.2ZM489.0,67.7 489.0,68.3 488.8,68.3Z" fill="#f3a9c6"/><path d="M253.7,29.0 258.1,30.4 261.5,31.3 259.2,33.2 255.9,32.9 254.8,32.1 252.1,31.3 250.4,32.1 250.4,28.2Z" fill="#f3a9c6"/><path d="M370.9,164.4 371.5,163.6 373.6,162.7 373.6,165.5 373.1,165.5Z" fill="#fbe1ea"/><path d="M375.3,164.2 377.3,165.0 375.9,165.5 373.6,165.5 373.6,162.7 374.0,163.4Z" fill="#fcf2f5"/><path d="M374.2,16.6 377.5,14.7 383.1,13.8 394.1,13.3 405.2,12.3 416.2,12.2 425.1,13.3 427.3,14.4 436.1,14.4 430.6,16.1 428.4,17.7 428.9,19.9 427.3,21.6 427.8,22.7 425.1,23.8 425.1,25.5 422.3,26.0 425.1,26.9 421.2,27.7 420.1,28.7 415.1,29.2 412.4,30.4 409.6,31.6 405.4,32.1 404.6,33.7 402.4,36.0 401.9,37.9 400.2,38.3 398.5,37.4 395.8,37.1 394.1,35.4 392.5,33.5 390.3,31.5 390.3,29.9 393.0,28.0 389.1,27.1 389.1,25.5 387.5,23.8 385.8,21.6 383.1,20.5 376.4,20.5 373.1,19.9 370.9,19.2 374.2,18.7 368.7,18.0Z" fill="#7c1040"/><path d="M378.6,32.6 377.5,34.3 378.1,35.1 376.4,36.0 373.7,35.4 370.4,34.3 367.0,33.2 363.2,33.2 363.7,32.1 367.6,31.8 368.7,29.9 365.9,28.8 362.6,27.3 358.7,27.1 355.4,27.1 351.0,26.6 350.5,24.9 349.9,23.2 355.4,22.9 359.9,23.0 363.2,23.9 366.5,24.7 370.9,26.0 374.2,27.1 375.3,28.2 378.6,29.9 381.4,30.9Z" fill="#f08cb2"/><path d="M327.8,28.7 321.2,28.2 319.5,26.6 322.3,25.5 317.8,25.3 320.1,23.8 325.6,23.8 330.0,23.6 333.3,24.0 333.9,26.0 337.7,27.1 336.6,28.2 333.3,28.2Z" fill="#f08cb2"/><path d="M312.3,23.2 311.8,22.5 315.6,22.1 319.5,22.5 321.7,23.5 319.5,24.0 316.2,25.5 313.4,25.8 310.7,24.9Z" fill="#f08cb2"/><path d="M354.3,18.8 352.1,17.9 354.9,16.6 353.2,15.5 348.2,14.4 355.4,13.5 366.5,12.7 376.4,13.0 380.9,13.3 378.6,14.4 374.2,15.2 370.4,16.6 365.9,17.2 364.8,18.3 361.5,19.4 361.0,20.1 356.5,20.0 351.0,20.1 349.9,19.9Z" fill="#f08cb2"/><path d="M348.8,19.9 352.1,19.9 358.7,20.7 361.5,21.0 361.0,21.9 347.7,21.8Z" fill="#f08cb2"/><path d="M343.3,15.8 347.7,15.2 353.2,17.7 344.4,18.3Z" fill="#f08cb2"/><path d="M320.1,20.7 322.3,20.3 328.9,19.9 332.2,21.0 328.9,22.0 321.2,21.6Z" fill="#f08cb2"/><path d="M336.6,23.8 340.0,22.9 344.4,22.6 348.8,22.9 346.6,24.1 343.3,23.8 342.2,25.5 336.6,24.9Z" fill="#f08cb2"/><path d="M353.2,32.6 356.5,31.8 360.4,33.7 358.7,35.1 353.2,34.3Z" fill="#f08cb2"/><path d="M316.7,18.8 321.2,19.0 320.1,20.5 314.5,19.9Z" fill="#f08cb2"/><path d="M336.6,19.6 342.2,19.9 341.1,21.6 334.4,21.0Z" fill="#f08cb2"/><path d="M343.3,20.8 346.0,20.9 346.0,21.8 342.7,21.6Z" fill="#f08cb2"/><path d="M335.5,16.8 342.2,17.2 340.0,18.5 333.3,18.3Z" fill="#f08cb2"/><path d="M323.9,17.7 327.8,17.5 328.9,18.8 323.4,18.8Z" fill="#f08cb2"/><path d="M340.5,27.1 343.3,27.3 343.8,28.7 339.4,28.2Z" fill="#f08cb2"/><path d="M358.2,34.7 360.4,34.8 361.0,35.4 357.6,35.1Z" fill="#f08cb2"/><path d="M364.8,23.5 364.3,23.9 361.0,23.8 360.4,23.1Z" fill="#f08cb2"/><path d="M365.9,29.9 365.4,30.4 363.9,30.2 363.7,29.5Z" fill="#f08cb2"/><path d="M385.3,49.8 386.1,48.1 387.8,47.7 388.0,49.8 389.9,50.5 391.1,51.8 390.8,53.0 387.5,52.6 383.8,51.8Z" fill="#f08cb2"/><path d="M311.2,49.2 312.9,50.9 311.2,50.7 308.4,49.2 307.6,48.3Z" fill="#f08cb2"/><path d="M357.6,79.1 359.9,78.9 362.1,79.6 364.3,80.7 367.4,82.2 363.5,82.6 364.1,81.8 362.6,81.3 360.4,80.2 358.7,79.7 356.5,80.4 355.4,80.3Z" fill="#eaf4f1"/><path d="M365.0,84.4 364.8,84.8 363.2,84.8 362.8,84.2Z" fill="#eaf4f1"/><path d="M376.8,84.2 376.7,84.6 375.1,84.6 375.1,84.0Z" fill="#fcf3f6"/><path d="M427.3,31.4 431.7,31.0 433.3,32.1 433.4,33.1 432.8,33.4 428.9,34.3 426.2,34.0 425.9,32.9 425.9,31.6Z" fill="#ee82b0"/><path d="M444.8,47.9 446.1,47.7 443.7,47.1 445.0,46.5 444.4,46.1 444.5,45.6 446.1,45.5 446.1,44.8 445.5,43.8 443.9,44.0 444.1,43.7 443.3,43.3 442.5,41.9 443.3,42.0 443.0,40.9 443.9,39.7 446.0,39.7 445.0,40.8 447.4,40.8 447.2,41.4 446.1,42.6 447.2,42.7 447.6,43.3 448.1,44.1 449.4,45.2 449.7,45.9 451.3,46.3 450.0,47.6 450.9,47.7 450.8,48.0 448.3,48.4 445.5,48.9 443.1,49.1Z" fill="#f7bdd3"/><path d="M467.1,16.1 471.5,15.5 479.2,16.1 472.6,17.4 473.7,18.3 468.2,19.8 464.9,18.8 461.6,16.6Z" fill="#a8124b"/><path d="M509.1,23.5 511.3,21.6 515.7,20.3 522.4,19.4 525.5,19.7 519.1,20.7 513.5,22.1 510.8,24.3 513.0,26.4 508.0,26.2 506.3,25.5Z" fill="#a8124b"/><path d="M552.2,16.1 556.6,14.9 564.4,16.1 565.5,17.7 560.0,18.3 554.4,17.2Z" fill="#a8124b"/><path d="M603.1,20.4 610.8,20.5 615.2,21.4 608.6,21.6 600.9,21.3Z" fill="#a8124b"/><path d="M504.7,14.9 513.5,14.2 517.9,15.2 510.2,16.1 501.4,15.5Z" fill="#a8124b"/><path d="M646.7,26.0 647.3,25.5 648.4,25.5 648.4,26.1Z" fill="#a8124b"/><path d="M607.5,45.6 607.8,47.6 608.0,50.0 609.4,50.5 607.5,52.5 608.0,53.4 606.4,53.6 606.4,51.4 606.6,49.2 606.2,47.0 606.2,45.5 606.4,44.5Z" fill="#f3a9c6"/><path d="M604.0,57.8 604.6,56.7 605.9,56.4 606.1,54.3 607.5,55.5 609.7,55.9 610.3,56.7 607.7,58.1 605.5,58.3 604.2,58.6Z" fill="#fdf5f8"/><path d="M594.2,66.4 596.4,65.1 599.8,64.9 600.8,63.0 600.9,63.4 602.5,63.2 604.1,60.8 604.4,59.2 605.8,58.7 606.4,60.8 605.3,62.5 605.2,65.0 604.2,65.8 602.7,66.1 600.6,66.6 598.9,67.4 598.6,66.2 595.9,66.7 594.1,66.9Z" fill="#fdf5f8"/><path d="M595.1,67.7 594.8,69.7 593.8,70.0 593.3,68.9 592.8,68.0 593.5,67.4 594.1,67.0Z" fill="#fdf5f8"/><path d="M597.9,66.6 598.3,67.1 597.5,67.7 596.4,68.2 595.7,67.7 595.9,67.1Z" fill="#fdf5f8"/><path d="M584.3,77.1 583.2,80.0 582.3,79.3 582.6,77.6 583.7,76.5Z" fill="#f9cfdf"/><path d="M571.0,82.3 572.1,82.8 571.5,84.0 570.2,84.4 569.6,83.2Z" fill="#f9cfdf"/><path d="M584.5,84.0 584.3,86.3 583.7,87.9 584.8,89.0 586.5,89.6 586.5,90.6 585.4,89.9 583.7,89.4 582.7,88.8 582.3,86.8 582.5,85.2 582.7,84.0Z" fill="#f9cfe0"/><path d="M585.9,95.0 588.1,93.7 589.3,95.7 588.9,97.5 588.0,98.2 586.5,97.3 585.9,96.2 584.3,96.8Z" fill="#f9cfe0"/><path d="M588.4,92.3 587.6,93.2 586.8,92.3 586.8,90.7Z" fill="#f9cfe0"/><path d="M585.6,91.8 585.7,94.3 584.8,93.7 584.3,92.9 584.3,91.5Z" fill="#f9cfe0"/><path d="M581.5,92.0 581.3,93.2 579.6,95.0 579.0,95.2Z" fill="#f9cfe0"/><path d="M557.2,98.8 558.3,100.3 560.0,101.6 561.1,102.3 563.3,103.9 564.2,104.8 564.9,106.2 566.6,107.8 566.4,110.9 564.9,110.9 563.3,109.5 561.6,107.6 560.3,105.5 558.9,103.4 557.7,101.7 556.1,100.3 554.8,98.3Z" fill="#f9cfe0"/><path d="M566.6,111.0 569.4,111.7 571.6,111.7 572.1,111.6 574.0,112.2 576.0,113.1 576.0,114.1 573.2,113.7 569.9,113.1 567.1,112.7 565.7,112.0Z" fill="#f9cfe0"/><path d="M578.4,113.7 581.0,113.7 583.2,113.8 585.4,113.7 585.2,114.1 582.1,114.2 578.8,114.5 576.8,114.2 576.5,113.7Z" fill="#f9cfe0"/><path d="M583.0,115.6 582.1,115.9 581.0,115.0Z" fill="#f9cfe0"/><path d="M581.6,108.4 580.7,107.5 581.8,104.5 583.0,103.1 585.9,103.4 587.8,102.7 587.0,104.1 583.2,103.9 582.1,105.4 583.2,106.0 585.7,105.5 584.3,106.7 584.6,108.4 585.4,109.5 584.3,109.9 583.7,108.4 583.2,107.5 582.5,108.4 582.5,110.6 581.5,110.6Z" fill="#f9cfe0"/><path d="M591.7,103.4 590.9,105.3 590.5,103.9 590.4,102.5Z" fill="#f9cfe0"/><path d="M594.0,108.1 592.0,108.4 590.9,107.9Z" fill="#f9cfe0"/><path d="M590.0,108.1 589.4,108.7 588.7,108.0Z" fill="#f9cfe0"/><path d="M615.2,110.0 617.4,109.1 617.8,110.0 615.8,111.4 613.6,110.9 613.6,110.6Z" fill="#f9cfe0"/><path d="M618.3,108.9 618.6,109.6 617.8,109.1 616.1,107.4Z" fill="#f9cfe0"/><path d="M621.8,111.9 621.0,111.8 620.3,110.5Z" fill="#f9cfe0"/><path d="M625.7,113.7 624.6,113.3 623.0,112.6Z" fill="#f9cfe0"/><path d="M627.4,115.3 626.6,115.3 626.1,114.8Z" fill="#f9cfe0"/><path d="M634.2,121.6 633.8,121.9 633.6,121.1Z" fill="#f3f8f6"/><path d="M632.4,127.7 634.0,129.2 632.9,128.8 631.0,127.5 630.7,126.8Z" fill="#f3f8f6"/><path d="M646.9,124.0 646.4,124.6 645.4,124.5 645.4,123.8Z" fill="#f3f8f6"/><path d="M278.3,82.9 277.3,83.6 276.9,82.8 276.9,82.2Z" fill="#fcf3f6"/><path d="M575.7,128.6 578.2,127.4 581.0,126.6 583.7,125.5 584.6,123.6 585.9,123.6 587.0,122.2 588.7,120.0 590.9,120.9 592.6,121.0 593.1,119.1 594.0,118.2 595.9,117.9 596.0,117.1 598.6,118.0 600.6,118.0 599.6,119.6 599.2,121.1 600.9,122.2 603.4,123.8 605.1,123.8 605.8,121.6 606.1,118.3 606.9,116.3 608.0,118.3 608.4,120.3 610.0,121.1 610.8,123.8 611.1,125.4 613.6,126.8 614.7,128.8 616.1,130.1 618.2,132.1 618.8,134.1 619.2,136.0 618.6,138.8 617.8,140.7 616.6,142.1 615.5,144.3 615.1,146.0 613.0,146.4 611.1,147.7 609.4,146.8 608.0,147.4 605.3,146.6 604.0,145.2 603.1,144.0 602.2,143.9 602.5,143.0 602.0,141.5 601.4,143.2 599.8,143.0 599.2,142.9 597.8,141.0 597.5,140.4 594.2,139.3 591.5,139.9 588.7,140.2 586.5,141.0 584.3,142.0 582.1,142.1 579.9,143.2 577.6,143.1 576.6,142.4 577.3,139.9 576.5,137.7 575.7,135.5 574.9,133.2 574.9,131.6 575.1,129.4Z" fill="#dbece7"/><path d="M611.4,149.9 613.4,149.7 613.2,151.2 612.5,152.4 610.8,152.7 609.9,151.3 609.4,149.6Z" fill="#dbece7"/><path d="M642.1,143.5 642.9,144.9 644.0,146.1 646.5,146.1 646.2,147.6 645.1,148.1 644.2,149.8 643.2,150.5 642.5,150.2 642.9,148.7 641.5,147.9 642.4,146.8 642.4,145.4 640.7,143.4 640.4,142.5Z" fill="#fbdfe8"/><path d="M642.0,150.0 641.8,150.9 640.4,152.6 638.8,153.5 638.2,155.1 636.8,156.0 634.6,155.6 633.5,155.1 635.1,153.4 637.3,152.3 638.8,150.9 639.6,149.6 640.3,149.3Z" fill="#fbdfe8"/><path d="M505.1,121.4 504.5,123.3 503.6,125.5 502.2,129.9 501.4,132.1 499.4,132.7 497.8,131.0 497.3,128.8 498.4,126.6 498.0,123.8 499.2,122.2 500.8,121.6 502.5,119.4 503.9,117.8Z" fill="#98cfbf"/><path d="M539.3,95.1 539.9,96.8 539.0,97.8 538.0,97.9 537.5,95.7 537.8,93.7Z" fill="#fdfbfb"/><path d="M466.6,62.3 466.2,63.9 463.3,63.0 463.2,62.5Z" fill="#a6d6c7"/><path d="M460.1,59.2 460.0,61.2 458.8,61.4 458.5,59.3Z" fill="#a6d6c7"/><path d="M459.9,57.2 459.8,58.6 459.1,58.5 459.0,57.5Z" fill="#d4eae4"/><path d="M478.5,65.6 476.5,65.8 475.5,65.3Z" fill="#8fcbb9"/><path d="M487.5,65.1 486.4,66.1 485.1,65.8Z" fill="#8fcbb9"/><path d="M385.3,161.3 384.7,162.2 382.5,162.2 382.0,161.4Z" fill="#fcf2f5"/><path d="M463.2,42.6 463.1,43.5 461.8,43.6 461.6,42.9Z" fill="#fdfdfd"/><path d="M281.0,40.6 279.7,41.6 278.6,40.9Z" fill="#e9578f"/><path d="M382.0,92.6 382.0,93.3 381.1,93.3 381.0,92.7Z" fill="#eaf4f1"/><path d="M509.7,90.7 508.9,90.9 508.4,90.6Z" fill="#7dc4ae"/><path d="M493.1,111.4 492.8,111.6 492.7,110.9Z" fill="#add9cc"/><path d="M527.1,158.9 526.2,159.4 525.5,158.7Z" fill="#ffffff"/><path d="M409.6,164.8 409.4,165.2 407.4,164.2Z" fill="#fcf2f5"/><path d="M597.5,105.4 598.6,108.1 600.9,106.4 602.5,106.5 605.3,107.4 605.3,114.6 603.1,113.3 602.0,113.8 601.7,112.6 602.9,112.0 602.0,110.6 599.2,109.4 597.0,108.7 596.2,108.9 595.3,107.7 597.0,107.3 595.3,106.7 594.2,105.4 595.9,104.9Z" fill="#f9cfe0"/><path d="M609.2,108.7 610.6,110.0 612.5,111.1 611.9,112.0 613.2,113.3 615.2,115.6 616.1,115.9 614.1,115.9 612.5,115.6 610.8,113.6 609.2,112.9 608.0,113.9 607.5,114.7 605.3,114.6 605.3,107.4 607.5,108.3Z" fill="#f9cfe0"/><path d="M574.3,101.0 576.0,99.5 577.6,97.9 578.8,96.8 579.5,97.4 581.2,98.6 579.9,99.7 579.8,99.9 579.3,99.9 577.4,99.7 577.1,100.6 576.8,101.6 576.3,102.7 575.0,103.1 573.4,103.0 572.1,103.4 570.7,102.8 570.6,102.3 572.4,101.7Z" fill="#f9cfe0"/><path d="M570.6,102.3 570.7,102.8 572.1,103.4 573.4,103.0 575.0,103.1 576.3,102.7 576.8,101.6 577.1,100.6 577.4,99.7 579.3,99.9 579.8,99.9 579.6,100.9 579.9,102.1 581.0,103.4 579.6,103.6 579.3,105.1 578.2,106.2 578.0,107.8 577.4,108.6 576.1,109.0 574.3,108.0 572.9,107.8 571.2,107.6 571.0,106.2 569.9,104.8 569.9,102.8 570.6,102.3Z" fill="#f9cfe0"/><path d="M589.3,114.5 587.6,115.4 587.6,114.5 590.0,113.7Z" fill="#f9cfe0"/><path d="M587.6,114.5 587.6,115.4 587.0,115.8 585.9,115.9 587.0,114.7Z" fill="#f9cfe0"/><path d="M370.0,82.5 370.0,84.8 369.2,84.4 367.1,84.2 368.4,82.5Z" fill="#eaf4f1"/><path d="M372.1,82.7 373.8,83.9 372.0,84.3 370.4,84.9 370.0,84.8 370.0,82.5 370.1,82.5Z" fill="#eaf4f1"/><path d="M443.3,44.4 443.1,44.8 440.3,44.6 441.1,44.1 441.3,43.4 442.8,43.5Z" fill="#f7bdd3"/><path d="M442.4,46.8 440.3,47.2 438.3,47.5 438.0,46.9 438.9,46.3 438.6,45.6 438.3,44.6 440.0,44.1 441.1,43.4 441.3,43.4 441.1,44.1 440.3,44.6 443.1,44.8 442.8,45.6Z" fill="#f0f7f5"/><path d="M277.0,194.3 274.7,191.0 280.0,189.8 293.0,187.7 309.0,186.3 322.0,185.8 335.0,185.3 345.0,185.3 355.0,185.6 362.0,186.5 366.0,187.0 367.5,182.3 371.0,179.8 375.5,178.1 381.0,175.8 384.9,173.6 388.4,172.5 387.5,174.8 384.9,177.8 382.7,181.3 383.5,184.3 382.0,187.7 378.0,189.8 370.0,189.3 362.0,188.6 359.5,190.3 365.0,192.8 375.0,194.8 390.0,195.8 400.0,194.8 405.0,192.8 409.0,191.0 417.0,188.9 425.0,187.0 433.0,185.3 441.0,183.8 450.0,182.6 466.0,182.2 487.0,181.3 496.6,179.3 503.0,178.1 509.4,177.2 517.4,179.3 525.5,180.1 527.9,182.6 531.0,181.6 536.7,180.1 549.6,178.5 559.6,177.2 570.0,177.6 582.0,177.8 598.0,177.8 611.0,179.8 622.0,181.3 632.0,182.6 638.0,184.7 633.5,187.0 630.3,188.6 635.0,191.0 629.5,191.8 627.0,193.9 636.7,196.2 648.4,198.1 648.4,198.6 280.7,198.6Z" fill="#1e0912"/><path d="M503.6,53.1 505.8,52.8 508.0,53.1 508.0,54.4 506.1,54.8 505.8,55.3 505.0,55.5 506.3,56.7 507.8,58.1 507.4,58.6 508.9,59.4 508.0,60.8 508.9,61.9 508.9,63.6 506.9,63.9 505.0,63.3 503.6,62.9 503.4,61.6 503.9,60.1 505.0,59.8 503.6,58.6 502.2,57.2 501.9,56.4 501.1,55.3 501.4,54.2Z" fill="#e4f1ed"/><path d="M265.3,29.0 269.2,28.2 276.4,25.7 283.6,26.6 293.5,27.6 300.1,28.2 307.9,27.1 311.2,27.7 316.7,27.7 322.3,29.3 327.8,29.5 330.0,28.8 336.6,29.5 341.1,29.3 343.8,28.2 345.5,25.5 347.7,27.7 349.9,28.8 353.2,29.9 355.4,28.2 358.7,27.7 359.3,30.4 354.3,31.5 353.2,33.2 349.9,33.7 346.6,36.0 344.9,38.2 344.9,39.5 347.1,41.5 352.1,42.0 355.4,43.4 358.4,43.7 358.5,45.9 360.4,47.6 362.1,47.6 362.1,44.8 364.3,42.6 364.8,40.4 363.2,38.2 363.2,35.5 367.6,35.6 372.0,37.1 372.6,39.3 375.3,40.0 377.5,37.8 380.9,40.9 383.1,43.1 386.4,45.4 387.5,47.0 384.7,47.8 383.1,49.0 378.6,48.9 375.9,49.0 373.1,50.9 370.9,52.8 375.3,50.3 378.1,50.3 378.1,51.4 376.4,51.4 377.5,52.5 378.1,53.4 381.4,53.9 383.1,53.1 382.0,54.4 378.6,55.3 376.4,56.4 376.4,55.3 378.1,54.2 375.3,54.8 373.1,55.9 371.5,56.7 371.2,58.1 372.0,58.4 369.8,59.0 367.6,59.6 367.4,60.8 365.9,61.9 365.4,63.6 365.7,65.3 363.7,66.7 361.5,68.0 359.9,69.3 359.5,71.3 360.6,74.7 360.7,76.5 359.6,76.6 358.0,73.8 357.9,72.2 356.5,71.3 354.9,71.6 352.7,71.0 350.5,71.1 350.7,72.3 348.8,72.1 346.0,71.6 344.4,72.2 342.2,73.5 341.8,75.8 341.3,78.0 341.3,79.8 342.2,81.8 343.3,83.5 344.9,84.4 347.7,83.9 349.1,82.9 349.6,81.3 352.1,80.6 353.4,81.0 352.7,82.9 352.1,84.6 351.6,86.5 351.2,87.0 354.3,86.9 356.5,87.0 357.4,87.9 357.1,90.1 356.9,92.3 357.9,93.9 359.3,94.5 361.0,94.2 362.1,94.0 363.8,94.9 363.3,96.5 362.6,95.1 361.3,94.7 360.6,95.4 360.6,96.3 359.3,96.1 357.6,95.4 356.9,95.0 355.4,93.4 354.5,92.4 353.5,91.0 352.7,90.1 351.6,89.9 349.9,89.4 348.2,89.0 347.4,88.4 345.5,86.7 344.0,86.8 342.5,87.1 340.0,86.1 337.2,85.2 334.6,83.9 332.8,82.4 333.0,80.7 331.7,78.7 329.4,76.5 328.3,74.9 326.7,73.5 325.0,71.9 324.3,70.0 322.5,69.3 322.8,71.0 324.5,73.2 326.1,75.8 327.2,77.6 328.3,79.0 327.5,78.5 325.4,76.3 322.8,74.1 323.1,73.0 321.4,71.3 319.9,68.6 318.4,66.9 316.1,66.2 314.5,64.0 314.0,62.7 312.3,60.3 312.0,57.5 312.3,53.6 311.5,51.0 313.4,52.0 314.0,50.3 311.8,49.2 309.0,48.1 307.9,46.5 305.7,44.2 304.0,42.6 301.8,40.4 299.6,39.3 296.8,38.7 294.6,38.4 290.8,38.2 287.4,37.3 284.7,37.6 281.9,38.9 282.5,37.1 279.7,39.3 277.5,40.9 274.7,42.0 271.4,43.5 268.1,44.1 270.3,42.8 273.6,40.9 275.3,39.5 272.5,39.5 270.3,38.7 267.5,37.6 266.4,36.0 268.1,34.6 271.4,34.0 271.4,33.1 267.5,33.2 265.3,32.6 263.7,32.0ZM364.5,95.7 365.4,94.1 365.9,92.8 366.7,92.2 368.7,91.8 370.4,90.8 370.1,92.3 370.9,92.3 372.0,91.1 373.7,92.3 376.4,92.8 378.6,93.1 380.9,92.7 382.0,94.0 383.1,95.1 384.7,96.8 386.4,97.9 388.6,97.9 390.3,98.3 392.2,99.9 393.6,102.3 394.1,103.9 393.6,104.7 395.8,105.4 397.4,105.3 400.2,106.7 403.0,107.6 405.2,107.6 407.4,108.9 409.0,110.0 410.5,110.6 410.9,112.8 410.2,115.0 408.5,117.2 406.8,118.9 406.3,121.1 406.3,123.8 405.4,126.1 404.1,128.8 403.0,129.9 400.2,130.1 398.0,131.0 395.8,133.0 395.7,135.5 394.1,137.1 391.9,139.9 390.4,141.8 389.1,143.0 386.9,143.0 384.8,142.1 386.2,144.3 385.8,146.5 383.1,147.5 380.9,147.6 380.5,149.8 377.5,149.8 378.6,151.5 377.2,153.7 374.8,155.4 376.7,156.7 374.8,159.0 373.1,160.9 373.8,162.3 372.6,162.3 370.9,163.6 369.2,163.1 367.6,162.0 366.2,159.8 367.0,157.6 365.9,156.1 368.1,154.2 368.7,150.9 367.8,148.7 368.1,145.6 369.2,143.7 370.4,141.0 370.4,137.7 370.9,134.9 371.5,132.1 371.8,128.8 371.7,124.8 370.4,123.6 367.6,122.2 365.2,120.0 364.1,117.8 362.6,115.0 361.2,112.2 359.6,111.1 359.5,109.5 360.6,108.3 361.0,107.3 360.0,106.9 360.4,105.1 361.0,103.6 362.3,103.0 362.6,101.7 363.9,100.3 363.7,98.4 363.3,96.5 363.8,94.9ZM443.5,64.8 446.1,65.5 447.2,65.7 449.4,64.9 451.1,64.1 452.7,63.8 454.9,63.8 457.7,63.6 460.2,63.3 461.6,63.6 461.0,64.7 461.6,65.8 460.5,66.7 461.3,67.2 462.1,67.8 463.8,68.1 466.3,68.8 466.5,69.7 468.7,70.3 470.4,71.0 471.5,70.2 471.5,68.8 473.2,68.1 474.8,68.5 477.0,69.3 479.2,69.9 481.5,70.3 482.6,69.9 483.7,69.6 485.1,69.9 487.2,69.9 488.0,71.9 487.4,73.5 487.2,73.9 486.4,73.2 485.4,71.4 485.4,72.4 486.4,73.8 487.0,75.2 488.1,77.1 488.9,78.5 490.2,80.2 490.5,81.3 490.7,83.7 492.0,84.6 493.1,87.4 494.7,88.5 496.4,90.1 497.3,90.7 497.3,91.8 498.0,92.9 499.7,92.7 501.4,92.1 503.6,92.0 506.0,91.3 505.9,92.9 505.6,94.0 504.5,95.7 503.6,97.3 502.5,99.2 500.8,101.2 499.2,102.3 497.5,103.7 495.8,105.4 495.3,106.4 494.2,107.4 493.6,108.7 493.1,109.7 492.4,111.1 493.0,112.2 493.0,113.9 493.4,115.6 494.1,116.1 494.3,118.3 494.4,120.8 493.6,122.5 492.0,123.6 490.2,124.4 488.6,126.4 487.9,126.6 488.4,128.8 488.6,131.0 486.4,132.4 485.8,133.2 485.8,134.2 485.3,136.0 484.0,137.4 482.6,139.1 480.7,140.8 479.2,141.8 477.8,142.1 475.4,142.1 473.7,142.3 471.5,143.0 469.9,142.4 469.6,140.7 469.5,139.5 468.5,138.2 467.6,136.1 466.3,134.3 466.0,132.1 465.4,129.7 464.3,127.7 463.2,125.3 462.4,123.6 462.4,122.2 463.2,119.4 464.7,117.8 464.7,116.1 463.8,114.5 464.1,113.7 463.0,111.2 462.7,110.0 461.8,108.9 460.2,107.3 459.4,105.6 459.7,103.9 460.2,103.3 460.2,101.8 460.1,100.6 459.2,99.5 458.6,99.5 457.1,99.6 456.0,99.7 455.3,98.4 454.4,97.5 452.4,97.4 451.2,97.6 450.7,97.8 449.4,98.2 447.2,99.2 446.0,98.9 443.9,98.8 441.1,99.6 439.5,99.0 436.7,96.9 434.8,95.1 434.7,94.4 433.4,92.9 432.8,92.3 430.9,90.9 430.8,89.6 430.1,88.2 431.2,86.8 431.7,84.6 431.4,82.9 430.6,81.3 431.7,78.5 433.0,76.3 434.8,73.9 436.7,73.0 438.3,71.9 438.7,70.6 439.1,68.6 441.1,67.2 442.2,66.4 442.9,64.9ZM438.9,61.7 439.7,59.2 439.1,57.0 440.6,56.2 443.3,56.4 445.5,56.5 447.4,56.5 448.1,55.2 448.1,53.6 447.0,52.5 444.4,51.7 444.1,51.0 446.1,50.5 447.6,50.8 447.4,49.6 448.3,49.9 449.6,49.8 451.1,49.1 451.2,48.2 452.9,47.8 453.8,47.0 454.6,45.9 456.0,45.5 457.1,45.2 458.5,45.2 459.1,44.8 458.9,43.7 458.4,42.6 458.5,41.5 459.9,41.3 461.1,40.7 460.8,42.0 461.3,42.4 460.5,43.1 460.1,43.7 460.5,44.2 461.6,44.8 462.7,44.6 464.3,44.4 465.1,44.9 467.1,44.5 469.6,43.9 470.2,44.4 471.3,44.4 471.5,43.8 472.6,43.4 472.6,42.0 473.2,40.9 474.3,40.7 475.0,41.5 476.2,41.4 476.4,40.0 475.4,39.6 475.4,39.1 477.0,38.7 480.4,38.7 482.8,38.3 480.9,37.6 478.1,37.7 474.8,38.3 473.2,37.6 472.9,36.5 472.9,35.4 474.3,34.3 476.5,33.0 477.5,32.5 476.2,31.8 474.1,31.9 472.9,33.2 471.0,34.5 468.7,35.6 468.4,37.1 468.5,37.6 470.2,38.2 469.5,38.9 467.9,39.8 467.6,41.5 467.1,42.4 465.4,42.6 465.1,43.3 463.8,43.3 463.4,42.6 463.0,41.7 462.4,40.7 461.8,39.3 461.1,38.7 459.9,39.5 458.2,40.3 456.9,40.4 455.6,39.5 454.9,38.2 454.9,36.8 455.0,36.0 456.6,35.1 458.8,34.3 460.5,33.7 462.1,32.6 463.2,31.5 464.3,30.2 466.0,29.1 467.6,28.4 469.9,27.4 472.6,27.0 475.4,26.3 477.9,25.9 480.4,26.0 483.7,26.8 482.6,27.4 485.9,27.8 489.2,28.0 493.6,29.5 494.9,30.8 494.2,31.3 491.4,31.3 488.1,30.9 485.9,30.6 486.4,31.2 487.9,32.6 487.9,33.3 490.9,34.0 491.4,33.2 494.2,33.1 493.6,32.1 495.8,31.1 498.0,31.3 498.4,29.9 497.8,28.8 500.3,29.3 500.8,30.5 502.5,29.8 508.0,28.8 509.7,29.1 513.5,28.3 516.3,27.3 516.3,28.8 520.7,27.9 523.5,28.2 523.5,27.1 524.0,25.7 525.7,23.8 526.8,23.6 529.9,24.0 529.6,26.0 529.9,28.2 530.4,30.1 529.0,31.1 531.4,30.4 532.1,28.4 533.4,25.8 535.6,24.7 538.7,24.6 539.0,23.1 545.6,22.7 545.6,21.4 552.2,20.5 557.7,20.1 564.7,18.6 567.7,19.6 573.2,19.9 574.9,20.8 569.9,22.7 573.8,22.9 575.4,23.1 581.0,23.8 585.9,23.5 589.8,24.3 592.6,26.0 595.3,25.5 598.6,25.3 604.2,24.3 604.2,23.6 609.7,24.6 615.2,25.3 618.6,26.1 625.2,26.2 626.3,27.6 631.8,27.6 635.7,27.1 637.9,28.0 642.9,27.3 648.4,28.2 648.4,32.6 646.2,33.2 645.6,35.4 641.8,36.2 637.9,38.2 632.9,38.2 630.7,38.4 629.6,40.4 628.5,42.0 628.2,43.7 626.3,45.7 624.6,46.1 622.6,48.1 621.9,45.9 621.3,43.1 621.9,40.9 624.1,39.8 626.3,37.6 629.6,36.5 630.7,35.4 626.3,36.5 623.0,36.4 620.2,38.4 617.4,39.3 614.1,38.7 609.7,38.9 606.4,39.3 604.2,40.9 601.4,43.7 599.0,44.0 600.9,45.0 604.7,45.9 605.6,47.0 604.7,49.2 604.5,51.4 602.5,53.1 600.3,55.0 598.6,56.4 596.4,57.3 595.1,56.7 593.9,57.7 592.8,59.2 592.6,59.7 590.4,60.8 591.4,61.9 592.5,63.6 592.5,65.3 591.5,65.8 589.3,66.5 589.1,64.7 589.6,63.6 588.7,62.7 587.6,62.5 587.9,60.9 586.8,60.3 584.3,61.4 583.4,61.6 584.3,59.6 583.2,59.4 581.0,61.2 579.5,61.6 580.4,62.9 581.2,63.4 582.8,62.7 584.8,63.4 583.2,64.1 581.5,65.6 582.4,66.9 583.2,68.6 584.2,69.7 583.7,70.7 584.3,71.6 583.7,73.0 582.4,74.7 581.5,76.3 580.1,77.4 578.8,78.5 576.5,79.4 575.7,79.8 574.3,80.2 572.7,80.7 571.6,81.1 571.2,81.9 570.7,80.7 569.4,80.5 568.8,80.7 567.4,81.6 566.3,83.5 567.1,85.2 568.2,86.3 569.6,87.4 570.2,89.6 570.1,91.5 568.2,92.9 567.5,93.0 567.1,94.0 565.7,94.9 565.3,93.7 564.9,93.0 563.8,92.8 563.3,91.8 562.5,91.0 561.1,90.5 561.0,89.6 560.0,89.7 559.7,91.5 559.1,93.1 559.2,94.3 560.2,95.1 560.5,96.5 561.6,96.9 562.4,97.6 563.6,99.2 563.8,101.2 564.6,103.0 563.8,103.1 562.2,102.0 561.4,101.2 560.5,99.5 560.3,97.9 560.1,97.3 559.4,96.5 558.2,95.7 558.1,94.5 558.4,93.4 558.5,91.5 558.0,89.2 557.4,87.4 557.3,86.3 556.4,85.8 554.9,87.0 553.7,86.8 553.9,84.8 553.1,83.2 552.1,82.1 551.4,81.5 550.9,79.7 549.5,80.0 547.8,80.3 546.7,80.5 545.6,80.7 545.0,82.2 543.4,83.1 541.7,84.6 540.4,86.1 539.0,86.9 538.1,87.5 538.0,89.6 537.7,91.2 537.6,93.1 536.7,94.1 535.9,94.7 535.1,95.5 534.0,94.5 533.2,92.0 532.1,90.1 531.4,87.9 530.7,86.6 529.9,83.5 529.8,81.3 529.6,80.7 529.2,81.3 527.9,81.5 525.9,79.8 527.1,79.2 525.5,78.9 524.8,78.3 523.9,77.9 523.1,77.1 522.9,76.4 520.2,76.5 517.5,76.6 514.6,76.4 512.7,76.0 512.2,74.7 509.7,75.1 507.4,74.1 505.8,72.7 504.9,71.3 503.5,70.9 502.5,71.3 502.4,71.9 502.9,73.0 504.1,74.4 504.9,75.1 504.9,76.3 505.6,77.1 506.0,75.8 506.4,76.9 506.3,77.6 507.4,77.7 509.1,77.9 510.5,76.5 511.4,75.8 511.8,77.0 512.6,78.1 514.2,78.4 515.5,79.6 514.4,81.8 513.3,83.5 511.9,84.6 510.4,85.2 508.1,86.0 507.1,87.3 503.6,89.0 501.4,89.8 499.2,90.3 497.5,90.5 497.2,89.8 496.8,87.9 496.7,86.4 495.8,84.9 494.7,83.5 493.1,81.5 492.6,80.7 492.0,78.5 490.6,77.2 489.8,75.8 488.3,73.5 488.1,71.9 487.2,69.9 487.8,69.1 488.1,68.0 488.8,66.4 489.2,64.9 489.0,64.4 489.4,64.0 488.6,64.0 487.0,64.4 485.3,64.6 483.2,63.8 482.0,64.5 480.4,63.9 479.6,63.6 479.2,62.5 478.5,61.9 479.0,61.1 478.4,60.7 478.4,60.3 478.7,59.9 481.5,59.3 481.7,59.0 484.0,59.1 486.2,58.1 488.1,58.1 489.8,58.8 491.4,59.2 493.6,59.2 495.3,58.6 495.4,57.8 494.7,57.0 493.3,56.4 491.4,55.4 490.6,54.8 491.1,54.0 491.6,53.1 492.8,52.3 491.4,52.4 489.8,52.9 488.1,53.4 488.6,54.4 489.8,54.5 488.4,54.8 487.0,55.4 486.4,55.2 485.3,54.3 486.5,53.6 484.8,53.3 484.2,52.9 483.3,53.1 482.2,54.4 481.1,55.6 480.6,56.5 480.0,57.3 480.4,58.1 480.6,58.5 481.4,58.8 481.1,59.1 479.8,59.3 478.9,59.7 478.4,60.0 478.3,59.6 478.1,59.4 477.0,59.3 475.9,59.5 476.3,60.2 475.2,59.9 474.6,59.8 474.4,60.8 475.0,61.3 474.8,61.6 475.9,62.4 475.9,62.8 474.8,62.6 474.9,63.2 474.8,64.1 474.2,64.1 473.4,63.8 472.8,62.7 472.9,62.2 472.3,61.5 471.7,60.7 470.8,59.9 470.8,58.6 470.6,58.2 469.9,57.6 468.2,56.7 467.0,56.3 466.0,55.5 465.4,54.5 464.4,54.8 464.5,54.0 463.1,54.3 463.0,55.3 464.3,56.3 465.1,57.5 466.9,58.2 467.1,58.6 468.2,59.2 469.9,60.2 469.4,60.4 468.2,59.7 467.8,60.5 468.3,61.4 467.6,61.7 467.2,62.5 466.8,62.5 467.0,61.7 467.1,60.8 466.5,60.2 465.4,59.6 464.9,59.2 463.8,58.8 462.9,58.3 461.6,57.6 461.0,57.0 460.7,56.0 459.9,55.6 459.1,55.4 458.2,56.0 457.7,56.1 456.6,56.9 455.3,56.6 453.8,56.4 452.8,57.0 452.9,57.6 452.9,58.2 451.8,58.7 450.3,59.4 449.1,60.8 449.6,61.6 448.7,62.5 448.5,62.9 447.4,63.6 446.9,63.8 444.5,63.9 443.4,64.6 442.5,64.1 442.3,63.6 441.2,63.4 439.7,63.6 439.5,63.6ZM253.7,29.0 258.1,30.4 261.5,31.3 259.2,33.2 255.9,32.9 254.8,32.1 252.1,31.3 250.4,32.1 250.4,28.2ZM374.0,163.4 375.3,164.2 377.3,165.0 375.9,165.5 373.1,165.5 370.9,164.4 371.5,163.6 373.6,162.7ZM368.7,18.0 374.2,16.6 377.5,14.7 383.1,13.8 394.1,13.3 405.2,12.3 416.2,12.2 425.1,13.3 427.3,14.4 436.1,14.4 430.6,16.1 428.4,17.7 428.9,19.9 427.3,21.6 427.8,22.7 425.1,23.8 425.1,25.5 422.3,26.0 425.1,26.9 421.2,27.7 420.1,28.7 415.1,29.2 412.4,30.4 409.6,31.6 405.4,32.1 404.6,33.7 402.4,36.0 401.9,37.9 400.2,38.3 398.5,37.4 395.8,37.1 394.1,35.4 392.5,33.5 390.3,31.5 390.3,29.9 393.0,28.0 389.1,27.1 389.1,25.5 387.5,23.8 385.8,21.6 383.1,20.5 376.4,20.5 373.1,19.9 370.9,19.2 374.2,18.7ZM381.4,30.9 378.6,32.6 377.5,34.3 378.1,35.1 376.4,36.0 373.7,35.4 370.4,34.3 367.0,33.2 363.2,33.2 363.7,32.1 367.6,31.8 368.7,29.9 365.9,28.8 362.6,27.3 358.7,27.1 355.4,27.1 351.0,26.6 350.5,24.9 349.9,23.2 355.4,22.9 359.9,23.0 363.2,23.9 366.5,24.7 370.9,26.0 374.2,27.1 375.3,28.2 378.6,29.9ZM333.3,28.2 327.8,28.7 321.2,28.2 319.5,26.6 322.3,25.5 317.8,25.3 320.1,23.8 325.6,23.8 330.0,23.6 333.3,24.0 333.9,26.0 337.7,27.1 336.6,28.2ZM310.7,24.9 313.4,25.8 316.2,25.5 319.5,24.0 321.7,23.5 319.5,22.5 315.6,22.1 311.8,22.5 312.3,23.2ZM349.9,19.9 354.3,18.8 352.1,17.9 354.9,16.6 353.2,15.5 348.2,14.4 355.4,13.5 366.5,12.7 376.4,13.0 380.9,13.3 378.6,14.4 374.2,15.2 370.4,16.6 365.9,17.2 364.8,18.3 361.5,19.4 361.0,20.1 356.5,20.0 351.0,20.1ZM347.7,21.8 361.0,21.9 361.5,21.0 358.7,20.7 352.1,19.9 348.8,19.9ZM344.4,18.3 353.2,17.7 347.7,15.2 343.3,15.8ZM321.2,21.6 328.9,22.0 332.2,21.0 328.9,19.9 322.3,20.3 320.1,20.7ZM336.6,24.9 342.2,25.5 343.3,23.8 346.6,24.1 348.8,22.9 344.4,22.6 340.0,22.9 336.6,23.8ZM353.2,34.3 358.7,35.1 360.4,33.7 356.5,31.8 353.2,32.6ZM314.5,19.9 320.1,20.5 321.2,19.0 316.7,18.8ZM334.4,21.0 341.1,21.6 342.2,19.9 336.6,19.6ZM342.7,21.6 346.0,21.8 346.0,20.9 343.3,20.8ZM333.3,18.3 340.0,18.5 342.2,17.2 335.5,16.8ZM323.4,18.8 328.9,18.8 327.8,17.5 323.9,17.7ZM339.4,28.2 343.8,28.7 343.3,27.3 340.5,27.1ZM357.6,35.1 361.0,35.4 360.4,34.8 358.2,34.7ZM360.4,23.1 364.8,23.5 364.3,23.9 361.0,23.8ZM363.7,29.5 365.9,29.9 365.4,30.4 363.9,30.2ZM383.8,51.8 387.5,52.6 390.8,53.0 391.1,51.8 389.9,50.5 388.0,49.8 387.8,47.7 386.1,48.1 385.3,49.8ZM307.6,48.3 311.2,49.2 312.9,50.9 311.2,50.7 308.4,49.2ZM355.4,80.3 357.6,79.1 359.9,78.9 362.1,79.6 364.3,80.7 367.4,82.2 363.5,82.6 364.1,81.8 362.6,81.3 360.4,80.2 358.7,79.7 356.5,80.4ZM367.1,84.2 368.4,82.5 370.1,82.5 372.1,82.7 373.8,83.9 372.0,84.3 370.4,84.9 369.2,84.4ZM362.8,84.2 365.0,84.4 364.8,84.8 363.2,84.8ZM375.1,84.0 376.8,84.2 376.7,84.6 375.1,84.6ZM425.9,31.6 427.3,31.4 431.7,31.0 433.3,32.1 433.4,33.1 432.8,33.4 428.9,34.3 426.2,34.0 425.9,32.9ZM443.1,49.1 445.5,48.9 448.3,48.4 450.8,48.0 450.9,47.7 450.0,47.6 451.3,46.3 449.7,45.9 449.4,45.2 448.1,44.1 447.6,43.3 447.2,42.7 446.1,42.6 447.2,41.4 447.4,40.8 445.0,40.8 446.0,39.7 443.9,39.7 443.0,40.9 443.3,42.0 442.5,41.9 443.3,43.3 444.1,43.7 443.9,44.0 445.5,43.8 446.1,44.8 446.1,45.5 444.5,45.6 444.4,46.1 445.0,46.5 443.7,47.1 446.1,47.7 444.8,47.9ZM438.3,47.5 440.3,47.2 442.4,46.8 442.8,45.6 443.3,44.4 442.8,43.5 441.1,43.4 440.0,44.1 438.3,44.6 438.6,45.6 438.9,46.3 438.0,46.9ZM461.6,16.6 464.9,18.8 468.2,19.8 473.7,18.3 472.6,17.4 479.2,16.1 471.5,15.5 467.1,16.1ZM506.3,25.5 508.0,26.2 513.0,26.4 510.8,24.3 513.5,22.1 519.1,20.7 525.5,19.7 522.4,19.4 515.7,20.3 511.3,21.6 509.1,23.5ZM554.4,17.2 560.0,18.3 565.5,17.7 564.4,16.1 556.6,14.9 552.2,16.1ZM600.9,21.3 608.6,21.6 615.2,21.4 610.8,20.5 603.1,20.4ZM501.4,15.5 510.2,16.1 517.9,15.2 513.5,14.2 504.7,14.9ZM646.7,26.0 648.4,26.1 648.4,25.5 647.3,25.5ZM606.4,44.5 607.5,45.6 607.8,47.6 608.0,50.0 609.4,50.5 607.5,52.5 608.0,53.4 606.4,53.6 606.4,51.4 606.6,49.2 606.2,47.0 606.2,45.5ZM604.2,58.6 605.5,58.3 607.7,58.1 610.3,56.7 609.7,55.9 607.5,55.5 606.1,54.3 605.9,56.4 604.6,56.7 604.0,57.8ZM594.1,66.9 595.9,66.7 598.6,66.2 598.9,67.4 600.6,66.6 602.7,66.1 604.2,65.8 605.2,65.0 605.3,62.5 606.4,60.8 605.8,58.7 604.4,59.2 604.1,60.8 602.5,63.2 600.9,63.4 600.8,63.0 599.8,64.9 596.4,65.1 594.2,66.4ZM594.1,67.0 595.1,67.7 594.8,69.7 593.8,70.0 593.3,68.9 592.8,68.0 593.5,67.4ZM595.9,67.1 597.9,66.6 598.3,67.1 597.5,67.7 596.4,68.2 595.7,67.7ZM583.7,76.5 584.3,77.1 583.2,80.0 582.3,79.3 582.6,77.6ZM569.6,83.2 571.0,82.3 572.1,82.8 571.5,84.0 570.2,84.4ZM582.7,84.0 584.5,84.0 584.3,86.3 583.7,87.9 584.8,89.0 586.5,89.6 586.5,90.6 585.4,89.9 583.7,89.4 582.7,88.8 582.3,86.8 582.5,85.2ZM584.3,96.8 585.9,95.0 588.1,93.7 589.3,95.7 588.9,97.5 588.0,98.2 586.5,97.3 585.9,96.2ZM586.8,90.7 588.4,92.3 587.6,93.2 586.8,92.3ZM584.3,91.5 585.6,91.8 585.7,94.3 584.8,93.7 584.3,92.9ZM579.0,95.2 581.5,92.0 581.3,93.2 579.6,95.0ZM569.9,102.8 570.6,102.3 572.4,101.7 574.3,101.0 576.0,99.5 577.6,97.9 578.8,96.8 579.5,97.4 581.2,98.6 579.9,99.7 579.6,100.9 579.9,102.1 581.0,103.4 579.6,103.6 579.3,105.1 578.2,106.2 578.0,107.8 577.4,108.6 576.1,109.0 574.3,108.0 572.9,107.8 571.2,107.6 571.0,106.2 569.9,104.8ZM554.8,98.3 557.2,98.8 558.3,100.3 560.0,101.6 561.1,102.3 563.3,103.9 564.2,104.8 564.9,106.2 566.6,107.8 566.4,110.9 564.9,110.9 563.3,109.5 561.6,107.6 560.3,105.5 558.9,103.4 557.7,101.7 556.1,100.3ZM565.7,112.0 566.6,111.0 569.4,111.7 571.6,111.7 572.1,111.6 574.0,112.2 576.0,113.1 576.0,114.1 573.2,113.7 569.9,113.1 567.1,112.7ZM576.5,113.7 578.4,113.7 581.0,113.7 583.2,113.8 585.4,113.7 585.2,114.1 582.1,114.2 578.8,114.5 576.8,114.2ZM585.9,115.9 587.0,114.7 590.0,113.7 589.3,114.5 587.0,115.8ZM581.0,115.0 583.0,115.6 582.1,115.9ZM581.5,110.6 581.6,108.4 580.7,107.5 581.8,104.5 583.0,103.1 585.9,103.4 587.8,102.7 587.0,104.1 583.2,103.9 582.1,105.4 583.2,106.0 585.7,105.5 584.3,106.7 584.6,108.4 585.4,109.5 584.3,109.9 583.7,108.4 583.2,107.5 582.5,108.4 582.5,110.6ZM590.4,102.5 591.7,103.4 590.9,105.3 590.5,103.9ZM590.9,107.9 594.0,108.1 592.0,108.4ZM588.7,108.0 590.0,108.1 589.4,108.7ZM594.2,105.4 595.9,104.9 597.5,105.4 598.6,108.1 600.9,106.4 602.5,106.5 605.3,107.4 607.5,108.3 609.2,108.7 610.6,110.0 612.5,111.1 611.9,112.0 613.2,113.3 615.2,115.6 616.1,115.9 614.1,115.9 612.5,115.6 610.8,113.6 609.2,112.9 608.0,113.9 607.5,114.7 605.3,114.6 603.1,113.3 602.0,113.8 601.7,112.6 602.9,112.0 602.0,110.6 599.2,109.4 597.0,108.7 596.2,108.9 595.3,107.7 597.0,107.3 595.3,106.7ZM613.6,110.6 615.2,110.0 617.4,109.1 617.8,110.0 615.8,111.4 613.6,110.9ZM616.1,107.4 618.3,108.9 618.6,109.6 617.8,109.1ZM620.3,110.5 621.8,111.9 621.0,111.8ZM623.0,112.6 625.7,113.7 624.6,113.3ZM626.1,114.8 627.4,115.3 626.6,115.3ZM633.6,121.1 634.2,121.6 633.8,121.9ZM630.7,126.8 632.4,127.7 634.0,129.2 632.9,128.8 631.0,127.5ZM645.4,123.8 646.9,124.0 646.4,124.6 645.4,124.5ZM276.9,82.2 278.3,82.9 277.3,83.6 276.9,82.8ZM575.1,129.4 575.7,128.6 578.2,127.4 581.0,126.6 583.7,125.5 584.6,123.6 585.9,123.6 587.0,122.2 588.7,120.0 590.9,120.9 592.6,121.0 593.1,119.1 594.0,118.2 595.9,117.9 596.0,117.1 598.6,118.0 600.6,118.0 599.6,119.6 599.2,121.1 600.9,122.2 603.4,123.8 605.1,123.8 605.8,121.6 606.1,118.3 606.9,116.3 608.0,118.3 608.4,120.3 610.0,121.1 610.8,123.8 611.1,125.4 613.6,126.8 614.7,128.8 616.1,130.1 618.2,132.1 618.8,134.1 619.2,136.0 618.6,138.8 617.8,140.7 616.6,142.1 615.5,144.3 615.1,146.0 613.0,146.4 611.1,147.7 609.4,146.8 608.0,147.4 605.3,146.6 604.0,145.2 603.1,144.0 602.2,143.9 602.5,143.0 602.0,141.5 601.4,143.2 599.8,143.0 599.2,142.9 597.8,141.0 597.5,140.4 594.2,139.3 591.5,139.9 588.7,140.2 586.5,141.0 584.3,142.0 582.1,142.1 579.9,143.2 577.6,143.1 576.6,142.4 577.3,139.9 576.5,137.7 575.7,135.5 574.9,133.2 574.9,131.6ZM609.4,149.6 611.4,149.9 613.4,149.7 613.2,151.2 612.5,152.4 610.8,152.7 609.9,151.3ZM640.4,142.5 642.1,143.5 642.9,144.9 644.0,146.1 646.5,146.1 646.2,147.6 645.1,148.1 644.2,149.8 643.2,150.5 642.5,150.2 642.9,148.7 641.5,147.9 642.4,146.8 642.4,145.4 640.7,143.4ZM640.3,149.3 642.0,150.0 641.8,150.9 640.4,152.6 638.8,153.5 638.2,155.1 636.8,156.0 634.6,155.6 633.5,155.1 635.1,153.4 637.3,152.3 638.8,150.9 639.6,149.6ZM503.9,117.8 505.1,121.4 504.5,123.3 503.6,125.5 502.2,129.9 501.4,132.1 499.4,132.7 497.8,131.0 497.3,128.8 498.4,126.6 498.0,123.8 499.2,122.2 500.8,121.6 502.5,119.4ZM537.8,93.7 539.3,95.1 539.9,96.8 539.0,97.8 538.0,97.9 537.5,95.7ZM463.2,62.5 466.6,62.3 466.2,63.9 463.3,63.0ZM458.5,59.3 460.1,59.2 460.0,61.2 458.8,61.4ZM459.0,57.5 459.9,57.2 459.8,58.6 459.1,58.5ZM475.5,65.3 478.5,65.6 476.5,65.8ZM485.1,65.8 487.5,65.1 486.4,66.1ZM382.0,161.4 385.3,161.3 384.7,162.2 382.5,162.2ZM461.6,42.9 463.2,42.6 463.1,43.5 461.8,43.6ZM278.6,40.9 281.0,40.6 279.7,41.6ZM381.0,92.7 382.0,92.6 382.0,93.3 381.1,93.3ZM508.4,90.6 509.7,90.7 508.9,90.9ZM492.7,110.9 493.1,111.4 492.8,111.6ZM525.5,158.7 527.1,158.9 526.2,159.4ZM407.4,164.2 409.6,164.8 409.4,165.2Z" fill="none" stroke="#000" stroke-width="0.45"/><path d="M368.1,150.9 367.6,153.1 366.7,155.9 366.5,158.1 366.5,160.3 367.6,162.3 369.2,163.8 371.5,165.1 373.7,165.7" fill="none" stroke="#0a0a0a" stroke-width="1.7" stroke-linecap="round" stroke-opacity="0.9"/><path d="M312.9,50.3 310.7,48.9 308.4,47.6 306.8,45.9 305.1,43.9 302.9,42.3 300.7,40.6 299.0,39.8" fill="none" stroke="#0a0a0a" stroke-width="1.1" stroke-linecap="round" stroke-opacity="0.9"/><path d="M455.1,38.7 454.9,37.1 455.5,35.6 457.7,34.5 460.5,33.4 462.7,31.8 464.3,29.9 466.5,28.4 469.3,27.3 472.6,26.8 475.9,26.0" fill="none" stroke="#0a0a0a" stroke-width="0.9" stroke-linecap="round" stroke-opacity="0.9"/><path d="M393.0,33.7 390.8,31.0 390.8,28.8 389.7,26.6 388.6,24.3 386.4,22.1" fill="none" stroke="#0a0a0a" stroke-width="0.8" stroke-linecap="round" stroke-opacity="0.9"/><path d="M425.1,26.6 424.0,24.9 426.2,23.2 427.3,21.6 427.8,19.9" fill="none" stroke="#0a0a0a" stroke-width="0.9" stroke-linecap="round" stroke-opacity="0.9"/><path d="M403.0,35.4 404.6,33.2 408.5,31.8 412.9,29.9" fill="none" stroke="#0a0a0a" stroke-width="0.7" stroke-linecap="round" stroke-opacity="0.9"/><path d="M398.5,37.4 400.8,38.2 401.9,37.6" fill="none" stroke="#0a0a0a" stroke-width="0.8" stroke-linecap="round" stroke-opacity="0.9"/><path d="M474.8,61.9 476.5,63.3 478.5,63.8" fill="none" stroke="#0a0a0a" stroke-width="0.9" stroke-linecap="round" stroke-opacity="0.9"/><path d="M475.9,60.3 477.4,61.2 478.4,62.2" fill="none" stroke="#0a0a0a" stroke-width="0.7" stroke-linecap="round" stroke-opacity="0.9"/><path d="M365.0,63.4 365.2,61.9 365.8,61.1" fill="none" stroke="#0a0a0a" stroke-width="0.9" stroke-linecap="round" stroke-opacity="0.9"/><path d="M365.8,65.5 364.8,66.0" fill="none" stroke="#0a0a0a" stroke-width="0.7" stroke-linecap="round" stroke-opacity="0.9"/><path d="M443.0,42.8 442.8,41.7 443.0,40.6 441.9,40.8" fill="none" stroke="#0a0a0a" stroke-width="0.8" stroke-linecap="round" stroke-opacity="0.9"/><path d="M344.4,24.9 349.9,22.7 355.4,20.5 358.7,18.3" fill="none" stroke="#0a0a0a" stroke-width="0.6" stroke-linecap="round" stroke-opacity="0.9"/><path d="M327.8,21.0 338.8,20.5 344.4,18.8" fill="none" stroke="#0a0a0a" stroke-width="0.6" stroke-linecap="round" stroke-opacity="0.9"/><path d="M316.7,24.9 325.6,26.0 333.3,26.6" fill="none" stroke="#0a0a0a" stroke-width="0.6" stroke-linecap="round" stroke-opacity="0.9"/><path d="M352.1,31.5 356.5,29.3 361.0,27.7 364.3,26.0" fill="none" stroke="#0a0a0a" stroke-width="0.6" stroke-linecap="round" stroke-opacity="0.9"/><path d="M363.2,22.7 358.7,21.6 352.1,21.3" fill="none" stroke="#0a0a0a" stroke-width="0.6" stroke-linecap="round" stroke-opacity="0.9"/><path d="M268.1,44.2 272.5,43.1 276.9,41.5" fill="none" stroke="#0a0a0a" stroke-width="0.6" stroke-linecap="round" stroke-opacity="0.9"/><path d="M583.7,89.0 585.9,90.9 587.0,92.6 587.6,94.0" fill="none" stroke="#0a0a0a" stroke-width="0.9" stroke-linecap="round" stroke-opacity="0.9"/><path d="M584.6,92.1 585.4,93.4 585.7,94.2" fill="none" stroke="#0a0a0a" stroke-width="0.7" stroke-linecap="round" stroke-opacity="0.9"/><path d="M576.5,113.9 579.9,114.0 583.2,114.1 586.5,114.0" fill="none" stroke="#0a0a0a" stroke-width="0.7" stroke-linecap="round" stroke-opacity="0.9"/><path d="M590.4,102.8 590.9,104.5 590.9,106.2 591.5,108.1" fill="none" stroke="#0a0a0a" stroke-width="0.6" stroke-linecap="round" stroke-opacity="0.9"/><path d="M633.6,155.1 634.4,154.2 635.1,153.5" fill="none" stroke="#0a0a0a" stroke-width="0.8" stroke-linecap="round" stroke-opacity="0.9"/><path d="M381.4,42.0 383.1,43.7 385.3,44.8 386.9,46.2" fill="none" stroke="#0a0a0a" stroke-width="0.5" stroke-linecap="round" stroke-opacity="0.9"/><path d="M465.4,54.8 466.5,55.9 467.6,56.6 469.1,57.2" fill="none" stroke="#0a0a0a" stroke-width="0.7" stroke-linecap="round" stroke-opacity="0.9"/><path d="M472.6,37.8 474.3,38.2" fill="none" stroke="#0a0a0a" stroke-width="0.7" stroke-linecap="round" stroke-opacity="0.9"/><path d="M558.0,90.1 558.1,91.8 558.2,93.1" fill="none" stroke="#0a0a0a" stroke-width="0.6" stroke-linecap="round" stroke-opacity="0.9"/><path d="M431.4,91.2 432.3,92.1 433.4,93.1" fill="none" stroke="#0a0a0a" stroke-width="1.1" stroke-linecap="round" stroke-opacity="0.9"/><path d="M393.6,104.2 394.7,105.1 395.8,105.6" fill="none" stroke="#0a0a0a" stroke-width="0.9" stroke-linecap="round" stroke-opacity="0.9"/><path d="M348.2,104.8 349.6,105.4" fill="none" stroke="#0a0a0a" stroke-width="0.9" stroke-linecap="round" stroke-opacity="0.9"/><path d="M464.9,18.3 468.2,17.7 471.5,16.6" fill="none" stroke="#0a0a0a" stroke-width="0.8" stroke-linecap="round" stroke-opacity="0.9"/><path d="M373.1,162.5 371.5,164.0 374.2,164.9" fill="none" stroke="#0a0a0a" stroke-width="0.7" stroke-linecap="round" stroke-opacity="0.9"/><path d="M593.1,68.0 592.6,68.6" fill="none" stroke="#0a0a0a" stroke-width="0.6" stroke-linecap="round" stroke-opacity="0.9"/><path d="M581.5,105.1 582.6,103.9 584.3,103.6" fill="none" stroke="#0a0a0a" stroke-width="0.6" stroke-linecap="round" stroke-opacity="0.9"/><path d="M378.6,92.6 380.9,92.9" fill="none" stroke="#0a0a0a" stroke-width="0.6" stroke-linecap="round" stroke-opacity="0.9"/><path d="M361.0,107.8 360.6,107.0" fill="none" stroke="#0a0a0a" stroke-width="0.6" stroke-linecap="round" stroke-opacity="0.9"/><path d="M265.6,44.5h0.6v0.5h-0.6zM262.8,45.3h0.6v0.5h-0.6zM260.1,46.1h0.6v0.5h-0.6zM256.7,46.7h0.6v0.5h-0.6zM253.4,47.0h0.6v0.5h-0.6zM647.0,47.3h0.6v0.5h-0.6zM643.7,46.8h0.6v0.5h-0.6zM640.4,45.9h0.6v0.5h-0.6zM261.2,41.2h0.6v0.5h-0.6zM261.2,34.2h0.6v0.5h-0.6zM265.2,37.9h0.6v0.5h-0.6zM611.6,54.5h0.6v0.5h-0.6zM613.3,53.6h0.6v0.5h-0.6zM615.5,52.8h0.6v0.5h-0.6zM617.7,51.7h0.6v0.5h-0.6zM619.4,50.1h0.6v0.5h-0.6zM621.0,48.6h0.6v0.5h-0.6zM592.8,70.8h0.6v0.5h-0.6zM592.3,73.0h0.6v0.5h-0.6zM590.6,74.8h0.6v0.5h-0.6zM588.4,76.1h0.6v0.5h-0.6zM586.7,77.2h0.6v0.5h-0.6zM590.4,75.2h0.6v0.5h-0.6zM379.4,84.2h0.6v0.5h-0.6zM379.8,85.1h0.6v0.5h-0.6zM380.8,85.3h0.6v0.5h-0.6zM381.0,86.3h0.6v0.5h-0.6zM381.2,87.2h0.6v0.5h-0.6zM381.7,88.1h0.6v0.5h-0.6zM381.7,88.9h0.6v0.5h-0.6zM381.4,89.7h0.6v0.5h-0.6zM380.9,90.9h0.6v0.5h-0.6zM383.2,89.7h0.6v0.5h-0.6zM362.6,74.8h0.6v0.5h-0.6zM363.6,76.6h0.6v0.5h-0.6zM363.1,77.4h0.6v0.5h-0.6zM365.1,78.3h0.6v0.5h-0.6zM365.9,77.4h0.6v0.5h-0.6zM366.7,79.2h0.6v0.5h-0.6zM367.8,80.9h0.6v0.5h-0.6zM369.5,80.1h0.6v0.5h-0.6zM359.2,82.9h0.6v0.5h-0.6zM377.5,68.5h0.6v0.5h-0.6zM282.2,123.6h0.6v0.5h-0.6zM283.8,123.7h0.6v0.5h-0.6zM286.6,121.4h0.6v0.5h-0.6zM288.2,121.9h0.6v0.5h-0.6zM289.9,122.8h0.6v0.5h-0.6zM292.1,123.6h0.6v0.5h-0.6zM293.8,124.4h0.6v0.5h-0.6zM295.8,125.3h0.6v0.5h-0.6zM298.2,127.5h0.6v0.5h-0.6zM299.8,129.7h0.6v0.5h-0.6zM294.3,114.2h0.6v0.5h-0.6zM295.4,115.1h0.6v0.5h-0.6zM272.4,127.7h0.6v0.5h-0.6zM274.4,126.4h0.6v0.5h-0.6zM258.4,119.3h0.6v0.5h-0.6zM259.3,119.6h0.6v0.5h-0.6zM260.4,120.1h0.6v0.5h-0.6zM255.4,127.7h0.6v0.5h-0.6zM256.7,124.8h0.6v0.5h-0.6zM256.4,126.1h0.6v0.5h-0.6zM640.4,102.6h0.6v0.5h-0.6zM640.3,100.9h0.6v0.5h-0.6zM642.0,104.8h0.6v0.5h-0.6zM643.1,105.9h0.6v0.5h-0.6zM275.1,102.1h0.6v0.5h-0.6zM634.8,94.3h0.6v0.5h-0.6zM638.4,96.4h0.6v0.5h-0.6zM635.9,92.1h0.6v0.5h-0.6zM633.2,91.8h0.6v0.5h-0.6zM617.1,96.1h0.6v0.5h-0.6zM624.0,96.6h0.6v0.5h-0.6zM629.3,98.4h0.6v0.5h-0.6zM601.8,93.7h0.6v0.5h-0.6zM597.8,96.0h0.6v0.5h-0.6zM609.2,89.4h0.6v0.5h-0.6zM610.2,87.4h0.6v0.5h-0.6zM610.3,84.3h0.6v0.5h-0.6zM348.3,104.8h0.6v0.5h-0.6zM349.3,104.9h0.6v0.5h-0.6zM350.2,105.2h0.6v0.5h-0.6zM328.2,134.2h0.6v0.5h-0.6zM362.0,141.4h0.6v0.5h-0.6zM359.8,141.6h0.6v0.5h-0.6zM417.8,61.6h0.6v0.5h-0.6zM419.0,61.5h0.6v0.5h-0.6zM420.9,62.5h0.6v0.5h-0.6zM414.7,60.6h0.6v0.5h-0.6zM430.3,68.1h0.6v0.5h-0.6zM429.3,72.5h0.6v0.5h-0.6zM430.7,73.0h0.6v0.5h-0.6zM431.9,73.3h0.6v0.5h-0.6zM433.6,72.9h0.6v0.5h-0.6zM434.1,72.2h0.6v0.5h-0.6zM422.2,85.7h0.6v0.5h-0.6zM423.0,87.6h0.6v0.5h-0.6zM422.1,87.8h0.6v0.5h-0.6zM423.8,86.5h0.6v0.5h-0.6zM456.4,103.9h0.6v0.5h-0.6zM457.3,102.5h0.6v0.5h-0.6zM458.7,100.4h0.6v0.5h-0.6zM433.2,113.0h0.6v0.5h-0.6zM442.8,121.9h0.6v0.5h-0.6zM435.5,145.3h0.6v0.5h-0.6zM529.9,96.7h0.6v0.5h-0.6zM530.2,99.6h0.6v0.5h-0.6zM530.0,101.5h0.6v0.5h-0.6zM530.2,103.9h0.6v0.5h-0.6zM529.9,104.9h0.6v0.5h-0.6zM529.6,92.1h0.6v0.5h-0.6zM551.7,89.7h0.6v0.5h-0.6zM551.8,90.8h0.6v0.5h-0.6zM551.6,91.4h0.6v0.5h-0.6zM551.5,92.5h0.6v0.5h-0.6zM552.6,95.4h0.6v0.5h-0.6zM552.8,96.5h0.6v0.5h-0.6zM497.1,117.2h0.6v0.5h-0.6zM498.2,117.7h0.6v0.5h-0.6zM499.0,118.4h0.6v0.5h-0.6zM510.5,109.3h0.6v0.5h-0.6zM512.8,126.7h0.6v0.5h-0.6zM510.5,127.6h0.6v0.5h-0.6zM519.2,126.0h0.6v0.5h-0.6zM529.1,112.3h0.6v0.5h-0.6zM500.3,114.6h0.6v0.5h-0.6zM452.4,60.5h0.6v0.5h-0.6zM450.6,61.1h0.6v0.5h-0.6zM453.6,60.0h0.6v0.5h-0.6zM441.4,35.7h0.6v0.5h-0.6zM447.8,37.6h0.6v0.5h-0.6zM445.8,39.0h0.6v0.5h-0.6zM441.4,40.3h0.6v0.5h-0.6zM442.1,40.9h0.6v0.5h-0.6zM469.6,40.7h0.6v0.5h-0.6zM467.6,41.5h0.6v0.5h-0.6zM471.2,37.7h0.6v0.5h-0.6zM474.0,39.7h0.6v0.5h-0.6zM474.2,39.1h0.6v0.5h-0.6zM465.6,43.3h0.6v0.5h-0.6zM589.0,67.3h0.6v0.5h-0.6zM592.0,66.2h0.6v0.5h-0.6zM602.1,62.2h0.6v0.5h-0.6zM254.0,152.9h0.6v0.5h-0.6zM632.8,160.3h0.6v0.5h-0.6zM624.8,164.6h0.6v0.5h-0.6zM530.4,163.0h0.6v0.5h-0.6zM506.3,155.5h0.6v0.5h-0.6zM490.9,156.0h0.6v0.5h-0.6zM452.9,164.4h0.6v0.5h-0.6zM419.8,168.2h0.6v0.5h-0.6zM419.6,168.9h0.6v0.5h-0.6zM398.8,171.2h0.6v0.5h-0.6zM383.9,172.8h0.6v0.5h-0.6zM382.2,173.6h0.6v0.5h-0.6zM625.0,139.1h0.6v0.5h-0.6zM634.8,136.3h0.6v0.5h-0.6zM252.3,136.6h0.6v0.5h-0.6zM647.2,113.6h0.6v0.5h-0.6zM646.7,112.5h0.6v0.5h-0.6zM254.3,119.0h0.6v0.5h-0.6zM261.3,125.3h0.6v0.5h-0.6zM305.3,132.0h0.6v0.5h-0.6zM307.3,131.2h0.6v0.5h-0.6zM328.4,92.9h0.6v0.5h-0.6zM326.4,83.5h0.6v0.5h-0.6zM352.9,98.2h0.6v0.5h-0.6zM439.7,25.8h0.6v0.5h-0.6zM470.1,22.0h0.6v0.5h-0.6zM503.3,28.0h0.6v0.5h-0.6zM514.9,26.9h0.6v0.5h-0.6zM527.0,23.2h0.6v0.5h-0.6zM302.8,45.3h0.6v0.5h-0.6zM303.4,46.1h0.6v0.5h-0.6zM379.4,49.5h0.6v0.5h-0.6zM379.1,53.0h0.6v0.5h-0.6zM367.4,151.3h0.6v0.5h-0.6zM366.7,152.9h0.6v0.5h-0.6zM366.4,158.6h0.6v0.5h-0.6zM366.2,160.6h0.6v0.5h-0.6zM393.8,104.6h0.6v0.5h-0.6zM493.0,110.0h0.6v0.5h-0.6zM493.1,113.0h0.6v0.5h-0.6zM505.0,75.4h0.6v0.5h-0.6zM511.0,74.6h0.6v0.5h-0.6zM581.3,78.2h0.6v0.5h-0.6zM583.9,81.6h0.6v0.5h-0.6zM568.7,99.8h0.6v0.5h-0.6zM566.3,106.7h0.6v0.5h-0.6zM568.5,107.5h0.6v0.5h-0.6zM556.9,103.0h0.6v0.5h-0.6zM558.6,105.9h0.6v0.5h-0.6zM559.9,107.3h0.6v0.5h-0.6zM574.0,112.0h0.6v0.5h-0.6zM594.5,112.5h0.6v0.5h-0.6zM597.8,111.1h0.6v0.5h-0.6zM595.8,110.4h0.6v0.5h-0.6zM599.5,105.4h0.6v0.5h-0.6zM611.6,106.6h0.6v0.5h-0.6zM616.0,113.8h0.6v0.5h-0.6zM618.8,116.9h0.6v0.5h-0.6zM623.2,113.4h0.6v0.5h-0.6zM626.0,114.9h0.6v0.5h-0.6zM627.1,114.2h0.6v0.5h-0.6zM628.0,115.9h0.6v0.5h-0.6zM632.6,116.1h0.6v0.5h-0.6zM633.5,121.2h0.6v0.5h-0.6zM635.3,123.8h0.6v0.5h-0.6zM636.4,125.8h0.6v0.5h-0.6zM634.3,127.5h0.6v0.5h-0.6zM633.9,127.1h0.6v0.5h-0.6zM647.2,122.6h0.6v0.5h-0.6zM648.0,122.8h0.6v0.5h-0.6zM634.8,156.2h0.6v0.5h-0.6zM608.3,148.4h0.6v0.5h-0.6zM612.7,148.5h0.6v0.5h-0.6zM600.8,143.8h0.6v0.5h-0.6zM593.9,117.1h0.6v0.5h-0.6zM600.1,119.7h0.6v0.5h-0.6zM566.0,115.9h0.6v0.5h-0.6zM556.1,117.7h0.6v0.5h-0.6zM381.3,92.5h0.6v0.5h-0.6zM372.9,90.8h0.6v0.5h-0.6zM371.7,90.4h0.6v0.5h-0.6zM375.6,84.1h0.6v0.5h-0.6zM377.5,84.7h0.6v0.5h-0.6zM357.6,80.4h0.6v0.5h-0.6zM361.2,95.1h0.6v0.5h-0.6zM358.7,96.1h0.6v0.5h-0.6zM283.8,130.1h0.6v0.5h-0.6zM281.1,129.1h0.6v0.5h-0.6zM278.1,121.7h0.6v0.5h-0.6zM271.1,115.7h0.6v0.5h-0.6zM268.8,124.2h0.6v0.5h-0.6zM259.2,114.4h0.6v0.5h-0.6zM277.2,81.3h0.6v0.5h-0.6zM276.0,81.3h0.6v0.5h-0.6zM274.5,80.5h0.6v0.5h-0.6zM272.8,79.9h0.6v0.5h-0.6zM272.0,80.0h0.6v0.5h-0.6zM645.2,73.1h0.6v0.5h-0.6zM253.0,73.1h0.6v0.5h-0.6zM633.3,82.9h0.6v0.5h-0.6zM619.2,77.4h0.6v0.5h-0.6zM606.3,74.4h0.6v0.5h-0.6zM605.3,76.8h0.6v0.5h-0.6zM604.9,70.5h0.6v0.5h-0.6zM603.7,67.7h0.6v0.5h-0.6zM594.1,75.7h0.6v0.5h-0.6zM586.2,77.3h0.6v0.5h-0.6zM585.1,77.3h0.6v0.5h-0.6z" fill="#222" stroke="none"/></g><rect x="250.4" y="5.0" width="398.0" height="193.6" fill="none" stroke="#9a9a9a" stroke-width="0.6"/><g stroke="#000" stroke-width="0.3" stroke-linejoin="round"><rect x="250.4" y="211.9" width="398.0" height="193.6" fill="#fefcf8"/><path d="M355.4,272.7 363.2,264.9 369.8,258.3 376.4,250.5 378.1,244.7 400.2,245.1 405.2,238.4 414.0,236.0 424.5,238.8 425.9,239.5 429.5,239.5 433.4,240.2 440.0,242.4 447.0,244.9 455.5,246.1 456.6,245.6 458.8,246.7 461.1,247.4 459.6,248.9 459.0,251.1 454.9,253.9 451.6,255.5 449.4,261.6 445.0,264.4 441.7,268.8 443.1,271.3 443.1,271.7 441.7,274.9 433.9,283.7 433.9,294.8 436.1,301.4 440.6,304.7 449.4,303.6 461.0,305.8 461.0,311.4 383.1,311.4 366.5,305.8 363.7,302.5 362.1,301.3 359.9,302.0 357.1,300.8 355.4,298.6 352.1,295.3 347.7,293.1 341.1,291.5 341.1,278.2Z" fill="#fbfcfe" stroke="#8a8a8a" stroke-width="0.3"/><path d="M363.2,311.4 372.0,322.4 375.3,344.5 375.3,377.7 250.4,377.7 250.4,311.4Z" fill="#f1f5fc" stroke="#8a8a8a" stroke-width="0.3"/><path d="M648.4,311.4 648.4,377.7 611.9,377.7 611.9,355.6 610.8,333.5 606.9,323.2 606.4,321.9 606.4,316.9 600.9,315.2 596.4,313.0 594.2,312.0 594.2,311.4Z" fill="#f1f5fc" stroke="#8a8a8a" stroke-width="0.3"/><path d="M375.3,344.5 383.1,322.4 388.6,311.4 462.7,311.4 471.5,333.5 471.5,377.7 375.3,377.7Z" fill="#f9fbfe" stroke="#8a8a8a" stroke-width="0.3"/><path d="M471.5,344.5 488.1,316.9 493.6,298.1 497.4,297.4 504.7,293.7 512.4,283.7 512.4,281.5 521.3,280.4 532.3,284.8 548.9,284.8 557.7,294.8 559.4,302.5 561.1,308.0 563.8,310.0 564.4,313.6 566.0,318.3 571.0,319.6 576.5,320.7 582.1,320.9 587.6,320.9 594.2,319.6 598.6,316.3 603.1,319.6 606.4,321.6 606.9,323.2 610.8,333.5 611.9,355.6 611.9,377.7 471.5,377.7Z" fill="#f1f5fc" stroke="#8a8a8a" stroke-width="0.3"/><path d="M583.0,287.0 583.7,290.3 584.6,292.6 584.1,294.8 586.8,296.6 588.5,298.1 588.8,300.8 589.4,303.1 588.7,305.3 590.4,307.5 592.0,310.2 594.2,311.9 595.3,314.1 597.5,315.8 600.9,316.9 602.5,319.1 602.0,320.6 598.1,319.3 594.8,320.5 590.1,320.9 587.0,322.8 582.6,322.8 576.5,321.3 571.0,320.4 565.7,319.1 565.5,317.9 566.5,317.4 566.6,314.7 564.9,313.0 563.8,311.4 561.1,308.9 557.7,306.9 554.8,305.0 557.2,302.7 558.3,302.0 560.0,301.4 560.0,295.9 565.5,294.8 567.7,292.6 566.6,288.7 568.8,286.5 573.2,285.9 578.8,284.8 578.8,285.4Z" fill="#fbe9c8" stroke="#8a8a8a" stroke-width="0.3"/><path d="M443.3,271.2 449.4,267.1 452.7,262.9 459.4,261.8 463.8,260.5 471.5,264.9 474.8,265.8 479.2,265.5 479.2,262.7 482.6,259.4 488.1,258.8 493.6,258.8 495.8,264.4 495.3,266.6 489.8,271.6 489.8,276.9 483.7,277.6 473.7,278.4 466.0,278.4 460.5,275.4 460.5,271.6 447.2,273.2 443.3,272.1Z" fill="#e6effa" stroke="#8a8a8a" stroke-width="0.3"/><path d="M488.3,278.5 490.3,283.2 493.6,288.7 497.5,297.0 497.4,297.6 496.4,297.2 492.5,293.7 489.8,288.1 487.0,282.6 485.1,279.3 484.8,278.0Z" fill="#ffffff" stroke="#8a8a8a" stroke-width="0.3"/><path d="M505.8,277.6 512.4,280.9 511.8,282.3 511.3,284.3 505.8,285.4 501.9,280.4 501.9,277.6Z" fill="#ffffff" stroke="#8a8a8a" stroke-width="0.3"/><path d="M461.3,248.0 463.2,248.0 463.8,245.6 468.2,244.5 469.3,241.7 473.7,238.4 478.1,238.4 478.1,242.8 483.1,244.5 483.1,246.1 475.9,248.9 471.5,251.7 464.9,252.2 461.3,251.7Z" fill="#f8dca4" stroke="#8a8a8a" stroke-width="0.3"/><path d="M648.4,211.9 648.4,237.3 515.7,237.3 515.7,240.6 482.6,240.6 477.0,237.3 466.0,241.7 456.6,245.6 455.5,246.1 447.0,244.9 440.0,242.4 433.4,240.2 429.5,239.5 425.9,239.5 424.5,238.8 414.0,236.0 405.2,238.4 400.2,245.1 378.1,244.7 376.4,247.8 369.8,247.8 365.4,245.0 364.3,241.9 360.4,241.1 356.5,238.4 349.9,237.8 293.5,237.8 272.5,238.4 263.7,238.8 261.5,238.2 255.9,237.8 250.4,237.3 250.4,211.9Z" fill="#f5cb72" stroke="#8a8a8a" stroke-width="0.3"/><path d="M309.0,229.0 316.7,225.7 333.3,223.5 346.6,220.7 361.0,219.3 380.9,220.0 372.0,222.9 365.4,225.1 363.2,227.3 361.0,229.5 365.4,231.2 374.2,234.5 380.9,237.8 377.5,243.4 372.0,243.9 363.2,242.3 361.0,240.6 355.4,237.8 344.4,237.3 322.3,236.7 305.7,235.1Z" fill="#f6d594" stroke="#8a8a8a" stroke-width="0.3"/><path d="M352.1,239.7 353.2,241.1 358.7,241.9 360.4,240.7 364.1,242.0 365.4,249.4 363.2,255.5 357.6,255.5 343.3,247.2 343.3,239.7Z" fill="#f6d594" stroke="#8a8a8a" stroke-width="0.3"/><path d="M648.4,377.7 648.4,405.4 250.4,405.4 250.4,377.7Z" fill="#f5d58b" stroke="#8a8a8a" stroke-width="0.3"/><path d="M295.7,245.0 296.4,245.5 294.6,245.2 290.8,245.0 287.4,244.1 284.7,244.5 281.9,245.8 282.5,243.9 279.7,246.1 277.5,247.8 274.7,248.9 271.4,250.3 268.1,251.0 270.3,249.7 273.6,247.8 275.3,246.3 272.5,246.3 270.3,245.6 267.5,244.5 266.4,242.8 268.1,241.5 271.4,240.8 271.4,239.9 267.5,240.0 265.3,239.5 263.7,238.8 265.3,235.8 269.2,235.1 276.4,232.5 283.6,233.4 293.5,234.4 293.5,244.7ZM301.8,246.3 305.7,249.4 305.7,251.1 304.0,249.4 301.8,247.2 299.6,246.1 298.2,245.9 299.6,245.2Z" fill="#fce9c6"/><path d="M378.1,261.0 375.3,261.6 374.4,260.8 374.2,259.1 372.9,258.9 371.7,260.3 370.4,261.6 366.5,261.6 364.8,262.7 362.1,263.3 362.1,264.0 358.2,265.2 357.5,264.8 358.3,263.8 358.3,261.4 357.1,260.5 356.0,260.1 355.6,259.5 351.8,258.0 350.5,258.3 347.7,258.1 344.9,257.5 344.2,257.2 314.0,257.2 311.8,256.1 309.0,255.0 307.9,253.3 305.7,251.1 305.7,249.4 301.8,246.3 299.6,245.2 298.2,245.9 296.8,245.6 296.4,245.5 295.7,245.0 293.5,244.7 293.5,234.4 300.1,235.1 307.9,234.0 311.2,234.5 316.7,234.5 322.3,236.2 327.8,236.4 330.0,235.6 336.6,236.4 341.1,236.2 343.8,235.1 345.5,232.3 347.7,234.5 349.9,235.6 353.2,236.7 355.4,235.1 358.7,234.5 359.3,237.3 354.3,238.4 353.2,240.0 349.9,240.6 346.6,242.8 344.9,245.0 344.9,246.3 347.1,248.3 352.1,248.9 355.4,250.2 358.4,250.5 358.5,252.8 360.4,254.4 362.1,254.4 362.1,251.7 364.3,249.4 364.8,247.2 363.2,245.0 363.2,242.4 367.6,242.5 372.0,243.9 372.6,246.1 375.3,246.9 377.5,244.7 380.9,247.8 383.1,250.0 386.4,252.2 387.5,253.9 384.7,254.6 383.1,255.9 378.6,255.7 375.9,255.9 373.1,257.7 370.9,259.6 375.3,257.2 378.1,257.2 378.1,258.3 376.4,258.3 377.5,259.4 378.1,260.3 381.4,260.7 383.1,259.9 382.0,261.3 378.6,262.2 377.3,262.8 376.4,262.5 376.4,262.2Z" fill="#f6d594"/><path d="M374.4,260.8 375.3,261.6 373.1,262.7 371.5,263.6 371.2,264.9 372.0,265.2 369.8,265.8 367.6,266.5 367.4,267.7 365.9,268.8 365.4,270.4 365.7,272.1 363.7,273.5 361.5,274.9 359.9,276.2 359.5,278.2 360.6,281.5 360.7,283.4 359.6,283.5 358.0,280.6 357.9,279.1 356.5,278.2 354.9,278.4 352.7,277.9 350.5,278.0 350.7,279.2 348.8,279.0 346.0,278.4 344.4,279.1 342.2,280.4 341.8,282.6 339.7,282.1 338.3,279.8 337.2,278.4 335.5,279.3 333.9,278.6 331.8,276.3 329.8,276.2 329.8,276.7 326.7,276.7 322.5,275.4 319.9,275.4 318.4,273.8 316.1,273.1 314.5,270.9 314.0,269.6 312.3,267.1 312.0,264.4 312.3,260.5 311.5,257.8 313.4,258.8 314.0,257.2 344.2,257.2 344.9,257.5 347.7,258.1 350.5,258.3 351.8,258.0 355.6,259.5 356.0,260.1 357.1,260.5 358.3,261.4 358.3,263.8 357.5,264.8 358.2,265.2 362.1,264.0 362.1,263.3 364.8,262.7 366.5,261.6 370.4,261.6 371.7,260.3 372.7,259.1 374.3,259.3ZM376.4,262.5 377.3,262.8 376.4,263.3Z" fill="#f3f6fc"/><path d="M341.3,286.7 342.2,288.7 343.3,290.3 344.9,291.2 347.7,290.8 349.1,289.8 349.6,288.1 352.1,287.5 353.4,287.8 352.7,289.8 352.3,290.9 351.8,290.9 350.8,291.6 348.8,291.6 348.8,292.3 349.5,293.4 348.0,293.6 347.5,295.3 347.4,295.2 345.5,293.6 344.0,293.7 342.5,294.0 340.0,293.0 337.2,292.0 334.6,290.8 332.8,289.2 333.0,287.6 331.7,285.6 329.4,283.4 328.3,281.7 326.7,280.4 325.0,278.7 324.3,276.9 322.5,276.2 322.8,277.9 324.5,280.1 326.1,282.6 327.2,284.5 328.3,285.8 327.5,285.4 325.4,283.2 322.8,280.9 323.1,279.8 321.4,278.2 319.9,275.4 320.2,275.4 339.5,281.7 339.7,282.1 341.8,282.6 341.3,284.8Z" fill="#cfe2f6"/><path d="M348.8,292.3 348.8,291.6 350.8,291.6 351.8,290.9 352.3,290.9 352.1,291.5 351.6,293.3 351.2,293.9 352.4,293.8 351.8,294.0 350.8,294.8 350.7,295.4 349.8,296.2 348.2,295.9 347.5,295.3 348.0,293.6 349.5,293.4Z" fill="#a9cbed"/><path d="M351.8,294.0 352.4,293.8 351.9,293.9 354.3,293.8 356.5,293.9 357.4,294.8 355.6,295.1 354.5,296.0 353.4,296.6 352.9,297.0 352.8,297.1 352.7,297.0 351.6,296.8 349.9,296.2 349.8,296.2 350.7,295.4 350.8,294.8Z" fill="#bcd7f2"/><path d="M355.6,295.1 357.4,294.8 357.1,297.0 356.9,299.2 356.9,299.3 355.8,299.2 354.7,299.1 354.5,299.3 353.5,297.9 352.8,297.1 352.9,297.0 353.4,296.6 354.5,296.0Z" fill="#bcd7f2"/><path d="M356.9,299.3 357.9,300.7 358.2,300.9 357.8,302.3 357.6,302.3 356.9,301.8 355.4,300.3 354.5,299.3 354.7,299.1 355.8,299.2Z" fill="#d5e5f7"/><path d="M361.0,301.1 362.1,300.8 363.8,301.7 363.3,303.4 362.6,302.0 361.3,301.5 360.6,302.3 360.6,303.2 359.3,302.9 357.8,302.3 358.2,300.9 359.3,301.4ZM322.5,275.4 326.7,276.7 329.8,276.7 329.8,276.2 331.8,276.3 333.9,278.6 335.5,279.3 337.2,278.4 338.3,279.8 339.5,281.7 320.2,275.4ZM372.9,258.9 374.2,259.1 374.3,259.3 372.7,259.1Z" fill="#d5e5f7"/><path d="M374.0,335.1 375.3,336.8 373.8,338.4 373.7,341.2 372.2,344.5 371.7,347.8 371.6,350.6 370.9,353.9 370.0,356.7 370.0,360.0 370.2,362.2 369.2,365.5 368.5,367.2 369.5,367.7 369.8,368.8 372.8,369.2 372.6,369.2 370.9,370.5 369.2,369.9 367.6,368.8 366.2,366.6 367.0,364.4 365.9,363.0 368.1,361.1 368.7,357.8 367.8,355.6 368.1,352.5 369.2,350.6 370.4,347.8 370.4,344.5 370.9,341.8 371.5,339.0 371.8,335.7 371.7,331.7 371.5,331.6 371.7,331.6 372.6,330.7 373.7,332.4Z" fill="#5a97d6"/><path d="M366.3,311.4 365.9,311.5 362.8,315.1 362.1,316.9 360.6,315.1 361.0,314.1 360.0,313.8 360.4,311.9 361.0,310.5 362.3,309.8 363.7,310.6 365.4,311.0Z" fill="#f8d696"/><path d="M365.9,311.5 366.3,311.4 368.1,313.9 372.0,314.3 372.0,316.0 368.7,316.9 367.8,319.4 368.8,321.7 371.3,321.9 371.3,323.5 372.6,323.5 373.4,325.2 373.1,327.9 372.6,329.3 372.6,330.7 371.7,331.6 371.5,331.6 371.6,331.6 370.4,330.5 367.6,329.0 365.2,326.8 364.1,324.6 362.6,321.9 361.2,319.1 359.6,318.0 359.5,316.3 360.6,315.1 362.1,316.9 362.8,315.1Z" fill="#fdf1dc"/><path d="M369.4,303.1 372.0,303.6 374.8,304.5 374.4,306.9 375.3,310.0 372.2,309.5 372.6,311.9 372.0,314.3 368.1,313.9 366.3,311.4 365.4,311.0 363.7,310.6 362.3,309.8 362.6,308.6 363.9,307.1 363.7,305.3 363.3,303.4 363.8,301.7 364.5,302.5 365.4,301.0 365.9,299.6 366.7,299.1 368.7,298.6 370.2,297.7 369.6,299.0 368.7,301.2Z" fill="#fdf1dc"/><path d="M380.0,306.9 378.1,306.9 379.3,308.9 377.0,310.5 375.4,310.0 375.3,310.0 374.4,306.9 374.8,304.5 372.0,303.6 369.4,303.1 368.7,301.2 369.6,299.0 370.2,297.7 370.4,297.6 370.1,299.2 370.9,299.2 372.0,298.0 373.7,299.2 376.4,299.6 378.6,300.0 380.9,299.5 382.0,300.8 383.1,302.0 381.6,304.7 382.3,305.6Z" fill="#e1ecf9"/><path d="M386.9,309.2 384.4,310.0 383.1,308.6 383.1,305.6 382.3,305.6 381.6,304.7 383.1,302.0 384.7,303.6 386.3,304.6 386.2,304.9 385.3,306.9Z" fill="#dfeaf8"/><path d="M385.3,306.9 386.2,304.9 386.3,304.6 386.2,304.6 386.4,304.7 388.6,304.7 389.7,305.0 389.1,308.8 386.9,309.2Z" fill="#dfeaf8"/><path d="M389.7,305.0 390.3,305.2 392.2,306.7 391.4,308.6 389.1,308.8Z" fill="#dfeaf8"/><path d="M377.2,324.1 379.8,325.3 382.5,326.6 383.1,329.3 385.7,331.2 385.1,333.5 384.2,332.7 381.1,333.0 380.6,334.0 380.1,335.9 377.5,335.7 375.3,336.8 374.0,335.1 373.7,332.4 372.6,330.7 372.6,329.3 373.1,327.9 373.4,325.2 372.6,323.5 375.9,322.3 377.1,322.2Z" fill="#fdf5e8"/><path d="M384.2,332.7 385.1,333.5 385.3,335.7 387.7,336.0 388.0,337.9 389.4,337.9 389.0,339.7 387.7,341.6 384.6,341.4 385.7,339.5 383.1,337.9 380.1,335.9 380.6,334.0 381.1,333.0Z" fill="#f8fafd"/><path d="M387.9,345.4 390.6,347.5 390.4,348.6 389.1,349.8 386.9,349.8 384.8,348.9 385.1,347.3 385.7,344.7Z" fill="#ecf3fb"/><path d="M387.7,342.7 385.7,344.7 385.1,347.3 384.8,348.9 386.2,351.2 385.8,353.4 383.1,354.4 380.9,354.5 380.5,356.7 377.5,356.7 378.6,358.3 377.2,360.5 374.8,362.2 376.7,363.5 374.8,365.9 373.1,367.7 373.8,369.2 372.8,369.2 369.8,368.8 369.5,367.7 368.5,367.2 369.2,365.5 370.2,362.2 370.0,360.0 370.0,356.7 370.9,353.9 371.6,350.6 371.7,347.8 372.2,344.5 373.7,341.2 373.8,338.4 375.3,336.8 377.5,335.7 380.1,335.9 383.1,337.9 385.7,339.5 384.6,341.4 387.7,341.6 389.0,339.7 389.9,341.4Z" fill="#fdfdfe"/><path d="M394.1,310.8 393.6,311.6 395.8,312.2 397.4,312.1 400.2,313.6 403.0,314.4 405.2,314.4 407.4,315.8 409.0,316.9 410.5,317.4 410.9,319.6 410.2,321.9 408.5,324.1 406.8,325.7 406.3,327.9 406.3,330.7 405.4,332.9 404.1,335.7 403.0,336.8 400.2,337.0 398.0,337.9 395.8,339.9 395.7,342.3 394.1,344.0 391.9,346.7 390.4,348.6 390.6,347.5 387.9,345.4 385.7,344.7 387.7,342.7 389.9,341.4 389.0,339.7 389.4,337.9 388.0,337.9 387.7,336.0 385.3,335.7 385.1,333.5 385.7,331.2 383.1,329.3 382.5,326.6 379.8,325.3 377.2,324.1 377.1,322.2 375.9,322.3 372.6,323.5 371.3,323.5 371.3,321.9 368.8,321.7 367.8,319.4 368.7,316.9 372.0,316.0 372.0,314.3 372.6,311.9 372.2,309.5 375.3,310.0 375.4,310.0 377.0,310.5 379.3,308.9 378.1,306.9 380.0,306.9 382.3,305.6 383.1,305.6 383.1,308.6 384.4,310.0 386.9,309.2 389.1,308.8 391.4,308.6 392.2,306.7 393.6,309.1Z" fill="#dfeaf8"/><path d="M439.8,282.6 436.1,282.6 436.1,285.4 435.0,285.9 435.0,287.8 430.7,287.8 431.7,285.4 433.0,283.2 434.8,280.7 439.8,280.7Z" fill="#5e99d6"/><path d="M443.9,278.2 439.8,279.6 439.8,280.7 434.8,280.7 436.7,279.8 438.3,278.7 438.7,277.4 439.1,275.4 441.1,274.1 442.2,273.2 442.9,271.8 443.5,271.7 446.1,272.3 447.2,272.5 448.1,275.8 445.5,277.1Z" fill="#5b97d5"/><path d="M436.1,285.4 436.1,282.6 439.8,282.6 439.8,281.2 444.1,283.7 442.8,289.2 443.3,294.2 437.6,294.3 435.9,295.0 433.9,293.0 431.2,293.7 431.7,291.5 431.4,289.8 430.6,288.1 430.7,287.8 435.0,287.8 435.0,285.9Z" fill="#73a8de"/><path d="M436.8,297.6 434.3,297.4 430.9,297.8 430.8,296.4 430.1,295.1 431.2,293.7 433.9,293.0 435.9,295.0Z" fill="#93bde8"/><path d="M432.8,299.2 430.9,297.8 434.3,297.4 434.3,298.4Z" fill="#cfe2f6"/><path d="M436.7,303.7 434.8,302.0 434.7,301.3 436.7,300.3 438.0,302.0Z" fill="#cfe2f6"/><path d="M440.2,302.9 441.1,306.5 439.5,305.8 436.7,303.7 438.0,302.0 439.0,303.2Z" fill="#cfe2f6"/><path d="M436.8,297.6 439.5,297.8 440.6,300.1 440.2,302.9 439.0,303.2 438.0,302.0 436.7,300.3 434.7,301.3 433.4,299.7 432.8,299.2 434.3,298.4 434.3,297.4Z" fill="#b9d5f1"/><path d="M442.8,299.7 443.3,299.9 446.4,300.8 446.0,305.7 443.9,305.6 441.1,306.5 440.2,302.9 440.6,300.1Z" fill="#cfe2f6"/><path d="M449.4,299.2 450.0,302.0 450.1,304.2 450.7,304.6 449.4,305.0 447.2,306.0 446.0,305.7 446.4,300.8 446.3,299.2Z" fill="#f0f6fc"/><path d="M449.4,299.2 450.5,299.2 451.2,301.4 451.2,304.5 450.7,304.6 450.1,304.2 450.0,302.0Z" fill="#e4eefa"/><path d="M452.1,298.3 453.4,298.4 453.4,300.3 452.4,302.5 452.4,304.3 451.2,304.5 451.2,301.4 450.5,299.2Z" fill="#e4eefa"/><path d="M447.2,295.7 449.6,294.8 450.5,296.4 451.8,297.5 452.1,298.3 450.5,299.2 449.4,299.2 446.3,299.2 446.4,300.8 443.3,299.9 443.7,298.3 445.0,296.6Z" fill="#e8f1fb"/><path d="M442.8,289.2 444.1,283.7 450.7,288.0 453.0,290.3 454.0,290.2 454.0,293.1 453.3,294.3 450.5,294.8 449.6,294.8 447.2,295.7 445.0,296.6 443.7,298.3 443.3,299.9 442.8,299.7 440.6,300.1 439.5,297.8 436.8,297.6 435.9,295.0 437.6,294.3 443.3,294.2Z" fill="#bcd7f2"/><path d="M453.4,298.4 453.8,296.4 457.1,297.0 459.4,297.2 462.7,296.8 464.4,296.2 465.1,297.6 465.5,298.6 464.1,300.3 462.7,303.1 461.0,303.7 459.7,304.3 458.9,306.0 458.9,306.4 458.6,306.4 457.1,306.5 456.0,306.6 455.3,305.3 454.4,304.4 452.4,304.3 452.4,302.5 453.4,300.3Z" fill="#ffffff"/><path d="M454.0,293.1 454.0,290.2 455.8,289.8 457.7,288.4 462.7,285.4 466.0,285.9 467.1,288.9 466.5,292.8 464.3,295.3 464.4,296.2 462.7,296.8 459.4,297.2 457.1,297.0 453.8,296.4 453.4,298.4 452.1,298.3 451.8,297.5 450.5,296.4 449.6,294.8 450.5,294.8 453.3,294.3Z" fill="#8fbbe7"/><path d="M459.9,278.0 459.4,276.0 457.7,274.0 458.6,272.7 458.9,270.6 459.0,270.3 460.2,270.1 461.6,270.4 461.0,271.6 461.6,272.7 460.5,273.5 461.3,274.1 462.1,274.6 462.1,276.0 460.8,277.6Z" fill="#9cc3ea"/><path d="M475.9,289.2 475.9,289.8 466.0,285.9 462.7,285.4 460.5,284.3 459.9,282.6 460.5,281.5 459.9,278.0 460.8,277.6 462.1,276.0 462.1,274.6 463.8,275.0 466.3,275.6 466.5,276.5 468.7,277.2 470.4,277.9 471.5,277.1 471.5,275.6 473.2,275.0 474.8,275.3 477.0,276.2 477.0,287.0 477.0,289.2Z" fill="#a6c9ec"/><path d="M479.2,276.7 481.5,277.2 482.6,276.7 483.7,276.4 485.1,276.7 487.2,276.7 488.0,278.7 487.4,280.4 487.2,280.7 486.4,280.1 485.4,278.3 485.4,279.3 486.4,280.6 487.0,282.1 488.1,283.9 488.9,285.4 490.2,287.0 477.0,287.0 477.0,276.2Z" fill="#5b97d5"/><path d="M445.5,277.1 448.1,275.8 447.2,272.5 449.4,271.8 451.1,271.0 452.7,270.7 454.9,270.7 457.7,270.4 459.0,270.3 458.9,270.6 458.6,272.7 457.7,274.0 459.4,276.0 459.9,278.0 460.5,281.5 459.9,282.6 460.5,284.3 462.7,285.4 457.7,288.4 455.8,289.8 454.0,290.2 453.0,290.3 450.7,288.0 444.1,283.7 439.8,281.2 439.8,280.7 439.8,279.6 443.9,278.2Z" fill="#5f9ad6"/><path d="M460.2,310.2 460.2,310.1 460.2,308.8 461.9,308.9 461.9,310.2Z" fill="#e8f1fb"/><path d="M462.7,303.1 464.1,300.3 465.5,298.6 465.1,297.6 465.5,297.2 466.1,298.6 466.0,300.3 464.9,300.5 466.5,303.1 465.4,304.7 465.5,305.8 467.1,308.6 467.1,309.5 464.1,308.9 461.9,308.9 460.2,308.8 460.2,308.7 460.1,307.5 459.2,306.4 458.9,306.4 458.9,306.0 459.7,304.3 461.0,303.7Z" fill="#e9f2fb"/><path d="M464.1,308.9 464.1,309.9 465.3,309.9 465.3,311.9 465.3,313.6 463.2,313.9 462.1,314.1 461.8,315.8 460.2,314.1 459.4,312.5 459.7,310.8 460.2,310.2 461.9,310.2 461.9,308.9Z" fill="#e8f1fb"/><path d="M465.3,313.6 465.3,311.9 465.3,309.9 464.1,309.9 464.1,308.9 467.1,309.5 467.1,308.6 467.6,307.5 470.0,307.5 469.3,309.1 469.1,311.9 467.1,314.1 467.1,315.8 465.3,316.8 463.8,316.4 462.7,316.9 461.8,315.8 462.1,314.1 463.2,313.9Z" fill="#cfe2f6"/><path d="M465.3,316.8 467.1,315.8 467.1,314.1 469.1,311.9 469.3,309.1 470.0,307.5 470.0,306.6 471.0,305.7 474.3,306.8 476.5,305.7 479.7,305.7 480.4,306.5 482.0,306.3 483.5,307.5 483.5,308.8 484.0,309.0 482.2,310.5 482.1,312.9 481.5,314.4 481.7,316.2 482.1,318.5 483.3,320.4 481.4,320.7 480.8,321.6 481.0,323.5 482.3,324.8 482.3,326.2 480.8,325.2 479.5,324.2 477.4,323.7 476.4,324.0 475.9,323.4 473.9,323.7 473.5,321.9 473.5,319.4 471.0,319.1 470.4,320.2 468.7,320.3 467.8,318.0 463.8,317.9 463.0,318.1 462.7,316.9 463.8,316.4Z" fill="#c5dcf4"/><path d="M468.7,320.3 470.4,320.2 471.0,319.1 473.5,319.4 473.5,321.9 473.9,323.7 475.9,323.4 475.9,325.7 473.7,325.7 473.7,329.3 475.3,330.8 473.1,331.1 469.7,330.6 464.3,330.6 462.5,330.5 462.4,330.5 462.4,329.0 463.2,326.3 464.7,324.6 464.7,323.0 463.8,321.3 464.1,320.5 463.0,318.1 463.8,317.9 467.8,318.0Z" fill="#c5dcf4"/><path d="M473.1,331.1 475.3,330.8 477.3,331.0 476.5,331.8 472.6,331.6 472.6,335.7 471.5,335.7 471.5,342.7 470.4,343.3 468.6,343.1 467.6,343.0 466.3,341.2 466.0,339.0 465.4,336.6 464.3,334.6 463.2,332.1 462.5,330.5 464.3,330.6 469.7,330.6Z" fill="#c5dcf4"/><path d="M478.1,332.4 480.0,334.0 481.8,335.9 480.4,336.6 479.2,337.4 477.9,338.8 477.5,339.8 474.8,339.3 473.7,340.8 472.3,341.0 471.5,338.8 471.5,335.7 472.6,335.7 472.6,331.6 476.5,331.8 477.3,331.0Z" fill="#c5dcf4"/><path d="M483.0,328.6 485.9,329.8 485.8,331.8 485.9,333.2 485.2,334.9 484.0,336.1 481.8,335.9 480.0,334.0 478.1,332.4 477.3,331.0 479.2,331.1 481.4,329.0Z" fill="#cfe2f6"/><path d="M480.6,345.2 479.2,344.1 481.0,343.0 481.9,344.0Z" fill="#3f7cc2"/><path d="M484.8,341.0 484.0,341.5 483.5,341.0 484.0,339.9 484.8,340.1Z" fill="#6ea4dc"/><path d="M471.5,342.7 471.5,338.8 472.3,341.0 473.7,340.8 474.8,339.3 477.5,339.8 477.9,338.8 479.2,337.4 480.4,336.6 481.8,335.9 484.0,336.1 484.8,338.4 484.8,340.1 484.0,339.9 483.5,341.0 484.0,341.5 484.8,341.0 485.8,341.1 485.3,342.9 484.0,344.3 482.6,346.0 480.7,347.6 479.2,348.6 477.8,348.9 475.4,348.9 473.7,349.2 471.5,349.8 469.9,349.3 469.6,347.5 469.5,346.4 468.5,345.1 467.6,343.0 468.6,343.1 470.4,343.3ZM481.9,344.0 481.0,343.0 479.2,344.1 480.6,345.2Z" fill="#6ea4dc"/><path d="M488.0,326.3 489.1,327.8 489.0,329.0 488.4,330.3 487.3,329.0 487.4,327.4 486.1,326.8 485.6,326.4 485.9,325.2 486.2,323.3 485.8,321.7 487.0,321.9 487.7,324.1Z" fill="#dbe9f8"/><path d="M475.9,323.4 476.4,324.0 477.4,323.7 479.5,324.2 480.8,325.2 482.3,326.2 482.3,324.8 481.0,323.5 480.8,321.6 481.4,320.7 483.3,320.4 485.8,321.7 486.2,323.3 485.9,325.2 485.6,326.4 486.1,326.8 482.8,327.7 483.0,328.6 481.4,329.0 479.2,331.1 477.3,331.0 475.3,330.8 473.7,329.3 473.7,325.7 475.9,325.7Z" fill="#ffffff"/><path d="M487.7,324.1 487.0,321.9 485.8,321.7 483.3,320.4 482.1,318.5 481.9,316.2 483.1,315.0 483.5,314.0 483.1,312.5 487.0,312.5 491.0,314.7 491.1,315.2 493.1,316.5 492.4,318.0 493.0,319.1 493.0,320.7 493.4,322.4 494.1,323.0 491.4,323.8 489.2,324.2Z" fill="#c5dcf4"/><path d="M484.8,338.4 484.0,336.1 485.2,334.9 485.9,333.2 485.8,331.8 485.9,329.8 483.0,328.6 482.8,327.7 486.1,326.8 487.4,327.4 487.3,329.0 488.4,330.3 489.0,329.0 489.1,327.8 488.0,326.3 487.7,324.1 489.2,324.2 491.4,323.8 494.1,323.0 494.3,325.2 494.4,327.6 493.6,329.4 492.0,330.5 490.2,331.2 488.6,333.2 487.9,333.5 488.4,335.7 488.6,337.9 486.4,339.2 485.8,340.1 485.8,341.1 484.8,341.0 484.8,340.1Z" fill="#dbe9f8"/><path d="M481.9,316.2 481.7,316.2 481.5,314.4 482.1,312.9 483.1,312.5 483.5,314.0 483.1,315.0Z" fill="#7fb0e2"/><path d="M482.2,310.5 484.0,309.0 483.5,307.5 484.8,307.4 486.4,307.1 487.0,306.7 487.5,308.0 488.1,309.7 487.0,311.1 487.0,312.5 483.1,312.5 482.1,312.9Z" fill="#5a94d2"/><path d="M487.0,312.5 487.0,311.1 488.1,309.7 487.5,308.0 487.0,306.7 488.1,305.5 489.2,306.5 491.4,307.4 493.1,307.6 495.7,307.0 494.7,308.3 494.7,312.2 495.3,313.2 494.2,314.2 493.6,315.6 493.1,316.5 491.1,315.2 491.0,314.7Z" fill="#a3c7eb"/><path d="M495.6,298.6 496.3,297.5 497.3,297.5 497.3,298.6 496.9,299.7 496.3,299.2Z" fill="#4a86c8"/><path d="M492.5,295.2 491.3,295.0 489.8,295.5 490.3,292.6 492.0,291.5 493.1,294.2 494.7,295.3 496.4,297.0 497.3,297.5 496.3,297.5 494.5,295.8Z" fill="#4a86c8"/><path d="M495.7,307.0 496.9,306.4 499.2,305.8 502.5,302.5 501.4,302.5 498.0,301.4 496.9,299.7 497.3,298.6 498.0,299.7 499.7,299.5 501.4,299.0 503.6,298.9 506.0,298.2 505.9,299.7 505.6,300.8 504.5,302.5 503.6,304.2 502.5,306.0 500.8,308.0 499.2,309.1 497.5,310.6 495.8,312.2 495.3,313.2 494.7,312.2 494.7,308.3Z" fill="#5a94d2"/><path d="M487.8,303.9 485.9,302.5 487.1,301.8 487.3,299.7 488.2,298.3 489.3,297.3 489.8,295.5 491.3,295.0 492.5,295.2 494.5,295.8 496.3,297.5 495.6,298.6 496.3,299.2 496.9,299.7 498.0,301.4 501.4,302.5 502.5,302.5 499.2,305.8 496.9,306.4 495.7,307.0 493.1,307.6 491.4,307.4 489.2,306.5 488.1,305.5 488.4,305.4Z" fill="#4a88cb"/><path d="M480.4,301.1 482.0,300.3 483.7,300.5 485.3,298.1 486.1,297.9 486.0,299.5 487.3,299.7 487.1,301.8 485.9,302.5 487.8,303.9 488.4,305.4 488.1,305.5 487.0,306.7 486.4,307.1 484.8,307.4 483.5,307.5 482.0,306.3 480.4,306.5 479.7,305.7 478.1,304.2 476.5,302.5 475.6,301.7 476.5,301.7 478.7,300.8Z" fill="#a9cbed"/><path d="M489.3,297.3 488.2,298.3 487.3,299.7 486.0,299.5 486.1,297.9 485.3,298.1 483.7,300.5 482.0,300.3 480.4,301.1 478.7,300.8 476.5,301.7 475.6,301.7 474.7,299.2 473.7,297.0 474.7,294.0 475.9,294.0 475.9,289.8 475.9,289.2 477.0,289.2 477.0,287.0 490.2,287.0 490.5,288.1 490.7,290.6 492.0,291.5 490.3,292.6 489.8,295.5Z" fill="#a6c9ec"/><path d="M470.4,301.4 472.6,300.3 474.7,299.2 475.6,301.7 476.5,302.5 478.1,304.2 479.7,305.7 476.5,305.7 474.3,306.8 471.0,305.7 470.0,306.6 470.0,307.5 467.6,307.5 467.1,308.6 465.5,305.8 465.4,304.7 466.5,303.1 468.2,302.8Z" fill="#d9e8f8"/><path d="M475.9,289.8 475.9,294.0 474.7,294.0 473.7,297.0 474.7,299.2 472.6,300.3 470.4,301.4 468.2,302.8 466.5,303.1 464.9,300.5 466.0,300.3 466.1,298.6 465.5,297.2 465.1,297.6 464.4,296.2 464.3,295.3 466.5,292.8 467.1,288.9 466.0,285.9ZM484.0,309.0 483.5,308.8 483.5,307.5ZM481.9,316.2 482.1,318.5 481.7,316.2Z" fill="#dbe9f8"/><path d="M440.3,264.9 442.1,265.0 442.5,265.4 441.9,266.0 441.7,267.5 441.7,268.8 441.2,270.2 439.7,270.4 439.5,270.4 438.9,268.6 439.7,266.0 439.4,265.0 439.6,265.0Z" fill="#6ea4dc"/><path d="M452.9,265.0 451.8,265.6 450.3,266.2 449.1,267.7 449.6,268.5 448.7,269.3 448.5,269.8 447.4,270.4 446.9,270.7 444.5,270.8 443.4,271.4 442.5,271.0 442.3,270.4 441.2,270.2 441.7,268.8 441.7,267.5 441.9,266.0 442.5,265.4 442.1,265.0 440.3,264.9 439.6,265.0 439.4,265.0 439.1,263.8 440.6,263.0 443.3,263.3 445.5,263.4 447.4,263.4 450.2,264.1 452.9,264.5Z" fill="#5c98d6"/><path d="M453.8,253.9 454.6,252.8 456.0,252.3 457.1,252.1 457.3,252.1 457.4,252.4 457.1,253.5 456.0,254.1 456.0,255.0 456.1,255.9 456.5,256.6 455.8,256.6 454.7,256.0 454.0,256.1 452.2,254.9 452.2,254.8 452.9,254.6Z" fill="#eef4fc"/><path d="M460.9,259.8 458.8,260.5 457.1,260.6 456.0,260.2 457.7,258.7 460.0,258.8Z" fill="#e4eefa"/><path d="M454.7,256.0 455.8,256.6 456.5,256.6 458.5,257.2 457.7,258.7 456.0,260.2 457.1,260.6 457.1,262.5 457.7,262.9 456.6,263.7 455.3,263.5 453.8,263.3 452.8,263.8 452.9,264.5 450.2,264.1 447.4,263.4 448.1,262.0 448.1,260.5 447.0,259.4 444.4,258.5 444.1,257.8 446.1,257.4 447.6,257.6 447.4,256.4 448.3,256.7 449.6,256.6 451.1,256.0 451.2,255.1 452.1,254.9 452.2,254.9 454.0,256.1Z" fill="#cde0f5"/><path d="M458.4,249.4 458.5,248.3 459.9,248.1 461.1,247.6 460.8,248.9 461.3,249.2 460.5,250.0 460.1,250.5 460.3,250.8 458.9,250.7 458.9,250.5Z" fill="#f6f9fd"/><path d="M463.6,258.1 464.7,257.5 466.0,257.2 468.1,257.5 468.2,258.3 467.1,259.6 464.5,259.9 463.1,259.7 460.9,259.8 460.0,258.8 461.0,258.9 463.8,258.8Z" fill="#e4eefa"/><path d="M470.2,256.6 468.2,257.5 468.1,257.5 466.0,257.2 464.7,257.5 462.9,255.9 465.8,255.0 467.3,255.6Z" fill="#eef4fc"/><path d="M459.1,251.7 458.9,250.7 460.3,250.8 460.5,251.1 461.6,251.7 462.7,251.4 464.3,251.2 465.1,251.8 465.7,253.3 466.0,254.9 465.8,255.0 462.9,255.9 464.7,257.5 463.6,258.1 463.8,258.8 461.0,258.9 460.0,258.8 457.7,258.7 458.5,257.2 456.5,256.6 456.1,255.9 456.0,255.0 456.0,254.1 457.1,253.5 457.4,252.4 457.3,252.1 458.5,252.1Z" fill="#eef4fc"/><path d="M458.8,260.5 460.9,259.8 463.1,259.7 464.5,259.9 464.5,260.8 463.1,261.2 463.0,262.2 464.3,263.1 465.1,264.4 466.9,265.0 467.1,265.5 468.2,266.0 469.9,267.0 469.4,267.2 468.2,266.6 467.8,267.3 468.3,268.2 467.6,268.6 467.2,269.3 467.1,269.3 466.8,269.2 467.0,268.6 467.1,267.7 466.5,267.0 465.4,266.5 464.9,266.0 463.8,265.7 462.9,265.1 461.6,264.5 461.0,263.8 460.7,262.8 459.9,262.5 459.1,262.3 458.2,262.8 457.7,262.9 457.1,262.5 457.1,260.6Z" fill="#d5e5f7"/><path d="M475.5,253.5 475.9,255.4 474.5,257.1 470.2,256.6 467.3,255.6 465.8,255.0 466.0,254.9 465.7,253.3 465.1,251.8 467.1,251.3 469.6,250.8 470.2,251.2 471.3,251.2 474.8,251.2 475.8,251.8Z" fill="#fdf6e8"/><path d="M470.2,258.5 468.2,258.3 468.1,257.5 468.2,257.5 470.2,256.6 474.5,257.1 473.9,257.8Z" fill="#e8f1fb"/><path d="M473.9,257.8 474.7,258.3 472.6,260.3 470.2,260.6 467.6,260.1 467.1,259.6 468.2,258.3 470.2,258.5Z" fill="#e8f1fb"/><path d="M467.6,260.1 470.2,260.6 470.8,261.7 470.6,263.3 469.9,264.5 468.2,263.6 467.0,263.1 466.0,262.4 465.4,261.4 464.4,261.6 464.5,260.8 464.5,259.9 467.1,259.6Z" fill="#c8ddf4"/><path d="M472.6,266.1 471.7,267.6 470.8,266.8 470.8,265.5 470.6,265.0 470.7,265.0 472.2,264.9 472.1,265.7Z" fill="#c8ddf4"/><path d="M476.5,265.5 478.5,265.2 478.1,266.2 477.0,266.1 475.9,266.4 476.3,267.0 475.2,266.8 474.6,266.7 474.4,267.7 475.0,268.1 474.8,268.5 475.9,269.2 475.9,269.7 474.8,269.4 474.9,270.0 474.8,271.0 474.2,271.0 473.4,270.7 472.8,269.6 472.9,269.0 472.3,268.3 471.7,267.6 472.6,266.1 474.8,265.7Z" fill="#6ea4dc"/><path d="M474.5,262.5 474.2,264.6 474.8,265.7 472.6,266.1 472.1,265.7 472.2,264.9 470.7,265.0 469.9,264.5 470.6,263.3 470.8,261.7 470.2,260.6 472.6,260.3 474.3,262.2Z" fill="#c8ddf4"/><path d="M479.2,262.6 480.8,263.0 480.6,263.4 480.0,264.1 480.4,264.9 478.5,265.2 476.5,265.5 474.8,265.7 474.2,264.6 474.5,262.5 477.0,263.0Z" fill="#dde9f8"/><path d="M478.8,258.1 480.6,259.9 480.6,261.0 482.2,261.3 481.1,262.5 480.8,263.0 479.2,262.6 477.0,263.0 474.5,262.5 474.3,262.2 472.6,260.3 474.7,258.3 476.5,258.4Z" fill="#dde9f8"/><path d="M482.6,259.9 481.7,260.1 480.6,261.0 480.6,259.9 478.8,258.1 479.8,257.7 481.7,258.3Z" fill="#dde9f8"/><path d="M475.7,254.3 477.0,254.0 479.8,254.4 483.1,254.6 484.2,253.6 487.0,253.5 488.6,255.6 491.4,256.2 493.6,256.5 493.4,258.3 491.7,259.3 491.4,259.3 489.8,259.7 488.1,260.3 488.6,261.3 489.8,261.4 488.4,261.6 487.0,262.3 486.4,262.0 485.3,261.2 486.5,260.5 484.8,260.2 484.2,259.7 483.3,259.9 482.2,261.3 480.6,261.0 481.7,260.1 482.6,259.9 481.7,258.3 479.8,257.7 478.8,258.1 476.5,258.4 474.7,258.3 473.9,257.8 474.5,257.1 475.9,255.4ZM490.9,261.1 490.7,261.7 490.6,261.6Z" fill="#f3f7fd"/><path d="M477.9,250.7 478.8,249.8 480.6,249.2 483.6,249.9 483.7,251.1 485.3,252.4 484.2,253.6 483.1,254.6 479.8,254.4 477.0,254.0 475.7,254.3 475.5,253.5 475.8,251.8Z" fill="#fdf3e0"/><path d="M471.3,251.2 471.5,250.7 472.6,250.2 474.6,250.5 474.8,251.2Z" fill="#f9e1b2"/><path d="M477.9,250.7 475.8,251.8 474.8,251.2 474.6,250.5 472.6,250.2 472.6,249.0 476.8,249.0 478.8,249.8Z" fill="#fdf3e0"/><path d="M480.0,247.8 480.6,249.2 478.8,249.8 476.8,249.0 472.6,249.0 472.6,248.9 473.2,247.8 474.3,247.6 475.0,248.3 476.2,248.2 476.3,247.3 476.4,247.3 477.0,247.2Z" fill="#fdf3e0"/><path d="M475.4,246.5 475.4,245.9 477.0,245.6 480.4,245.6 479.8,247.2 480.0,247.8 477.0,247.2 476.4,247.3 476.3,247.3 476.4,246.9ZM474.6,245.0 475.5,245.0 474.8,245.1Z" fill="#fdf3e0"/><path d="M477.8,235.1 478.1,234.0 480.4,234.0 481.5,234.3 481.4,235.1 480.9,236.0 482.6,236.5 481.5,237.4 482.6,238.7 482.2,239.7 483.1,240.4 484.2,241.8 482.0,243.6 480.1,244.5 478.1,244.6 475.5,245.0 474.6,245.0 473.2,244.5 472.9,243.4 472.9,242.3 474.3,241.1 476.5,239.8 477.5,239.4 476.2,238.6 475.6,236.7 472.2,235.0ZM472.9,240.0 471.5,241.0 471.5,240.6 473.2,239.8Z" fill="#f9dfae"/><path d="M464.9,240.0 466.0,238.2 467.6,236.2 469.5,235.6 472.2,235.0 475.6,236.7 476.2,238.6 474.1,238.7 473.2,239.8 471.5,240.6 471.5,241.0 472.9,240.0 471.0,241.4 468.7,242.5 468.4,243.9 468.5,244.5 470.2,245.0 469.5,245.8 467.9,246.7 467.6,248.3 467.1,249.2 465.4,249.4 465.1,250.1 463.8,250.1 463.4,249.4 463.0,248.6 462.4,247.6 461.8,246.1 462.7,244.5 463.2,243.4 462.7,241.1Z" fill="#f9dfae"/><path d="M480.4,234.0 478.1,234.0 477.8,235.1 472.2,235.0 469.5,235.6 467.6,236.2 466.0,238.2 464.9,240.0 462.7,241.1 463.2,243.4 462.7,244.5 461.8,246.1 461.1,245.6 459.9,246.3 458.2,247.1 456.9,247.2 455.6,246.3 454.9,245.0 454.9,243.7 455.0,242.8 456.6,241.9 458.8,241.1 460.5,240.6 462.1,239.5 463.2,238.4 464.3,237.1 466.0,236.0 467.6,235.3 469.9,234.3 472.6,233.9 475.4,233.2 477.9,232.7 480.4,232.9 483.7,233.6 482.6,234.3 483.1,234.3 481.4,235.1 481.5,234.3Z" fill="#dfeaf8"/><path d="M480.6,265.4 481.4,265.7 481.1,266.0 479.8,266.1 478.9,266.6 478.4,266.9 478.3,266.5 478.1,266.2 478.5,265.2 480.4,264.9ZM498.9,267.5 498.0,267.8 498.4,269.4 498.9,270.2 496.3,270.3 493.6,270.7 491.4,270.7 490.0,270.7 489.4,271.6 489.1,271.6 489.0,271.2 489.4,270.9 488.6,270.9 487.0,271.2 485.3,271.4 483.2,270.7 482.0,271.3 480.4,270.8 479.6,270.4 479.2,269.3 478.5,268.8 479.0,267.9 478.4,267.6 478.4,267.1 478.7,266.8 481.5,266.1 481.7,265.8 484.0,265.9 486.2,264.9 488.1,264.9 489.8,265.7 491.4,266.0 493.6,266.0 495.3,265.5 497.5,265.9 497.7,267.0Z" fill="#4f8bcc"/><path d="M500.8,265.0 502.2,265.8 503.1,265.1 503.3,265.1 503.6,265.5 505.0,266.7 503.9,266.9 503.4,268.5 503.4,268.9 502.5,267.9 500.8,268.3 499.2,267.8 498.9,267.5 497.7,267.0 497.5,265.9 495.3,265.5 495.4,264.7 494.7,263.8 493.6,263.4 496.4,263.6 498.6,264.1Z" fill="#7fb0e2"/><path d="M488.8,275.2 488.6,277.1 488.0,278.6 487.2,276.7 487.8,276.0 488.1,274.9 488.1,274.8 488.2,274.8 489.0,274.5Z" fill="#6ea4dc"/><path d="M488.8,273.1 489.1,273.1 489.6,273.1 489.8,273.5 489.0,274.5 488.2,274.8 488.2,274.6 488.8,273.2Z" fill="#6ea4dc"/><path d="M489.0,275.2 490.1,275.6 492.3,274.4 492.7,275.8 490.3,276.5 491.4,277.6 490.9,278.2 489.8,278.7 489.2,279.1 488.1,278.8 488.1,278.7 488.0,278.6 488.6,277.1 488.8,275.2Z" fill="#5a94d2"/><path d="M491.4,270.7 493.6,270.7 496.3,270.3 494.9,271.1 494.7,273.3 492.3,274.4 490.1,275.6 489.0,275.2 489.0,274.5 489.8,273.5 489.6,273.1 489.1,273.1 488.8,273.0 489.2,271.8 489.1,271.6 489.4,271.6 490.0,270.7Z" fill="#4a86c8"/><path d="M502.9,279.8 501.9,279.8 500.8,279.2 502.1,278.1 502.5,278.2 502.4,278.7Z" fill="#5a94d2"/><path d="M499.7,273.2 500.3,274.9 502.2,276.2 502.2,277.2 503.5,277.7 502.5,278.2 502.1,278.1 500.8,279.2 498.8,279.1 495.8,277.0 494.1,276.0 492.7,275.8 492.3,274.4 494.7,273.3 494.9,271.1 496.3,270.3 498.9,270.2 500.3,271.6Z" fill="#9cc3ea"/><path d="M500.6,292.3 502.5,292.6 503.6,290.8 506.9,290.3 508.1,292.9 507.1,294.1 503.6,295.9 501.4,296.6 499.2,297.2 497.5,297.3 497.2,296.6 496.8,294.8 496.7,293.2 497.2,293.0 497.5,292.1Z" fill="#0e1b36"/><path d="M510.9,287.0 510.4,286.3 511.3,284.6 511.8,283.8 512.6,284.9 514.2,285.3 515.5,286.5 514.4,288.7 513.3,290.3 511.9,291.5 510.4,292.0 508.1,292.9 506.9,290.3 510.2,289.2Z" fill="#5a94d2"/><path d="M511.4,282.6 511.5,283.0 511.3,283.0 511.4,282.7Z" fill="#5a94d2"/><path d="M506.4,283.7 506.3,284.5 506.3,283.7 506.4,283.7ZM511.8,283.8 511.3,284.6 510.4,286.3 507.4,286.0 506.3,284.5 507.4,284.6 509.1,284.7 510.5,283.4 511.2,282.8 511.3,283.0 511.5,283.0Z" fill="#5a94d2"/><path d="M506.4,283.7 506.3,283.7 506.3,284.2 505.6,284.2 505.6,283.9 506.0,282.6Z" fill="#5a94d2"/><path d="M490.9,278.2 491.4,277.6 490.3,276.5 492.7,275.8 494.1,276.0 495.8,277.0 498.8,279.1 500.8,279.2 501.9,279.8 502.9,279.8 504.1,281.3 504.9,281.9 504.9,283.2 505.6,283.9 505.6,284.2 506.3,284.2 506.3,284.5 507.4,286.0 510.4,286.3 510.9,287.0 510.2,289.2 506.9,290.3 503.6,290.8 502.5,292.6 500.6,292.3 497.5,292.1 497.2,293.0 496.7,293.2 495.8,291.8 494.7,290.3 493.1,288.4 492.6,287.6 492.0,285.4 490.6,284.0 489.8,282.6 488.3,280.4 488.1,278.9 489.2,279.1 489.8,278.7Z" fill="#4a84c6"/><path d="M520.7,271.2 522.9,270.0 524.6,270.4 526.8,269.8 528.2,269.0 528.4,269.4 530.7,270.0 532.2,270.2 528.4,271.6 528.0,273.7 527.1,274.4 526.2,274.8 526.0,276.1 523.1,276.9 522.7,278.3 520.2,278.7 518.5,278.8 516.7,278.4 517.7,277.1 516.6,276.5 516.3,273.8 516.8,272.7 517.1,272.0 518.3,272.3 519.1,272.0Z" fill="#8fbbe7"/><path d="M502.5,267.9 503.4,268.9 503.6,269.8 505.0,270.1 506.9,270.8 508.9,270.4 508.9,269.9 509.0,270.1 511.3,269.1 513.5,269.7 515.7,270.9 517.1,270.9 517.1,272.0 516.8,272.7 516.3,273.8 516.6,276.5 517.7,277.1 516.7,278.4 518.5,280.1 519.3,281.3 518.8,282.1 517.5,283.5 514.6,283.3 512.7,282.8 512.2,281.5 509.7,281.9 507.4,280.9 505.8,279.5 504.9,278.2 503.5,277.7 502.2,277.2 502.2,276.2 500.3,274.9 499.7,273.2 500.3,271.6 498.9,270.2 498.4,269.4 498.0,267.8 498.9,267.5 499.2,267.8 500.8,268.3ZM511.4,282.7 511.3,283.0 511.2,282.8 511.4,282.6Z" fill="#5a93d1"/><path d="M518.5,280.1 516.7,278.4 518.5,278.8 520.2,278.7 522.7,278.3 523.1,276.9 526.0,276.1 526.2,274.8 527.1,274.4 528.0,273.7 528.4,271.6 532.2,270.2 535.4,272.1 531.5,274.9 532.6,275.6 531.8,277.1 530.1,278.3 528.9,280.5 527.2,280.4 526.3,281.3 527.7,282.9 527.9,284.4 525.5,284.5 524.8,285.1 523.9,284.7 523.1,283.9 522.9,283.3 520.2,283.4 517.5,283.5 518.8,282.1 519.3,281.3Z" fill="#b5d2f0"/><path d="M512.4,265.7 512.4,264.7 514.1,264.1 515.7,264.7 515.7,265.7 517.8,265.9 518.4,267.1 520.4,268.3 522.9,270.0 520.7,271.2 519.1,272.0 518.3,272.3 517.1,272.0 517.1,270.9 515.7,270.9 513.5,269.7 511.3,269.1 509.0,270.1 508.9,269.9 508.9,268.8 508.0,267.7 508.9,266.2 507.4,265.5 507.8,264.9 507.6,264.8 509.1,264.6 510.8,265.7Z" fill="#e8f1fb"/><path d="M516.8,262.4 517.9,263.3 521.2,263.0 522.4,264.5 522.9,265.8 524.6,266.0 525.7,265.6 527.3,264.8 527.9,264.6 527.0,265.7 530.1,266.2 528.7,266.9 527.5,266.9 527.3,266.0 525.7,266.9 525.1,267.6 524.0,267.9 524.9,269.1 524.4,270.2 522.9,270.0 520.4,268.3 518.4,267.1 517.8,265.9 515.7,265.7 515.7,264.7 514.1,264.1 512.4,264.7 512.4,265.7 511.3,265.7 511.3,261.6 514.2,260.9Z" fill="#e8f1fb"/><path d="M525.1,267.6 525.7,266.9 527.3,266.0 527.5,266.9 526.2,267.6 528.4,267.7 531.0,267.7 530.9,268.8 532.3,269.9 532.2,270.2 530.7,270.0 528.4,269.4 528.2,269.0 526.8,269.8 524.6,270.4 524.4,270.2 524.9,269.1 524.0,267.9Z" fill="#d0e3f6"/><path d="M530.1,266.2 527.0,265.7 527.9,264.6 527.3,264.8 527.9,264.3 530.7,263.8 531.5,263.6 533.1,264.0 537.0,264.0 538.1,264.7 535.6,266.0 534.0,266.7 531.2,267.0 531.0,267.7 528.4,267.7 526.2,267.6 527.5,266.9 528.7,266.9Z" fill="#d0e3f6"/><path d="M500.8,257.7 501.4,256.2 503.0,256.1 503.4,255.4 505.6,254.2 508.5,254.5 510.2,255.3 513.5,255.0 515.2,255.4 517.4,255.2 516.8,253.9 516.8,251.8 521.3,251.2 525.7,250.2 527.9,251.4 530.7,251.7 534.3,251.2 535.5,252.4 537.8,255.2 541.7,255.0 543.9,256.5 545.9,257.0 544.3,257.8 543.9,259.3 541.2,259.2 540.4,260.9 540.6,261.4 538.3,262.0 538.7,263.6 538.2,263.8 538.1,264.7 537.0,264.0 533.1,264.0 531.5,263.6 530.7,263.8 527.9,264.3 527.3,264.8 525.7,265.6 524.6,266.0 522.9,265.8 522.4,264.5 521.2,263.0 517.9,263.3 516.8,262.4 514.2,260.9 511.3,261.6 511.3,265.7 510.8,265.7 509.1,264.6 507.6,264.8 506.3,263.6 505.0,262.4 505.8,262.2 506.1,261.6 508.0,261.3 508.0,259.9 505.8,259.6 504.0,259.9 503.0,258.5 501.4,258.0Z" fill="#fdf3de"/><path d="M542.3,279.4 544.5,280.4 546.8,280.5 546.8,282.2 544.3,281.9 542.3,280.9 540.1,280.5 538.0,279.5 539.2,278.0 540.3,278.1Z" fill="#e3eefa"/><path d="M551.1,281.6 548.7,281.8 547.7,281.2 548.7,280.2 550.7,280.6Z" fill="#e3eefa"/><path d="M546.7,283.7 547.1,282.2 548.7,282.4 548.7,283.4 551.6,283.7 550.2,284.8 550.3,285.7 551.3,285.4 551.8,287.8 551.4,288.4 550.9,286.6 549.5,286.8 547.8,287.1 547.6,287.0 547.6,284.8Z" fill="#fefefe"/><path d="M527.7,282.9 526.3,281.3 527.2,280.4 528.9,280.5 530.1,278.3 531.8,277.1 532.6,275.6 531.5,274.9 535.4,272.1 536.7,273.4 536.5,274.6 537.1,275.4 536.2,275.4 536.5,276.9 539.2,278.0 538.0,279.5 540.1,280.5 542.3,280.9 544.3,281.9 546.8,282.2 546.8,280.5 547.7,280.4 547.7,281.2 548.7,281.8 551.1,281.6 550.7,280.6 553.3,279.1 555.5,278.8 557.0,280.1 556.6,281.3 554.6,282.1 553.9,284.2 552.5,284.8 552.7,286.5 551.8,287.8 551.3,285.4 550.3,285.7 550.2,284.8 551.6,283.7 548.7,283.4 548.7,282.4 547.1,282.2 546.7,283.7 547.6,284.8 547.6,287.0 547.8,287.1 546.7,287.4 545.6,287.6 545.0,289.0 543.4,289.9 541.7,291.5 540.4,293.0 539.0,293.8 538.1,294.3 538.0,296.4 537.7,298.1 537.6,300.0 536.7,301.0 535.9,301.5 535.1,302.4 534.0,301.4 533.2,298.9 532.1,297.0 531.4,294.8 530.7,293.4 529.9,290.3 529.8,288.1 529.6,287.6 529.2,288.1 527.9,288.4 525.9,286.7 527.1,286.0 525.5,285.7 524.8,285.1 525.5,284.5 527.9,284.4Z" fill="#e3eefa"/><path d="M552.5,284.8 553.9,284.2 554.6,282.1 556.6,281.3 557.0,280.1 558.3,280.8 558.5,282.8 557.3,284.4 558.6,284.8 558.9,286.9 561.2,287.5 560.1,288.9 558.7,289.6 557.4,290.9 558.4,293.3 558.0,294.5 559.1,297.0 559.5,298.3 558.4,300.3 558.5,298.3 558.0,296.1 557.4,294.2 557.3,293.1 556.4,292.7 554.9,293.9 553.7,293.7 553.9,291.7 553.1,290.0 552.1,288.9 551.4,288.4 551.8,287.8 552.7,286.5Z" fill="#fefefe"/><path d="M563.6,306.0 563.8,308.0 564.6,309.8 563.8,309.9 562.2,308.8 561.4,308.0 560.5,306.4 560.3,304.7 560.1,304.2 561.1,304.9 562.4,304.5Z" fill="#fbe8c6"/><path d="M558.0,294.5 558.4,293.3 557.4,290.9 558.7,289.6 560.1,288.9 560.5,289.8 561.3,289.8 561.1,291.8 562.3,291.2 564.4,291.1 565.2,292.1 565.3,293.3 566.1,294.1 566.0,295.4 563.3,295.5 562.7,296.3 562.5,297.9 561.1,297.3 561.0,296.4 560.0,296.5 559.7,298.3 559.1,300.0 559.2,301.2 560.2,302.0 560.5,303.4 561.6,303.7 562.4,304.5 561.1,304.9 560.1,304.2 559.4,303.4 558.2,302.5 558.1,301.4 558.4,300.3 559.5,298.3 559.1,297.0Z" fill="#fefefe"/><path d="M566.0,295.4 566.6,295.4 568.2,295.2 568.2,297.5 566.6,298.4 566.4,299.2 564.9,299.9 563.8,299.6 563.3,298.6 562.5,297.9 562.7,296.3 563.3,295.5Z" fill="#fbecd2"/><path d="M561.9,286.6 562.4,286.6 563.3,287.5 564.9,288.7 564.4,289.7 565.7,290.8 567.3,292.6 568.2,294.5 568.2,295.2 566.6,295.4 566.0,295.4 566.1,294.1 565.3,293.3 565.2,292.1 564.4,291.1 562.3,291.2 561.1,291.8 561.3,289.8 560.5,289.8 560.1,288.9 561.2,287.5 561.9,287.9Z" fill="#fefefe"/><path d="M567.4,286.0 567.4,287.1 568.8,287.6 567.4,288.5 566.3,290.3 567.1,292.0 568.2,293.1 569.6,294.2 570.2,296.4 570.1,298.3 568.2,299.7 567.5,299.9 567.1,300.8 565.7,301.7 565.3,300.5 564.9,299.9 566.4,299.2 566.6,298.4 568.2,297.5 568.2,295.2 568.2,294.5 567.3,292.6 565.7,290.8 564.4,289.7 564.9,288.7 563.3,287.5 562.4,286.6 563.3,286.4 565.5,285.6ZM570.8,287.8 571.6,287.9 571.2,288.8Z" fill="#fbe8c6"/><path d="M591.4,268.8 592.5,270.4 592.5,272.1 591.5,272.7 589.3,273.3 589.1,271.6 589.6,270.4 588.7,269.6 589.8,269.0 591.3,268.7Z" fill="#ffffff"/><path d="M591.0,265.6 591.2,264.9 592.9,263.8 593.9,264.6 592.8,266.0 592.6,266.6 590.4,267.7 591.3,268.7 589.8,269.0 588.7,269.6 587.6,269.3 587.9,267.8 586.8,267.1 588.7,266.0 589.7,265.1Z" fill="#ffffff"/><path d="M557.7,255.6 558.1,253.9 562.5,254.5 563.3,255.7 567.7,256.1 572.1,256.7 576.0,255.7 578.4,256.3 577.1,258.4 581.8,259.7 579.2,260.1 577.6,260.8 573.1,261.6 572.9,263.0 571.0,264.1 565.5,265.4 560.0,264.3 556.0,264.1 554.8,262.4 550.0,261.4 549.7,259.6 546.7,257.7 546.5,257.0 551.1,255.3 553.9,256.1Z" fill="#dbe9f8"/><path d="M534.0,266.7 535.6,266.0 538.1,264.7 538.2,263.8 538.7,263.6 538.3,262.0 540.6,261.4 540.4,260.9 541.2,259.2 543.9,259.3 544.3,257.8 545.9,257.0 546.5,257.0 546.7,257.7 549.7,259.6 550.0,261.4 554.8,262.4 556.0,264.1 560.0,264.3 565.5,265.4 571.0,264.1 572.9,263.0 573.1,261.6 577.6,260.8 579.2,260.1 581.8,259.7 577.1,258.4 578.4,256.3 579.6,256.6 581.8,255.7 582.1,253.0 583.2,252.4 586.0,252.2 588.7,253.0 590.4,255.9 593.7,257.3 594.2,258.6 598.3,257.8 596.7,261.6 594.4,261.8 594.4,263.8 593.9,264.6 592.9,263.8 591.2,264.9 591.0,265.6 589.7,265.1 588.7,266.0 586.8,267.1 584.3,268.2 583.4,268.5 584.3,266.5 583.2,266.2 581.0,268.0 579.5,268.5 580.4,269.8 581.2,270.2 582.8,269.6 584.8,270.2 583.2,271.0 581.5,272.4 582.4,273.8 583.2,275.4 584.2,276.5 583.7,277.5 584.3,278.4 583.7,279.8 582.4,281.5 581.5,283.2 580.1,284.3 578.8,285.4 576.5,286.3 575.7,286.7 574.3,287.0 572.7,287.6 571.6,287.9 571.2,288.8 570.7,287.6 569.4,287.4 568.8,287.6 567.4,287.1 567.4,286.0 565.5,285.6 563.3,286.4 562.4,286.6 561.9,286.6 561.9,287.9 561.2,287.5 558.9,286.9 558.6,284.8 557.3,284.4 558.5,282.8 558.3,280.8 557.0,280.1 555.5,278.8 553.3,279.1 550.7,280.6 548.7,280.2 547.7,281.2 547.7,280.4 546.8,280.5 544.5,280.4 542.3,279.4 540.3,278.1 539.2,278.0 536.5,276.9 536.2,275.4 537.1,275.4 536.5,274.6 536.7,273.4 535.4,272.1 532.2,270.2 532.3,269.9 530.9,268.8 531.0,267.7 531.2,267.0ZM571.6,287.9 570.8,287.8 571.2,288.8Z" fill="#fbecd2"/><path d="M480.9,244.5 480.1,244.5 482.0,243.6 484.2,241.8 483.1,240.4 482.2,239.7 482.6,238.7 481.5,237.4 482.6,236.5 480.9,236.0 481.4,235.1 483.1,234.3 485.9,234.6 489.2,234.8 493.6,236.4 494.9,237.6 494.2,238.2 491.4,238.2 488.1,237.7 485.9,237.5 486.4,238.1 487.9,239.5 487.9,240.2 490.9,240.8 491.4,240.0 494.2,239.9 493.6,238.9 495.8,237.9 498.0,238.2 498.4,236.7 497.8,235.6 500.3,236.2 500.8,237.4 502.5,236.6 508.0,235.6 509.7,236.0 513.5,235.2 516.3,234.2 516.3,235.6 520.7,234.7 523.5,235.1 523.5,234.0 524.0,232.5 525.7,230.6 526.8,230.4 529.9,230.9 529.6,232.9 529.9,235.1 530.4,236.9 529.0,237.9 531.4,237.3 532.1,235.3 533.4,232.6 535.6,231.5 538.7,231.4 539.0,230.0 545.6,229.5 545.6,228.2 552.2,227.3 557.7,227.0 564.7,225.4 567.7,226.4 573.2,226.8 574.9,227.7 569.9,229.5 573.8,229.8 575.4,230.0 581.0,230.6 585.9,230.3 589.8,231.2 592.6,232.9 595.3,232.3 598.6,232.2 604.2,231.2 604.2,230.4 609.7,231.4 615.2,232.2 618.6,233.0 625.2,233.1 626.3,234.4 631.8,234.4 635.7,234.0 637.9,234.8 642.9,234.2 648.4,235.1 648.4,239.5 646.2,240.0 645.6,242.3 641.8,243.0 637.9,245.0 632.9,245.0 630.7,245.2 629.6,247.2 628.5,248.9 628.2,250.5 626.3,252.5 624.6,253.0 622.6,255.0 621.9,252.8 621.3,250.0 621.9,247.8 624.1,246.7 626.3,244.5 629.6,243.4 630.7,242.3 626.3,243.4 623.0,243.2 620.2,245.2 617.4,246.1 614.1,245.6 609.7,245.8 606.4,246.1 604.2,247.8 601.4,250.5 599.0,250.9 600.9,251.9 604.7,252.8 605.6,253.9 604.7,256.1 604.5,258.3 602.5,259.9 600.3,261.8 598.6,263.3 596.4,264.1 595.1,263.6 593.9,264.6 594.4,263.8 594.4,261.8 596.7,261.6 598.3,257.8 594.2,258.6 593.7,257.3 590.4,255.9 588.7,253.0 586.0,252.2 583.2,252.4 582.1,253.0 581.8,255.7 579.6,256.6 578.4,256.3 576.0,255.7 572.1,256.7 567.7,256.1 563.3,255.7 562.5,254.5 558.1,253.9 557.7,255.6 553.9,256.1 551.1,255.3 546.5,257.0 545.9,257.0 543.9,256.5 541.7,255.0 537.8,255.2 535.5,252.4 534.3,251.2 530.7,251.7 527.9,251.4 525.7,250.2 521.3,251.2 516.8,251.8 516.8,253.9 517.4,255.2 515.2,255.4 513.5,255.0 510.2,255.3 508.5,254.5 505.6,254.2 503.4,255.4 503.0,256.1 501.4,256.2 500.8,257.7 501.4,258.0 503.0,258.5 504.0,259.9 503.6,259.9 501.4,261.0 501.1,262.2 501.9,263.3 502.2,264.0 503.3,265.1 503.1,265.1 502.2,265.8 500.8,265.0 498.6,264.1 496.4,263.6 493.6,263.4 493.3,263.3 491.4,262.3 490.7,261.7 490.9,261.1 491.1,260.8 491.6,259.9 492.8,259.2 491.7,259.3 493.4,258.3 493.6,256.5 491.4,256.2 488.6,255.6 487.0,253.5 484.2,253.6 485.3,252.4 483.7,251.1 483.6,249.9 480.6,249.2 480.0,247.8 479.8,247.2 480.4,245.6 482.8,245.1ZM489.2,279.1 488.1,278.9 488.1,278.8ZM470.7,265.0 470.6,265.0 469.9,264.5ZM524.4,270.2 524.6,270.4 522.9,270.0ZM489.0,274.5 489.0,275.2 488.8,275.2Z" fill="#f9e1b2"/><path d="M253.7,235.8 258.1,237.3 261.5,238.2 259.2,240.0 255.9,239.7 254.8,238.9 252.1,238.2 250.4,238.9 250.4,235.1Z" fill="#f9e1b2"/><path d="M370.9,371.3 371.5,370.5 373.6,369.5 373.6,372.4 373.1,372.4Z" fill="#5a97d6"/><path d="M375.3,371.1 377.3,371.8 375.9,372.4 373.6,372.4 373.6,369.5 374.0,370.3Z" fill="#fdfdfe"/><path d="M374.2,223.5 377.5,221.6 383.1,220.7 394.1,220.1 405.2,219.1 416.2,219.0 425.1,220.1 427.3,221.2 436.1,221.2 430.6,222.9 428.4,224.6 428.9,226.8 427.3,228.4 427.8,229.5 425.1,230.6 425.1,232.3 422.3,232.9 425.1,233.7 421.2,234.5 420.1,235.5 415.1,236.1 412.4,237.3 409.6,238.5 405.4,238.9 404.6,240.6 402.4,242.8 401.9,244.8 400.2,245.1 398.5,244.2 395.8,243.9 394.1,242.3 392.5,240.4 390.3,238.4 390.3,236.7 393.0,234.8 389.1,234.0 389.1,232.3 387.5,230.6 385.8,228.4 383.1,227.3 376.4,227.3 373.1,226.8 370.9,226.0 374.2,225.6 368.7,224.9Z" fill="#f0c05b"/><path d="M378.6,239.5 377.5,241.1 378.1,241.9 376.4,242.8 373.7,242.3 370.4,241.1 367.0,240.0 363.2,240.0 363.7,238.9 367.6,238.6 368.7,236.7 365.9,235.6 362.6,234.2 358.7,234.0 355.4,234.0 351.0,233.4 350.5,231.8 349.9,230.1 355.4,229.8 359.9,229.9 363.2,230.8 366.5,231.5 370.9,232.9 374.2,234.0 375.3,235.1 378.6,236.7 381.4,237.7Z" fill="#f6d594"/><path d="M327.8,235.5 321.2,235.1 319.5,233.4 322.3,232.3 317.8,232.2 320.1,230.6 325.6,230.6 330.0,230.4 333.3,230.9 333.9,232.9 337.7,234.0 336.6,235.1 333.3,235.1Z" fill="#f6d594"/><path d="M312.3,230.1 311.8,229.3 315.6,229.0 319.5,229.3 321.7,230.3 319.5,230.9 316.2,232.3 313.4,232.6 310.7,231.8Z" fill="#f6d594"/><path d="M354.3,225.7 352.1,224.8 354.9,223.5 353.2,222.4 348.2,221.2 355.4,220.4 366.5,219.6 376.4,219.8 380.9,220.1 378.6,221.2 374.2,222.0 370.4,223.5 365.9,224.0 364.8,225.1 361.5,226.2 361.0,227.0 356.5,226.9 351.0,227.0 349.9,226.8Z" fill="#f6d594"/><path d="M348.8,226.8 352.1,226.8 358.7,227.5 361.5,227.9 361.0,228.8 347.7,228.7Z" fill="#f6d594"/><path d="M343.3,222.7 347.7,222.0 353.2,224.6 344.4,225.1Z" fill="#f6d594"/><path d="M320.1,227.5 322.3,227.1 328.9,226.8 332.2,227.9 328.9,228.9 321.2,228.4Z" fill="#f6d594"/><path d="M336.6,230.6 340.0,229.8 344.4,229.4 348.8,229.8 346.6,231.0 343.3,230.6 342.2,232.3 336.6,231.8Z" fill="#f6d594"/><path d="M353.2,239.5 356.5,238.6 360.4,240.6 358.7,241.9 353.2,241.1Z" fill="#f6d594"/><path d="M316.7,225.7 321.2,225.9 320.1,227.3 314.5,226.8Z" fill="#f6d594"/><path d="M336.6,226.4 342.2,226.8 341.1,228.4 334.4,227.9Z" fill="#f6d594"/><path d="M343.3,227.7 346.0,227.8 346.0,228.7 342.7,228.4Z" fill="#f6d594"/><path d="M335.5,223.7 342.2,224.0 340.0,225.3 333.3,225.1Z" fill="#f6d594"/><path d="M323.9,224.6 327.8,224.3 328.9,225.7 323.4,225.7Z" fill="#f6d594"/><path d="M340.5,234.0 343.3,234.2 343.8,235.5 339.4,235.1Z" fill="#f6d594"/><path d="M358.2,241.6 360.4,241.7 361.0,242.3 357.6,241.9Z" fill="#f6d594"/><path d="M364.8,230.3 364.3,230.8 361.0,230.6 360.4,230.0Z" fill="#f6d594"/><path d="M365.9,236.7 365.4,237.3 363.9,237.1 363.7,236.4Z" fill="#f6d594"/><path d="M385.3,256.6 386.1,255.0 387.8,254.5 388.0,256.6 389.9,257.4 391.1,258.6 390.8,259.8 387.5,259.5 383.8,258.6Z" fill="#f6d594"/><path d="M311.2,256.1 312.9,257.7 311.2,257.5 308.4,256.1 307.6,255.2Z" fill="#f6d594"/><path d="M357.6,285.9 359.9,285.7 362.1,286.5 364.3,287.6 367.4,289.0 363.5,289.5 364.1,288.7 362.6,288.1 360.4,287.0 358.7,286.6 356.5,287.2 355.4,287.1Z" fill="#f3f7fd"/><path d="M365.0,291.2 364.8,291.7 363.2,291.7 362.8,291.0Z" fill="#f3f7fd"/><path d="M376.8,291.0 376.7,291.5 375.1,291.5 375.1,290.9Z" fill="#f3f6fc"/><path d="M427.3,238.3 431.7,237.8 433.3,238.9 433.4,239.9 432.8,240.3 428.9,241.1 426.2,240.8 425.9,239.7 425.9,238.5Z" fill="#ffffff"/><path d="M444.8,254.7 446.1,254.5 443.7,254.0 445.0,253.3 444.4,253.0 444.5,252.4 446.1,252.3 446.1,251.7 445.5,250.7 443.9,250.9 444.1,250.5 443.3,250.1 442.5,248.8 443.3,248.9 443.0,247.8 443.9,246.6 446.0,246.6 445.0,247.7 447.4,247.7 447.2,248.2 446.1,249.4 447.2,249.5 447.6,250.1 448.1,251.0 449.4,252.1 449.7,252.8 451.3,253.2 450.0,254.4 450.9,254.5 450.8,254.9 448.3,255.3 445.5,255.7 443.1,256.0Z" fill="#fbfcfe"/><path d="M467.1,222.9 471.5,222.4 479.2,222.9 472.6,224.2 473.7,225.1 468.2,226.7 464.9,225.7 461.6,223.5Z" fill="#f4c96d"/><path d="M509.1,230.3 511.3,228.4 515.7,227.1 522.4,226.2 525.5,226.6 519.1,227.5 513.5,229.0 510.8,231.2 513.0,233.3 508.0,233.1 506.3,232.3Z" fill="#f4c96d"/><path d="M552.2,222.9 556.6,221.8 564.4,222.9 565.5,224.6 560.0,225.1 554.4,224.0Z" fill="#f4c96d"/><path d="M603.1,227.2 610.8,227.3 615.2,228.2 608.6,228.4 600.9,228.1Z" fill="#f4c96d"/><path d="M504.7,221.8 513.5,221.0 517.9,222.0 510.2,222.9 501.4,222.4Z" fill="#f4c96d"/><path d="M646.7,232.9 647.3,232.3 648.4,232.3 648.4,233.0Z" fill="#f4c96d"/><path d="M607.5,252.4 607.8,254.4 608.0,256.8 609.4,257.4 607.5,259.4 608.0,260.3 606.4,260.5 606.4,258.3 606.6,256.1 606.2,253.9 606.2,252.3 606.4,251.3Z" fill="#f9e1b2"/><path d="M604.0,264.7 604.6,263.6 605.9,263.3 606.1,261.2 607.5,262.4 609.7,262.7 610.3,263.6 607.7,264.9 605.5,265.1 604.2,265.5Z" fill="#ffffff"/><path d="M594.2,273.2 596.4,272.0 599.8,271.8 600.8,269.9 600.9,270.2 602.5,270.0 604.1,267.7 604.4,266.0 605.8,265.6 606.4,267.7 605.3,269.3 605.2,271.9 604.2,272.7 602.7,273.0 600.6,273.4 598.9,274.2 598.6,273.1 595.9,273.5 594.1,273.8Z" fill="#ffffff"/><path d="M595.1,274.5 594.8,276.5 593.8,276.9 593.3,275.8 592.8,274.9 593.5,274.2 594.1,273.9Z" fill="#ffffff"/><path d="M597.9,273.4 598.3,274.0 597.5,274.5 596.4,275.1 595.7,274.5 595.9,274.0Z" fill="#ffffff"/><path d="M584.3,283.9 583.2,286.8 582.3,286.1 582.6,284.5 583.7,283.4Z" fill="#fbecd2"/><path d="M571.0,289.1 572.1,289.7 571.5,290.9 570.2,291.2 569.6,290.0Z" fill="#fbecd2"/><path d="M584.5,290.9 584.3,293.1 583.7,294.8 584.8,295.9 586.5,296.4 586.5,297.4 585.4,296.8 583.7,296.2 582.7,295.7 582.3,293.7 582.5,292.0 582.7,290.9Z" fill="#fbe8c8"/><path d="M585.9,301.8 588.1,300.5 589.3,302.5 588.9,304.4 588.0,305.0 586.5,304.2 585.9,303.1 584.3,303.6Z" fill="#fbe8c8"/><path d="M588.4,299.2 587.6,300.1 586.8,299.2 586.8,297.5Z" fill="#fbe8c8"/><path d="M585.6,298.6 585.7,301.2 584.8,300.5 584.3,299.7 584.3,298.3Z" fill="#fbe8c8"/><path d="M581.5,298.9 581.3,300.1 579.6,301.8 579.0,302.1Z" fill="#fbe8c8"/><path d="M557.2,305.6 558.3,307.1 560.0,308.5 561.1,309.1 563.3,310.8 564.2,311.7 564.9,313.0 566.6,314.7 566.4,317.8 564.9,317.8 563.3,316.3 561.6,314.4 560.3,312.3 558.9,310.2 557.7,308.6 556.1,307.1 554.8,305.2Z" fill="#fbe5bf"/><path d="M566.6,317.9 569.4,318.5 571.6,318.5 572.1,318.4 574.0,319.1 576.0,320.0 576.0,321.0 573.2,320.5 569.9,320.0 567.1,319.5 565.7,318.9Z" fill="#fbe5bf"/><path d="M578.4,320.5 581.0,320.5 583.2,320.6 585.4,320.5 585.2,321.0 582.1,321.1 578.8,321.3 576.8,321.1 576.5,320.5Z" fill="#fbe5bf"/><path d="M583.0,322.4 582.1,322.7 581.0,321.9Z" fill="#fbe5bf"/><path d="M581.6,315.2 580.7,314.3 581.8,311.4 583.0,309.9 585.9,310.2 587.8,309.6 587.0,310.9 583.2,310.8 582.1,312.2 583.2,312.9 585.7,312.3 584.3,313.6 584.6,315.2 585.4,316.3 584.3,316.8 583.7,315.2 583.2,314.3 582.5,315.2 582.5,317.4 581.5,317.4Z" fill="#fbe5bf"/><path d="M591.7,310.2 590.9,312.1 590.5,310.8 590.4,309.4Z" fill="#fbe5bf"/><path d="M594.0,315.0 592.0,315.2 590.9,314.8Z" fill="#fbe5bf"/><path d="M590.0,315.0 589.4,315.6 588.7,314.9Z" fill="#fbe5bf"/><path d="M615.2,316.9 617.4,316.0 617.8,316.9 615.8,318.2 613.6,317.8 613.6,317.4Z" fill="#fbe9ca"/><path d="M618.3,315.8 618.6,316.4 617.8,316.0 616.1,314.2Z" fill="#fbe9ca"/><path d="M621.8,318.8 621.0,318.6 620.3,317.3Z" fill="#fbe9ca"/><path d="M625.7,320.5 624.6,320.2 623.0,319.4Z" fill="#fbe9ca"/><path d="M627.4,322.2 626.6,322.2 626.1,321.6Z" fill="#fbe9ca"/><path d="M634.2,328.5 633.8,328.7 633.6,327.9Z" fill="#f3f7fd"/><path d="M632.4,334.6 634.0,336.0 632.9,335.7 631.0,334.3 630.7,333.7Z" fill="#f3f7fd"/><path d="M646.9,330.8 646.4,331.5 645.4,331.4 645.4,330.7Z" fill="#f3f7fd"/><path d="M278.3,289.8 277.3,290.5 276.9,289.7 276.9,289.0Z" fill="#f3f6fc"/><path d="M575.7,335.5 578.2,334.2 581.0,333.5 583.7,332.4 584.6,330.5 585.9,330.5 587.0,329.0 588.7,326.8 590.9,327.7 592.6,327.8 593.1,325.9 594.0,325.1 595.9,324.7 596.0,324.0 598.6,324.8 600.6,324.8 599.6,326.5 599.2,327.9 600.9,329.0 603.4,330.7 605.1,330.7 605.8,328.5 606.1,325.2 606.9,323.2 608.0,325.2 608.4,327.2 610.0,327.9 610.8,330.7 611.1,332.2 613.6,333.7 614.7,335.7 616.1,337.0 618.2,339.0 618.8,341.0 619.2,342.9 618.6,345.6 617.8,347.5 616.6,348.9 615.5,351.2 615.1,352.8 613.0,353.3 611.1,354.6 609.4,353.7 608.0,354.2 605.3,353.5 604.0,352.0 603.1,350.8 602.2,350.7 602.5,349.8 602.0,348.4 601.4,350.0 599.8,349.8 599.2,349.7 597.8,347.8 597.5,347.3 594.2,346.2 591.5,346.7 588.7,347.1 586.5,347.8 584.3,348.8 582.1,348.9 579.9,350.0 577.6,349.9 576.6,349.3 577.3,346.7 576.5,344.5 575.7,342.3 574.9,340.1 574.9,338.4 575.1,336.2Z" fill="#d9e8f7"/><path d="M611.4,356.8 613.4,356.6 613.2,358.0 612.5,359.2 610.8,359.6 609.9,358.1 609.4,356.5Z" fill="#d9e8f7"/><path d="M642.1,350.4 642.9,351.7 644.0,352.9 646.5,352.9 646.2,354.5 645.1,354.9 644.2,356.7 643.2,357.3 642.5,357.0 642.9,355.6 641.5,354.8 642.4,353.7 642.4,352.3 640.7,350.3 640.4,349.4Z" fill="#6ea4dc"/><path d="M642.0,356.9 641.8,357.8 640.4,359.4 638.8,360.3 638.2,362.0 636.8,362.9 634.6,362.4 633.5,362.0 635.1,360.2 637.3,359.1 638.8,357.8 639.6,356.5 640.3,356.1Z" fill="#6ea4dc"/><path d="M505.1,328.3 504.5,330.1 503.6,332.4 502.2,336.8 501.4,339.0 499.4,339.5 497.8,337.9 497.3,335.7 498.4,333.5 498.0,330.7 499.2,329.0 500.8,328.5 502.5,326.3 503.9,324.6Z" fill="#a9cbed"/><path d="M539.3,302.0 539.9,303.6 539.0,304.6 538.0,304.7 537.5,302.5 537.8,300.5Z" fill="#cfe2f6"/><path d="M466.6,269.1 466.2,270.8 463.3,269.9 463.2,269.3Z" fill="#d5e5f7"/><path d="M460.1,266.0 460.0,268.0 458.8,268.2 458.5,266.1Z" fill="#d5e5f7"/><path d="M459.9,264.0 459.8,265.5 459.1,265.4 459.0,264.4Z" fill="#cde0f5"/><path d="M478.5,272.4 476.5,272.7 475.5,272.1Z" fill="#6ea4dc"/><path d="M487.5,272.0 486.4,273.0 485.1,272.7Z" fill="#4f8bcc"/><path d="M385.3,368.2 384.7,369.1 382.5,369.1 382.0,368.3Z" fill="#fdfdfe"/><path d="M463.2,249.4 463.1,250.3 461.8,250.4 461.6,249.8Z" fill="#f6f9fd"/><path d="M281.0,247.4 279.7,248.4 278.6,247.8Z" fill="#fce9c6"/><path d="M382.0,299.4 382.0,300.2 381.1,300.2 381.0,299.5Z" fill="#f3f7fd"/><path d="M509.7,297.5 508.9,297.8 508.4,297.4Z" fill="#0e1b36"/><path d="M493.1,318.2 492.8,318.4 492.7,317.8Z" fill="#c5dcf4"/><path d="M527.1,365.7 526.2,366.3 525.5,365.5Z" fill="#ffffff"/><path d="M409.6,371.6 409.4,372.0 407.4,371.1Z" fill="#fdfdfe"/><path d="M597.5,312.2 598.6,315.0 600.9,313.2 602.5,313.3 605.3,314.2 605.3,321.4 603.1,320.2 602.0,320.6 601.7,319.4 602.9,318.9 602.0,317.4 599.2,316.2 597.0,315.6 596.2,315.8 595.3,314.6 597.0,314.1 595.3,313.6 594.2,312.2 595.9,311.8Z" fill="#fbe5bf"/><path d="M609.2,315.6 610.6,316.9 612.5,318.0 611.9,318.9 613.2,320.2 615.2,322.4 616.1,322.7 614.1,322.7 612.5,322.4 610.8,320.4 609.2,319.8 608.0,320.7 607.5,321.5 605.3,321.4 605.3,314.2 607.5,315.1Z" fill="#fbe9ca"/><path d="M574.3,307.8 576.0,306.4 577.6,304.7 578.8,303.6 579.5,304.3 581.2,305.5 579.9,306.6 579.8,306.7 579.3,306.7 577.4,306.6 577.1,307.5 576.8,308.5 576.3,309.6 575.0,309.9 573.4,309.8 572.1,310.2 570.7,309.7 570.6,309.1 572.4,308.6Z" fill="#fbe8c6"/><path d="M570.6,309.1 570.7,309.7 572.1,310.2 573.4,309.8 575.0,309.9 576.3,309.6 576.8,308.5 577.1,307.5 577.4,306.6 579.3,306.7 579.8,306.7 579.6,307.7 579.9,308.9 581.0,310.2 579.6,310.5 579.3,311.9 578.2,313.0 578.0,314.7 577.4,315.4 576.1,315.9 574.3,314.9 572.9,314.7 571.2,314.4 571.0,313.0 569.9,311.7 569.9,309.7 570.6,309.1Z" fill="#fbe5bf"/><path d="M589.3,321.3 587.6,322.3 587.6,321.3 590.0,320.5Z" fill="#fbe5bf"/><path d="M587.6,321.3 587.6,322.3 587.0,322.6 585.9,322.7 587.0,321.5Z" fill="#fbe5bf"/><path d="M370.0,289.3 370.0,291.6 369.2,291.2 367.1,291.0 368.4,289.3Z" fill="#f3f7fd"/><path d="M372.1,289.6 373.8,290.8 372.0,291.1 370.4,291.8 370.0,291.6 370.0,289.3 370.1,289.3Z" fill="#f3f7fd"/><path d="M443.3,251.2 443.1,251.6 440.3,251.4 441.1,251.0 441.3,250.2 442.8,250.3Z" fill="#fbfcfe"/><path d="M442.4,253.6 440.3,254.1 438.3,254.3 438.0,253.8 438.9,253.2 438.6,252.4 438.3,251.4 440.0,251.0 441.1,250.2 441.3,250.2 441.1,251.0 440.3,251.4 443.1,251.6 442.8,252.4Z" fill="#fbfcfe"/><path d="M277.0,401.1 274.7,397.8 280.0,396.7 293.0,394.6 309.0,393.2 322.0,392.6 335.0,392.2 345.0,392.2 355.0,392.5 362.0,393.4 366.0,393.8 367.5,389.2 371.0,386.6 375.5,385.0 381.0,382.7 384.9,380.4 388.4,379.3 387.5,381.7 384.9,384.6 382.7,388.2 383.5,391.2 382.0,394.6 378.0,396.7 370.0,396.1 362.0,395.5 359.5,397.1 365.0,399.7 375.0,401.7 390.0,402.7 400.0,401.7 405.0,399.7 409.0,397.8 417.0,395.7 425.0,393.8 433.0,392.2 441.0,390.6 450.0,389.4 466.0,389.1 487.0,388.2 496.6,386.2 503.0,385.0 509.4,384.1 517.4,386.2 525.5,387.0 527.9,389.4 531.0,388.4 536.7,387.0 549.6,385.3 559.6,384.1 570.0,384.4 582.0,384.6 598.0,384.6 611.0,386.6 622.0,388.2 632.0,389.4 638.0,391.5 633.5,393.8 630.3,395.5 635.0,397.8 629.5,398.7 627.0,400.8 636.7,403.0 648.4,405.0 648.4,405.4 280.7,405.4Z" fill="#eaa820"/><path d="M503.6,259.9 505.8,259.6 508.0,259.9 508.0,261.3 506.1,261.6 505.8,262.2 505.0,262.4 506.3,263.6 507.8,264.9 507.4,265.5 508.9,266.2 508.0,267.7 508.9,268.8 508.9,270.4 506.9,270.8 505.0,270.1 503.6,269.8 503.4,268.5 503.9,266.9 505.0,266.7 503.6,265.5 502.2,264.0 501.9,263.3 501.1,262.2 501.4,261.0Z" fill="#f5d692"/><path d="M265.3,235.8 269.2,235.1 276.4,232.5 283.6,233.4 293.5,234.4 300.1,235.1 307.9,234.0 311.2,234.5 316.7,234.5 322.3,236.2 327.8,236.4 330.0,235.6 336.6,236.4 341.1,236.2 343.8,235.1 345.5,232.3 347.7,234.5 349.9,235.6 353.2,236.7 355.4,235.1 358.7,234.5 359.3,237.3 354.3,238.4 353.2,240.0 349.9,240.6 346.6,242.8 344.9,245.0 344.9,246.3 347.1,248.3 352.1,248.9 355.4,250.2 358.4,250.5 358.5,252.8 360.4,254.4 362.1,254.4 362.1,251.7 364.3,249.4 364.8,247.2 363.2,245.0 363.2,242.4 367.6,242.5 372.0,243.9 372.6,246.1 375.3,246.9 377.5,244.7 380.9,247.8 383.1,250.0 386.4,252.2 387.5,253.9 384.7,254.6 383.1,255.9 378.6,255.7 375.9,255.9 373.1,257.7 370.9,259.6 375.3,257.2 378.1,257.2 378.1,258.3 376.4,258.3 377.5,259.4 378.1,260.3 381.4,260.7 383.1,259.9 382.0,261.3 378.6,262.2 376.4,263.3 376.4,262.2 378.1,261.0 375.3,261.6 373.1,262.7 371.5,263.6 371.2,264.9 372.0,265.2 369.8,265.8 367.6,266.5 367.4,267.7 365.9,268.8 365.4,270.4 365.7,272.1 363.7,273.5 361.5,274.9 359.9,276.2 359.5,278.2 360.6,281.5 360.7,283.4 359.6,283.5 358.0,280.6 357.9,279.1 356.5,278.2 354.9,278.4 352.7,277.9 350.5,278.0 350.7,279.2 348.8,279.0 346.0,278.4 344.4,279.1 342.2,280.4 341.8,282.6 341.3,284.8 341.3,286.7 342.2,288.7 343.3,290.3 344.9,291.2 347.7,290.8 349.1,289.8 349.6,288.1 352.1,287.5 353.4,287.8 352.7,289.8 352.1,291.5 351.6,293.3 351.2,293.9 354.3,293.8 356.5,293.9 357.4,294.8 357.1,297.0 356.9,299.2 357.9,300.7 359.3,301.4 361.0,301.1 362.1,300.8 363.8,301.7 363.3,303.4 362.6,302.0 361.3,301.5 360.6,302.3 360.6,303.2 359.3,302.9 357.6,302.3 356.9,301.8 355.4,300.3 354.5,299.3 353.5,297.9 352.7,297.0 351.6,296.8 349.9,296.2 348.2,295.9 347.4,295.2 345.5,293.6 344.0,293.7 342.5,294.0 340.0,293.0 337.2,292.0 334.6,290.8 332.8,289.2 333.0,287.6 331.7,285.6 329.4,283.4 328.3,281.7 326.7,280.4 325.0,278.7 324.3,276.9 322.5,276.2 322.8,277.9 324.5,280.1 326.1,282.6 327.2,284.5 328.3,285.8 327.5,285.4 325.4,283.2 322.8,280.9 323.1,279.8 321.4,278.2 319.9,275.4 318.4,273.8 316.1,273.1 314.5,270.9 314.0,269.6 312.3,267.1 312.0,264.4 312.3,260.5 311.5,257.8 313.4,258.8 314.0,257.2 311.8,256.1 309.0,255.0 307.9,253.3 305.7,251.1 304.0,249.4 301.8,247.2 299.6,246.1 296.8,245.6 294.6,245.2 290.8,245.0 287.4,244.1 284.7,244.5 281.9,245.8 282.5,243.9 279.7,246.1 277.5,247.8 274.7,248.9 271.4,250.3 268.1,251.0 270.3,249.7 273.6,247.8 275.3,246.3 272.5,246.3 270.3,245.6 267.5,244.5 266.4,242.8 268.1,241.5 271.4,240.8 271.4,239.9 267.5,240.0 265.3,239.5 263.7,238.8ZM364.5,302.5 365.4,301.0 365.9,299.6 366.7,299.1 368.7,298.6 370.4,297.6 370.1,299.2 370.9,299.2 372.0,298.0 373.7,299.2 376.4,299.6 378.6,300.0 380.9,299.5 382.0,300.8 383.1,302.0 384.7,303.6 386.4,304.7 388.6,304.7 390.3,305.2 392.2,306.7 393.6,309.1 394.1,310.8 393.6,311.6 395.8,312.2 397.4,312.1 400.2,313.6 403.0,314.4 405.2,314.4 407.4,315.8 409.0,316.9 410.5,317.4 410.9,319.6 410.2,321.9 408.5,324.1 406.8,325.7 406.3,327.9 406.3,330.7 405.4,332.9 404.1,335.7 403.0,336.8 400.2,337.0 398.0,337.9 395.8,339.9 395.7,342.3 394.1,344.0 391.9,346.7 390.4,348.6 389.1,349.8 386.9,349.8 384.8,348.9 386.2,351.2 385.8,353.4 383.1,354.4 380.9,354.5 380.5,356.7 377.5,356.7 378.6,358.3 377.2,360.5 374.8,362.2 376.7,363.5 374.8,365.9 373.1,367.7 373.8,369.2 372.6,369.2 370.9,370.5 369.2,369.9 367.6,368.8 366.2,366.6 367.0,364.4 365.9,363.0 368.1,361.1 368.7,357.8 367.8,355.6 368.1,352.5 369.2,350.6 370.4,347.8 370.4,344.5 370.9,341.8 371.5,339.0 371.8,335.7 371.7,331.7 370.4,330.5 367.6,329.0 365.2,326.8 364.1,324.6 362.6,321.9 361.2,319.1 359.6,318.0 359.5,316.3 360.6,315.1 361.0,314.1 360.0,313.8 360.4,311.9 361.0,310.5 362.3,309.8 362.6,308.6 363.9,307.1 363.7,305.3 363.3,303.4 363.8,301.7ZM443.5,271.7 446.1,272.3 447.2,272.5 449.4,271.8 451.1,271.0 452.7,270.7 454.9,270.7 457.7,270.4 460.2,270.1 461.6,270.4 461.0,271.6 461.6,272.7 460.5,273.5 461.3,274.1 462.1,274.6 463.8,275.0 466.3,275.6 466.5,276.5 468.7,277.2 470.4,277.9 471.5,277.1 471.5,275.6 473.2,275.0 474.8,275.3 477.0,276.2 479.2,276.7 481.5,277.2 482.6,276.7 483.7,276.4 485.1,276.7 487.2,276.7 488.0,278.7 487.4,280.4 487.2,280.7 486.4,280.1 485.4,278.3 485.4,279.3 486.4,280.6 487.0,282.1 488.1,283.9 488.9,285.4 490.2,287.0 490.5,288.1 490.7,290.6 492.0,291.5 493.1,294.2 494.7,295.3 496.4,297.0 497.3,297.5 497.3,298.6 498.0,299.7 499.7,299.5 501.4,299.0 503.6,298.9 506.0,298.2 505.9,299.7 505.6,300.8 504.5,302.5 503.6,304.2 502.5,306.0 500.8,308.0 499.2,309.1 497.5,310.6 495.8,312.2 495.3,313.2 494.2,314.2 493.6,315.6 493.1,316.5 492.4,318.0 493.0,319.1 493.0,320.7 493.4,322.4 494.1,323.0 494.3,325.2 494.4,327.6 493.6,329.4 492.0,330.5 490.2,331.2 488.6,333.2 487.9,333.5 488.4,335.7 488.6,337.9 486.4,339.2 485.8,340.1 485.8,341.1 485.3,342.9 484.0,344.3 482.6,346.0 480.7,347.6 479.2,348.6 477.8,348.9 475.4,348.9 473.7,349.2 471.5,349.8 469.9,349.3 469.6,347.5 469.5,346.4 468.5,345.1 467.6,343.0 466.3,341.2 466.0,339.0 465.4,336.6 464.3,334.6 463.2,332.1 462.4,330.5 462.4,329.0 463.2,326.3 464.7,324.6 464.7,323.0 463.8,321.3 464.1,320.5 463.0,318.1 462.7,316.9 461.8,315.8 460.2,314.1 459.4,312.5 459.7,310.8 460.2,310.1 460.2,308.7 460.1,307.5 459.2,306.4 458.6,306.4 457.1,306.5 456.0,306.6 455.3,305.3 454.4,304.4 452.4,304.3 451.2,304.5 450.7,304.6 449.4,305.0 447.2,306.0 446.0,305.7 443.9,305.6 441.1,306.5 439.5,305.8 436.7,303.7 434.8,302.0 434.7,301.3 433.4,299.7 432.8,299.2 430.9,297.8 430.8,296.4 430.1,295.1 431.2,293.7 431.7,291.5 431.4,289.8 430.6,288.1 431.7,285.4 433.0,283.2 434.8,280.7 436.7,279.8 438.3,278.7 438.7,277.4 439.1,275.4 441.1,274.1 442.2,273.2 442.9,271.8ZM438.9,268.6 439.7,266.0 439.1,263.8 440.6,263.0 443.3,263.3 445.5,263.4 447.4,263.4 448.1,262.0 448.1,260.5 447.0,259.4 444.4,258.5 444.1,257.8 446.1,257.4 447.6,257.6 447.4,256.4 448.3,256.7 449.6,256.6 451.1,256.0 451.2,255.1 452.9,254.6 453.8,253.9 454.6,252.8 456.0,252.3 457.1,252.1 458.5,252.1 459.1,251.7 458.9,250.5 458.4,249.4 458.5,248.3 459.9,248.1 461.1,247.6 460.8,248.9 461.3,249.2 460.5,250.0 460.1,250.5 460.5,251.1 461.6,251.7 462.7,251.4 464.3,251.2 465.1,251.8 467.1,251.3 469.6,250.8 470.2,251.2 471.3,251.2 471.5,250.7 472.6,250.2 472.6,248.9 473.2,247.8 474.3,247.6 475.0,248.3 476.2,248.2 476.4,246.9 475.4,246.5 475.4,245.9 477.0,245.6 480.4,245.6 482.8,245.1 480.9,244.5 478.1,244.6 474.8,245.1 473.2,244.5 472.9,243.4 472.9,242.3 474.3,241.1 476.5,239.8 477.5,239.4 476.2,238.6 474.1,238.7 472.9,240.0 471.0,241.4 468.7,242.5 468.4,243.9 468.5,244.5 470.2,245.0 469.5,245.8 467.9,246.7 467.6,248.3 467.1,249.2 465.4,249.4 465.1,250.1 463.8,250.1 463.4,249.4 463.0,248.6 462.4,247.6 461.8,246.1 461.1,245.6 459.9,246.3 458.2,247.1 456.9,247.2 455.6,246.3 454.9,245.0 454.9,243.7 455.0,242.8 456.6,241.9 458.8,241.1 460.5,240.6 462.1,239.5 463.2,238.4 464.3,237.1 466.0,236.0 467.6,235.3 469.9,234.3 472.6,233.9 475.4,233.2 477.9,232.7 480.4,232.9 483.7,233.6 482.6,234.3 485.9,234.6 489.2,234.8 493.6,236.4 494.9,237.6 494.2,238.2 491.4,238.2 488.1,237.7 485.9,237.5 486.4,238.1 487.9,239.5 487.9,240.2 490.9,240.8 491.4,240.0 494.2,239.9 493.6,238.9 495.8,237.9 498.0,238.2 498.4,236.7 497.8,235.6 500.3,236.2 500.8,237.4 502.5,236.6 508.0,235.6 509.7,236.0 513.5,235.2 516.3,234.2 516.3,235.6 520.7,234.7 523.5,235.1 523.5,234.0 524.0,232.5 525.7,230.6 526.8,230.4 529.9,230.9 529.6,232.9 529.9,235.1 530.4,236.9 529.0,237.9 531.4,237.3 532.1,235.3 533.4,232.6 535.6,231.5 538.7,231.4 539.0,230.0 545.6,229.5 545.6,228.2 552.2,227.3 557.7,227.0 564.7,225.4 567.7,226.4 573.2,226.8 574.9,227.7 569.9,229.5 573.8,229.8 575.4,230.0 581.0,230.6 585.9,230.3 589.8,231.2 592.6,232.9 595.3,232.3 598.6,232.2 604.2,231.2 604.2,230.4 609.7,231.4 615.2,232.2 618.6,233.0 625.2,233.1 626.3,234.4 631.8,234.4 635.7,234.0 637.9,234.8 642.9,234.2 648.4,235.1 648.4,239.5 646.2,240.0 645.6,242.3 641.8,243.0 637.9,245.0 632.9,245.0 630.7,245.2 629.6,247.2 628.5,248.9 628.2,250.5 626.3,252.5 624.6,253.0 622.6,255.0 621.9,252.8 621.3,250.0 621.9,247.8 624.1,246.7 626.3,244.5 629.6,243.4 630.7,242.3 626.3,243.4 623.0,243.2 620.2,245.2 617.4,246.1 614.1,245.6 609.7,245.8 606.4,246.1 604.2,247.8 601.4,250.5 599.0,250.9 600.9,251.9 604.7,252.8 605.6,253.9 604.7,256.1 604.5,258.3 602.5,259.9 600.3,261.8 598.6,263.3 596.4,264.1 595.1,263.6 593.9,264.6 592.8,266.0 592.6,266.6 590.4,267.7 591.4,268.8 592.5,270.4 592.5,272.1 591.5,272.7 589.3,273.3 589.1,271.6 589.6,270.4 588.7,269.6 587.6,269.3 587.9,267.8 586.8,267.1 584.3,268.2 583.4,268.5 584.3,266.5 583.2,266.2 581.0,268.0 579.5,268.5 580.4,269.8 581.2,270.2 582.8,269.6 584.8,270.2 583.2,271.0 581.5,272.4 582.4,273.8 583.2,275.4 584.2,276.5 583.7,277.5 584.3,278.4 583.7,279.8 582.4,281.5 581.5,283.2 580.1,284.3 578.8,285.4 576.5,286.3 575.7,286.7 574.3,287.0 572.7,287.6 571.6,287.9 571.2,288.8 570.7,287.6 569.4,287.4 568.8,287.6 567.4,288.5 566.3,290.3 567.1,292.0 568.2,293.1 569.6,294.2 570.2,296.4 570.1,298.3 568.2,299.7 567.5,299.9 567.1,300.8 565.7,301.7 565.3,300.5 564.9,299.9 563.8,299.6 563.3,298.6 562.5,297.9 561.1,297.3 561.0,296.4 560.0,296.5 559.7,298.3 559.1,300.0 559.2,301.2 560.2,302.0 560.5,303.4 561.6,303.7 562.4,304.5 563.6,306.0 563.8,308.0 564.6,309.8 563.8,309.9 562.2,308.8 561.4,308.0 560.5,306.4 560.3,304.7 560.1,304.2 559.4,303.4 558.2,302.5 558.1,301.4 558.4,300.3 558.5,298.3 558.0,296.1 557.4,294.2 557.3,293.1 556.4,292.7 554.9,293.9 553.7,293.7 553.9,291.7 553.1,290.0 552.1,288.9 551.4,288.4 550.9,286.6 549.5,286.8 547.8,287.1 546.7,287.4 545.6,287.6 545.0,289.0 543.4,289.9 541.7,291.5 540.4,293.0 539.0,293.8 538.1,294.3 538.0,296.4 537.7,298.1 537.6,300.0 536.7,301.0 535.9,301.5 535.1,302.4 534.0,301.4 533.2,298.9 532.1,297.0 531.4,294.8 530.7,293.4 529.9,290.3 529.8,288.1 529.6,287.6 529.2,288.1 527.9,288.4 525.9,286.7 527.1,286.0 525.5,285.7 524.8,285.1 523.9,284.7 523.1,283.9 522.9,283.3 520.2,283.4 517.5,283.5 514.6,283.3 512.7,282.8 512.2,281.5 509.7,281.9 507.4,280.9 505.8,279.5 504.9,278.2 503.5,277.7 502.5,278.2 502.4,278.7 502.9,279.8 504.1,281.3 504.9,281.9 504.9,283.2 505.6,283.9 506.0,282.6 506.4,283.7 506.3,284.5 507.4,284.6 509.1,284.7 510.5,283.4 511.4,282.6 511.8,283.8 512.6,284.9 514.2,285.3 515.5,286.5 514.4,288.7 513.3,290.3 511.9,291.5 510.4,292.0 508.1,292.9 507.1,294.1 503.6,295.9 501.4,296.6 499.2,297.2 497.5,297.3 497.2,296.6 496.8,294.8 496.7,293.2 495.8,291.8 494.7,290.3 493.1,288.4 492.6,287.6 492.0,285.4 490.6,284.0 489.8,282.6 488.3,280.4 488.1,278.7 487.2,276.7 487.8,276.0 488.1,274.9 488.8,273.2 489.2,271.8 489.0,271.2 489.4,270.9 488.6,270.9 487.0,271.2 485.3,271.4 483.2,270.7 482.0,271.3 480.4,270.8 479.6,270.4 479.2,269.3 478.5,268.8 479.0,267.9 478.4,267.6 478.4,267.1 478.7,266.8 481.5,266.1 481.7,265.8 484.0,265.9 486.2,264.9 488.1,264.9 489.8,265.7 491.4,266.0 493.6,266.0 495.3,265.5 495.4,264.7 494.7,263.8 493.3,263.3 491.4,262.3 490.6,261.6 491.1,260.8 491.6,259.9 492.8,259.2 491.4,259.3 489.8,259.7 488.1,260.3 488.6,261.3 489.8,261.4 488.4,261.6 487.0,262.3 486.4,262.0 485.3,261.2 486.5,260.5 484.8,260.2 484.2,259.7 483.3,259.9 482.2,261.3 481.1,262.5 480.6,263.4 480.0,264.1 480.4,264.9 480.6,265.4 481.4,265.7 481.1,266.0 479.8,266.1 478.9,266.6 478.4,266.9 478.3,266.5 478.1,266.2 477.0,266.1 475.9,266.4 476.3,267.0 475.2,266.8 474.6,266.7 474.4,267.7 475.0,268.1 474.8,268.5 475.9,269.2 475.9,269.7 474.8,269.4 474.9,270.0 474.8,271.0 474.2,271.0 473.4,270.7 472.8,269.6 472.9,269.0 472.3,268.3 471.7,267.6 470.8,266.8 470.8,265.5 470.6,265.0 469.9,264.5 468.2,263.6 467.0,263.1 466.0,262.4 465.4,261.4 464.4,261.6 464.5,260.8 463.1,261.2 463.0,262.2 464.3,263.1 465.1,264.4 466.9,265.0 467.1,265.5 468.2,266.0 469.9,267.0 469.4,267.2 468.2,266.6 467.8,267.3 468.3,268.2 467.6,268.6 467.2,269.3 466.8,269.3 467.0,268.6 467.1,267.7 466.5,267.0 465.4,266.5 464.9,266.0 463.8,265.7 462.9,265.1 461.6,264.5 461.0,263.8 460.7,262.8 459.9,262.5 459.1,262.3 458.2,262.8 457.7,262.9 456.6,263.7 455.3,263.5 453.8,263.3 452.8,263.8 452.9,264.5 452.9,265.0 451.8,265.6 450.3,266.2 449.1,267.7 449.6,268.5 448.7,269.3 448.5,269.8 447.4,270.4 446.9,270.7 444.5,270.8 443.4,271.4 442.5,271.0 442.3,270.4 441.2,270.2 439.7,270.4 439.5,270.4ZM253.7,235.8 258.1,237.3 261.5,238.2 259.2,240.0 255.9,239.7 254.8,238.9 252.1,238.2 250.4,238.9 250.4,235.1ZM374.0,370.3 375.3,371.1 377.3,371.8 375.9,372.4 373.1,372.4 370.9,371.3 371.5,370.5 373.6,369.5ZM368.7,224.9 374.2,223.5 377.5,221.6 383.1,220.7 394.1,220.1 405.2,219.1 416.2,219.0 425.1,220.1 427.3,221.2 436.1,221.2 430.6,222.9 428.4,224.6 428.9,226.8 427.3,228.4 427.8,229.5 425.1,230.6 425.1,232.3 422.3,232.9 425.1,233.7 421.2,234.5 420.1,235.5 415.1,236.1 412.4,237.3 409.6,238.5 405.4,238.9 404.6,240.6 402.4,242.8 401.9,244.8 400.2,245.1 398.5,244.2 395.8,243.9 394.1,242.3 392.5,240.4 390.3,238.4 390.3,236.7 393.0,234.8 389.1,234.0 389.1,232.3 387.5,230.6 385.8,228.4 383.1,227.3 376.4,227.3 373.1,226.8 370.9,226.0 374.2,225.6ZM381.4,237.7 378.6,239.5 377.5,241.1 378.1,241.9 376.4,242.8 373.7,242.3 370.4,241.1 367.0,240.0 363.2,240.0 363.7,238.9 367.6,238.6 368.7,236.7 365.9,235.6 362.6,234.2 358.7,234.0 355.4,234.0 351.0,233.4 350.5,231.8 349.9,230.1 355.4,229.8 359.9,229.9 363.2,230.8 366.5,231.5 370.9,232.9 374.2,234.0 375.3,235.1 378.6,236.7ZM333.3,235.1 327.8,235.5 321.2,235.1 319.5,233.4 322.3,232.3 317.8,232.2 320.1,230.6 325.6,230.6 330.0,230.4 333.3,230.9 333.9,232.9 337.7,234.0 336.6,235.1ZM310.7,231.8 313.4,232.6 316.2,232.3 319.5,230.9 321.7,230.3 319.5,229.3 315.6,229.0 311.8,229.3 312.3,230.1ZM349.9,226.8 354.3,225.7 352.1,224.8 354.9,223.5 353.2,222.4 348.2,221.2 355.4,220.4 366.5,219.6 376.4,219.8 380.9,220.1 378.6,221.2 374.2,222.0 370.4,223.5 365.9,224.0 364.8,225.1 361.5,226.2 361.0,227.0 356.5,226.9 351.0,227.0ZM347.7,228.7 361.0,228.8 361.5,227.9 358.7,227.5 352.1,226.8 348.8,226.8ZM344.4,225.1 353.2,224.6 347.7,222.0 343.3,222.7ZM321.2,228.4 328.9,228.9 332.2,227.9 328.9,226.8 322.3,227.1 320.1,227.5ZM336.6,231.8 342.2,232.3 343.3,230.6 346.6,231.0 348.8,229.8 344.4,229.4 340.0,229.8 336.6,230.6ZM353.2,241.1 358.7,241.9 360.4,240.6 356.5,238.6 353.2,239.5ZM314.5,226.8 320.1,227.3 321.2,225.9 316.7,225.7ZM334.4,227.9 341.1,228.4 342.2,226.8 336.6,226.4ZM342.7,228.4 346.0,228.7 346.0,227.8 343.3,227.7ZM333.3,225.1 340.0,225.3 342.2,224.0 335.5,223.7ZM323.4,225.7 328.9,225.7 327.8,224.3 323.9,224.6ZM339.4,235.1 343.8,235.5 343.3,234.2 340.5,234.0ZM357.6,241.9 361.0,242.3 360.4,241.7 358.2,241.6ZM360.4,230.0 364.8,230.3 364.3,230.8 361.0,230.6ZM363.7,236.4 365.9,236.7 365.4,237.3 363.9,237.1ZM383.8,258.6 387.5,259.5 390.8,259.8 391.1,258.6 389.9,257.4 388.0,256.6 387.8,254.5 386.1,255.0 385.3,256.6ZM307.6,255.2 311.2,256.1 312.9,257.7 311.2,257.5 308.4,256.1ZM355.4,287.1 357.6,285.9 359.9,285.7 362.1,286.5 364.3,287.6 367.4,289.0 363.5,289.5 364.1,288.7 362.6,288.1 360.4,287.0 358.7,286.6 356.5,287.2ZM367.1,291.0 368.4,289.3 370.1,289.3 372.1,289.6 373.8,290.8 372.0,291.1 370.4,291.8 369.2,291.2ZM362.8,291.0 365.0,291.2 364.8,291.7 363.2,291.7ZM375.1,290.9 376.8,291.0 376.7,291.5 375.1,291.5ZM425.9,238.5 427.3,238.3 431.7,237.8 433.3,238.9 433.4,239.9 432.8,240.3 428.9,241.1 426.2,240.8 425.9,239.7ZM443.1,256.0 445.5,255.7 448.3,255.3 450.8,254.9 450.9,254.5 450.0,254.4 451.3,253.2 449.7,252.8 449.4,252.1 448.1,251.0 447.6,250.1 447.2,249.5 446.1,249.4 447.2,248.2 447.4,247.7 445.0,247.7 446.0,246.6 443.9,246.6 443.0,247.8 443.3,248.9 442.5,248.8 443.3,250.1 444.1,250.5 443.9,250.9 445.5,250.7 446.1,251.7 446.1,252.3 444.5,252.4 444.4,253.0 445.0,253.3 443.7,254.0 446.1,254.5 444.8,254.7ZM438.3,254.3 440.3,254.1 442.4,253.6 442.8,252.4 443.3,251.2 442.8,250.3 441.1,250.2 440.0,251.0 438.3,251.4 438.6,252.4 438.9,253.2 438.0,253.8ZM461.6,223.5 464.9,225.7 468.2,226.7 473.7,225.1 472.6,224.2 479.2,222.9 471.5,222.4 467.1,222.9ZM506.3,232.3 508.0,233.1 513.0,233.3 510.8,231.2 513.5,229.0 519.1,227.5 525.5,226.6 522.4,226.2 515.7,227.1 511.3,228.4 509.1,230.3ZM554.4,224.0 560.0,225.1 565.5,224.6 564.4,222.9 556.6,221.8 552.2,222.9ZM600.9,228.1 608.6,228.4 615.2,228.2 610.8,227.3 603.1,227.2ZM501.4,222.4 510.2,222.9 517.9,222.0 513.5,221.0 504.7,221.8ZM646.7,232.9 648.4,233.0 648.4,232.3 647.3,232.3ZM606.4,251.3 607.5,252.4 607.8,254.4 608.0,256.8 609.4,257.4 607.5,259.4 608.0,260.3 606.4,260.5 606.4,258.3 606.6,256.1 606.2,253.9 606.2,252.3ZM604.2,265.5 605.5,265.1 607.7,264.9 610.3,263.6 609.7,262.7 607.5,262.4 606.1,261.2 605.9,263.3 604.6,263.6 604.0,264.7ZM594.1,273.8 595.9,273.5 598.6,273.1 598.9,274.2 600.6,273.4 602.7,273.0 604.2,272.7 605.2,271.9 605.3,269.3 606.4,267.7 605.8,265.6 604.4,266.0 604.1,267.7 602.5,270.0 600.9,270.2 600.8,269.9 599.8,271.8 596.4,272.0 594.2,273.2ZM594.1,273.9 595.1,274.5 594.8,276.5 593.8,276.9 593.3,275.8 592.8,274.9 593.5,274.2ZM595.9,274.0 597.9,273.4 598.3,274.0 597.5,274.5 596.4,275.1 595.7,274.5ZM583.7,283.4 584.3,283.9 583.2,286.8 582.3,286.1 582.6,284.5ZM569.6,290.0 571.0,289.1 572.1,289.7 571.5,290.9 570.2,291.2ZM582.7,290.9 584.5,290.9 584.3,293.1 583.7,294.8 584.8,295.9 586.5,296.4 586.5,297.4 585.4,296.8 583.7,296.2 582.7,295.7 582.3,293.7 582.5,292.0ZM584.3,303.6 585.9,301.8 588.1,300.5 589.3,302.5 588.9,304.4 588.0,305.0 586.5,304.2 585.9,303.1ZM586.8,297.5 588.4,299.2 587.6,300.1 586.8,299.2ZM584.3,298.3 585.6,298.6 585.7,301.2 584.8,300.5 584.3,299.7ZM579.0,302.1 581.5,298.9 581.3,300.1 579.6,301.8ZM569.9,309.7 570.6,309.1 572.4,308.6 574.3,307.8 576.0,306.4 577.6,304.7 578.8,303.6 579.5,304.3 581.2,305.5 579.9,306.6 579.6,307.7 579.9,308.9 581.0,310.2 579.6,310.5 579.3,311.9 578.2,313.0 578.0,314.7 577.4,315.4 576.1,315.9 574.3,314.9 572.9,314.7 571.2,314.4 571.0,313.0 569.9,311.7ZM554.8,305.2 557.2,305.6 558.3,307.1 560.0,308.5 561.1,309.1 563.3,310.8 564.2,311.7 564.9,313.0 566.6,314.7 566.4,317.8 564.9,317.8 563.3,316.3 561.6,314.4 560.3,312.3 558.9,310.2 557.7,308.6 556.1,307.1ZM565.7,318.9 566.6,317.9 569.4,318.5 571.6,318.5 572.1,318.4 574.0,319.1 576.0,320.0 576.0,321.0 573.2,320.5 569.9,320.0 567.1,319.5ZM576.5,320.5 578.4,320.5 581.0,320.5 583.2,320.6 585.4,320.5 585.2,321.0 582.1,321.1 578.8,321.3 576.8,321.1ZM585.9,322.7 587.0,321.5 590.0,320.5 589.3,321.3 587.0,322.6ZM581.0,321.9 583.0,322.4 582.1,322.7ZM581.5,317.4 581.6,315.2 580.7,314.3 581.8,311.4 583.0,309.9 585.9,310.2 587.8,309.6 587.0,310.9 583.2,310.8 582.1,312.2 583.2,312.9 585.7,312.3 584.3,313.6 584.6,315.2 585.4,316.3 584.3,316.8 583.7,315.2 583.2,314.3 582.5,315.2 582.5,317.4ZM590.4,309.4 591.7,310.2 590.9,312.1 590.5,310.8ZM590.9,314.8 594.0,315.0 592.0,315.2ZM588.7,314.9 590.0,315.0 589.4,315.6ZM594.2,312.2 595.9,311.8 597.5,312.2 598.6,315.0 600.9,313.2 602.5,313.3 605.3,314.2 607.5,315.1 609.2,315.6 610.6,316.9 612.5,318.0 611.9,318.9 613.2,320.2 615.2,322.4 616.1,322.7 614.1,322.7 612.5,322.4 610.8,320.4 609.2,319.8 608.0,320.7 607.5,321.5 605.3,321.4 603.1,320.2 602.0,320.6 601.7,319.4 602.9,318.9 602.0,317.4 599.2,316.2 597.0,315.6 596.2,315.8 595.3,314.6 597.0,314.1 595.3,313.6ZM613.6,317.4 615.2,316.9 617.4,316.0 617.8,316.9 615.8,318.2 613.6,317.8ZM616.1,314.2 618.3,315.8 618.6,316.4 617.8,316.0ZM620.3,317.3 621.8,318.8 621.0,318.6ZM623.0,319.4 625.7,320.5 624.6,320.2ZM626.1,321.6 627.4,322.2 626.6,322.2ZM633.6,327.9 634.2,328.5 633.8,328.7ZM630.7,333.7 632.4,334.6 634.0,336.0 632.9,335.7 631.0,334.3ZM645.4,330.7 646.9,330.8 646.4,331.5 645.4,331.4ZM276.9,289.0 278.3,289.8 277.3,290.5 276.9,289.7ZM575.1,336.2 575.7,335.5 578.2,334.2 581.0,333.5 583.7,332.4 584.6,330.5 585.9,330.5 587.0,329.0 588.7,326.8 590.9,327.7 592.6,327.8 593.1,325.9 594.0,325.1 595.9,324.7 596.0,324.0 598.6,324.8 600.6,324.8 599.6,326.5 599.2,327.9 600.9,329.0 603.4,330.7 605.1,330.7 605.8,328.5 606.1,325.2 606.9,323.2 608.0,325.2 608.4,327.2 610.0,327.9 610.8,330.7 611.1,332.2 613.6,333.7 614.7,335.7 616.1,337.0 618.2,339.0 618.8,341.0 619.2,342.9 618.6,345.6 617.8,347.5 616.6,348.9 615.5,351.2 615.1,352.8 613.0,353.3 611.1,354.6 609.4,353.7 608.0,354.2 605.3,353.5 604.0,352.0 603.1,350.8 602.2,350.7 602.5,349.8 602.0,348.4 601.4,350.0 599.8,349.8 599.2,349.7 597.8,347.8 597.5,347.3 594.2,346.2 591.5,346.7 588.7,347.1 586.5,347.8 584.3,348.8 582.1,348.9 579.9,350.0 577.6,349.9 576.6,349.3 577.3,346.7 576.5,344.5 575.7,342.3 574.9,340.1 574.9,338.4ZM609.4,356.5 611.4,356.8 613.4,356.6 613.2,358.0 612.5,359.2 610.8,359.6 609.9,358.1ZM640.4,349.4 642.1,350.4 642.9,351.7 644.0,352.9 646.5,352.9 646.2,354.5 645.1,354.9 644.2,356.7 643.2,357.3 642.5,357.0 642.9,355.6 641.5,354.8 642.4,353.7 642.4,352.3 640.7,350.3ZM640.3,356.1 642.0,356.9 641.8,357.8 640.4,359.4 638.8,360.3 638.2,362.0 636.8,362.9 634.6,362.4 633.5,362.0 635.1,360.2 637.3,359.1 638.8,357.8 639.6,356.5ZM503.9,324.6 505.1,328.3 504.5,330.1 503.6,332.4 502.2,336.8 501.4,339.0 499.4,339.5 497.8,337.9 497.3,335.7 498.4,333.5 498.0,330.7 499.2,329.0 500.8,328.5 502.5,326.3ZM537.8,300.5 539.3,302.0 539.9,303.6 539.0,304.6 538.0,304.7 537.5,302.5ZM463.2,269.3 466.6,269.1 466.2,270.8 463.3,269.9ZM458.5,266.1 460.1,266.0 460.0,268.0 458.8,268.2ZM459.0,264.4 459.9,264.0 459.8,265.5 459.1,265.4ZM475.5,272.1 478.5,272.4 476.5,272.7ZM485.1,272.7 487.5,272.0 486.4,273.0ZM382.0,368.3 385.3,368.2 384.7,369.1 382.5,369.1ZM461.6,249.8 463.2,249.4 463.1,250.3 461.8,250.4ZM278.6,247.8 281.0,247.4 279.7,248.4ZM381.0,299.5 382.0,299.4 382.0,300.2 381.1,300.2ZM508.4,297.4 509.7,297.5 508.9,297.8ZM492.7,317.8 493.1,318.2 492.8,318.4ZM525.5,365.5 527.1,365.7 526.2,366.3ZM407.4,371.1 409.6,371.6 409.4,372.0Z" fill="none" stroke="#000" stroke-width="0.45"/><path d="M368.1,357.8 367.6,360.0 366.7,362.8 366.5,365.0 366.5,367.2 367.6,369.2 369.2,370.6 371.5,371.9 373.7,372.6" fill="none" stroke="#0a0a0a" stroke-width="1.7" stroke-linecap="round" stroke-opacity="0.9"/><path d="M312.9,257.2 310.7,255.7 308.4,254.4 306.8,252.8 305.1,250.8 302.9,249.1 300.7,247.4 299.0,246.7" fill="none" stroke="#0a0a0a" stroke-width="1.1" stroke-linecap="round" stroke-opacity="0.9"/><path d="M455.1,245.6 454.9,243.9 455.5,242.5 457.7,241.4 460.5,240.3 462.7,238.6 464.3,236.7 466.5,235.3 469.3,234.2 472.6,233.6 475.9,232.9" fill="none" stroke="#0a0a0a" stroke-width="0.9" stroke-linecap="round" stroke-opacity="0.9"/><path d="M393.0,240.6 390.8,237.8 390.8,235.6 389.7,233.4 388.6,231.2 386.4,229.0" fill="none" stroke="#0a0a0a" stroke-width="0.8" stroke-linecap="round" stroke-opacity="0.9"/><path d="M425.1,233.4 424.0,231.8 426.2,230.1 427.3,228.4 427.8,226.8" fill="none" stroke="#0a0a0a" stroke-width="0.9" stroke-linecap="round" stroke-opacity="0.9"/><path d="M403.0,242.3 404.6,240.0 408.5,238.6 412.9,236.7" fill="none" stroke="#0a0a0a" stroke-width="0.7" stroke-linecap="round" stroke-opacity="0.9"/><path d="M398.5,244.2 400.8,245.0 401.9,244.5" fill="none" stroke="#0a0a0a" stroke-width="0.8" stroke-linecap="round" stroke-opacity="0.9"/><path d="M474.8,268.8 476.5,270.1 478.5,270.7" fill="none" stroke="#0a0a0a" stroke-width="0.9" stroke-linecap="round" stroke-opacity="0.9"/><path d="M475.9,267.1 477.4,268.0 478.4,269.0" fill="none" stroke="#0a0a0a" stroke-width="0.7" stroke-linecap="round" stroke-opacity="0.9"/><path d="M365.0,270.2 365.2,268.8 365.8,267.9" fill="none" stroke="#0a0a0a" stroke-width="0.9" stroke-linecap="round" stroke-opacity="0.9"/><path d="M365.8,272.3 364.8,272.9" fill="none" stroke="#0a0a0a" stroke-width="0.7" stroke-linecap="round" stroke-opacity="0.9"/><path d="M443.0,249.7 442.8,248.6 443.0,247.4 441.9,247.7" fill="none" stroke="#0a0a0a" stroke-width="0.8" stroke-linecap="round" stroke-opacity="0.9"/><path d="M344.4,231.8 349.9,229.5 355.4,227.3 358.7,225.1" fill="none" stroke="#0a0a0a" stroke-width="0.6" stroke-linecap="round" stroke-opacity="0.9"/><path d="M327.8,227.9 338.8,227.3 344.4,225.7" fill="none" stroke="#0a0a0a" stroke-width="0.6" stroke-linecap="round" stroke-opacity="0.9"/><path d="M316.7,231.8 325.6,232.9 333.3,233.4" fill="none" stroke="#0a0a0a" stroke-width="0.6" stroke-linecap="round" stroke-opacity="0.9"/><path d="M352.1,238.4 356.5,236.2 361.0,234.5 364.3,232.9" fill="none" stroke="#0a0a0a" stroke-width="0.6" stroke-linecap="round" stroke-opacity="0.9"/><path d="M363.2,229.5 358.7,228.4 352.1,228.1" fill="none" stroke="#0a0a0a" stroke-width="0.6" stroke-linecap="round" stroke-opacity="0.9"/><path d="M268.1,251.1 272.5,250.0 276.9,248.3" fill="none" stroke="#0a0a0a" stroke-width="0.6" stroke-linecap="round" stroke-opacity="0.9"/><path d="M583.7,295.9 585.9,297.8 587.0,299.4 587.6,300.8" fill="none" stroke="#0a0a0a" stroke-width="0.9" stroke-linecap="round" stroke-opacity="0.9"/><path d="M584.6,299.0 585.4,300.3 585.7,301.1" fill="none" stroke="#0a0a0a" stroke-width="0.7" stroke-linecap="round" stroke-opacity="0.9"/><path d="M576.5,320.7 579.9,320.9 583.2,321.0 586.5,320.9" fill="none" stroke="#0a0a0a" stroke-width="0.7" stroke-linecap="round" stroke-opacity="0.9"/><path d="M590.4,309.7 590.9,311.4 590.9,313.0 591.5,315.0" fill="none" stroke="#0a0a0a" stroke-width="0.6" stroke-linecap="round" stroke-opacity="0.9"/><path d="M633.6,362.0 634.4,361.1 635.1,360.3" fill="none" stroke="#0a0a0a" stroke-width="0.8" stroke-linecap="round" stroke-opacity="0.9"/><path d="M381.4,248.9 383.1,250.5 385.3,251.7 386.9,253.1" fill="none" stroke="#0a0a0a" stroke-width="0.5" stroke-linecap="round" stroke-opacity="0.9"/><path d="M465.4,261.6 466.5,262.7 467.6,263.5 469.1,264.0" fill="none" stroke="#0a0a0a" stroke-width="0.7" stroke-linecap="round" stroke-opacity="0.9"/><path d="M472.6,244.7 474.3,245.0" fill="none" stroke="#0a0a0a" stroke-width="0.7" stroke-linecap="round" stroke-opacity="0.9"/><path d="M558.0,297.0 558.1,298.6 558.2,300.0" fill="none" stroke="#0a0a0a" stroke-width="0.6" stroke-linecap="round" stroke-opacity="0.9"/><path d="M431.4,298.1 432.3,299.0 433.4,300.0" fill="none" stroke="#0a0a0a" stroke-width="1.1" stroke-linecap="round" stroke-opacity="0.9"/><path d="M393.6,311.0 394.7,311.9 395.8,312.5" fill="none" stroke="#0a0a0a" stroke-width="0.9" stroke-linecap="round" stroke-opacity="0.9"/><path d="M348.2,311.7 349.6,312.2" fill="none" stroke="#0a0a0a" stroke-width="0.9" stroke-linecap="round" stroke-opacity="0.9"/><path d="M464.9,225.1 468.2,224.6 471.5,223.5" fill="none" stroke="#0a0a0a" stroke-width="0.8" stroke-linecap="round" stroke-opacity="0.9"/><path d="M373.1,369.4 371.5,370.8 374.2,371.7" fill="none" stroke="#0a0a0a" stroke-width="0.7" stroke-linecap="round" stroke-opacity="0.9"/><path d="M593.1,274.9 592.6,275.4" fill="none" stroke="#0a0a0a" stroke-width="0.6" stroke-linecap="round" stroke-opacity="0.9"/><path d="M581.5,311.9 582.6,310.8 584.3,310.5" fill="none" stroke="#0a0a0a" stroke-width="0.6" stroke-linecap="round" stroke-opacity="0.9"/><path d="M378.6,299.4 380.9,299.7" fill="none" stroke="#0a0a0a" stroke-width="0.6" stroke-linecap="round" stroke-opacity="0.9"/><path d="M361.0,314.7 360.6,313.9" fill="none" stroke="#0a0a0a" stroke-width="0.6" stroke-linecap="round" stroke-opacity="0.9"/><path d="M265.6,251.4h0.6v0.5h-0.6zM262.8,252.2h0.6v0.5h-0.6zM260.1,252.9h0.6v0.5h-0.6zM256.7,253.5h0.6v0.5h-0.6zM253.4,253.8h0.6v0.5h-0.6zM647.0,254.2h0.6v0.5h-0.6zM643.7,253.6h0.6v0.5h-0.6zM640.4,252.7h0.6v0.5h-0.6zM261.2,248.1h0.6v0.5h-0.6zM261.2,241.0h0.6v0.5h-0.6zM265.2,244.8h0.6v0.5h-0.6zM611.6,261.4h0.6v0.5h-0.6zM613.3,260.5h0.6v0.5h-0.6zM615.5,259.7h0.6v0.5h-0.6zM617.7,258.6h0.6v0.5h-0.6zM619.4,256.9h0.6v0.5h-0.6zM621.0,255.5h0.6v0.5h-0.6zM592.8,277.6h0.6v0.5h-0.6zM592.3,279.8h0.6v0.5h-0.6zM590.6,281.7h0.6v0.5h-0.6zM588.4,282.9h0.6v0.5h-0.6zM586.7,284.0h0.6v0.5h-0.6zM590.4,282.0h0.6v0.5h-0.6zM379.4,291.1h0.6v0.5h-0.6zM379.8,292.0h0.6v0.5h-0.6zM380.8,292.2h0.6v0.5h-0.6zM381.0,293.2h0.6v0.5h-0.6zM381.2,294.1h0.6v0.5h-0.6zM381.7,295.0h0.6v0.5h-0.6zM381.7,295.7h0.6v0.5h-0.6zM381.4,296.5h0.6v0.5h-0.6zM380.9,297.7h0.6v0.5h-0.6zM383.2,296.5h0.6v0.5h-0.6zM362.6,281.7h0.6v0.5h-0.6zM363.6,283.5h0.6v0.5h-0.6zM363.1,284.2h0.6v0.5h-0.6zM365.1,285.1h0.6v0.5h-0.6zM365.9,284.2h0.6v0.5h-0.6zM366.7,286.0h0.6v0.5h-0.6zM367.8,287.8h0.6v0.5h-0.6zM369.5,287.0h0.6v0.5h-0.6zM359.2,289.8h0.6v0.5h-0.6zM377.5,275.4h0.6v0.5h-0.6zM282.2,330.4h0.6v0.5h-0.6zM283.8,330.6h0.6v0.5h-0.6zM286.6,328.2h0.6v0.5h-0.6zM288.2,328.8h0.6v0.5h-0.6zM289.9,329.7h0.6v0.5h-0.6zM292.1,330.4h0.6v0.5h-0.6zM293.8,331.2h0.6v0.5h-0.6zM295.8,332.1h0.6v0.5h-0.6zM298.2,334.3h0.6v0.5h-0.6zM299.8,336.5h0.6v0.5h-0.6zM294.3,321.1h0.6v0.5h-0.6zM295.4,321.9h0.6v0.5h-0.6zM272.4,334.5h0.6v0.5h-0.6zM274.4,333.2h0.6v0.5h-0.6zM258.4,326.1h0.6v0.5h-0.6zM259.3,326.5h0.6v0.5h-0.6zM260.4,326.9h0.6v0.5h-0.6zM255.4,334.5h0.6v0.5h-0.6zM256.7,331.7h0.6v0.5h-0.6zM256.4,333.0h0.6v0.5h-0.6zM640.4,309.4h0.6v0.5h-0.6zM640.3,307.8h0.6v0.5h-0.6zM642.0,311.7h0.6v0.5h-0.6zM643.1,312.8h0.6v0.5h-0.6zM275.1,309.0h0.6v0.5h-0.6zM634.8,301.2h0.6v0.5h-0.6zM638.4,303.3h0.6v0.5h-0.6zM635.9,298.9h0.6v0.5h-0.6zM633.2,298.6h0.6v0.5h-0.6zM617.1,302.9h0.6v0.5h-0.6zM624.0,303.5h0.6v0.5h-0.6zM629.3,305.2h0.6v0.5h-0.6zM601.8,300.6h0.6v0.5h-0.6zM597.8,302.8h0.6v0.5h-0.6zM609.2,296.3h0.6v0.5h-0.6zM610.2,294.3h0.6v0.5h-0.6zM610.3,291.2h0.6v0.5h-0.6zM348.3,311.7h0.6v0.5h-0.6zM349.3,311.8h0.6v0.5h-0.6zM350.2,312.1h0.6v0.5h-0.6zM328.2,341.1h0.6v0.5h-0.6zM362.0,348.2h0.6v0.5h-0.6zM359.8,348.5h0.6v0.5h-0.6zM417.8,268.4h0.6v0.5h-0.6zM419.0,268.3h0.6v0.5h-0.6zM420.9,269.3h0.6v0.5h-0.6zM414.7,267.4h0.6v0.5h-0.6zM430.3,274.9h0.6v0.5h-0.6zM429.3,279.4h0.6v0.5h-0.6zM430.7,279.8h0.6v0.5h-0.6zM431.9,280.1h0.6v0.5h-0.6zM433.6,279.7h0.6v0.5h-0.6zM434.1,279.0h0.6v0.5h-0.6zM422.2,292.5h0.6v0.5h-0.6zM423.0,294.4h0.6v0.5h-0.6zM422.1,294.6h0.6v0.5h-0.6zM423.8,293.3h0.6v0.5h-0.6zM456.4,310.8h0.6v0.5h-0.6zM457.3,309.3h0.6v0.5h-0.6zM458.7,307.2h0.6v0.5h-0.6zM433.2,319.8h0.6v0.5h-0.6zM442.8,328.8h0.6v0.5h-0.6zM435.5,352.1h0.6v0.5h-0.6zM529.9,303.6h0.6v0.5h-0.6zM530.2,306.5h0.6v0.5h-0.6zM530.0,308.3h0.6v0.5h-0.6zM530.2,310.8h0.6v0.5h-0.6zM529.9,311.8h0.6v0.5h-0.6zM529.6,298.9h0.6v0.5h-0.6zM551.7,296.5h0.6v0.5h-0.6zM551.8,297.6h0.6v0.5h-0.6zM551.6,298.3h0.6v0.5h-0.6zM551.5,299.4h0.6v0.5h-0.6zM552.6,302.3h0.6v0.5h-0.6zM552.8,303.4h0.6v0.5h-0.6zM497.1,324.0h0.6v0.5h-0.6zM498.2,324.6h0.6v0.5h-0.6zM499.0,325.3h0.6v0.5h-0.6zM510.5,316.2h0.6v0.5h-0.6zM512.8,333.5h0.6v0.5h-0.6zM510.5,334.4h0.6v0.5h-0.6zM519.2,332.9h0.6v0.5h-0.6zM529.1,319.2h0.6v0.5h-0.6zM500.3,321.5h0.6v0.5h-0.6zM452.4,267.3h0.6v0.5h-0.6zM450.6,268.0h0.6v0.5h-0.6zM453.6,266.9h0.6v0.5h-0.6zM441.4,242.6h0.6v0.5h-0.6zM447.8,244.4h0.6v0.5h-0.6zM445.8,245.9h0.6v0.5h-0.6zM441.4,247.2h0.6v0.5h-0.6zM442.1,247.8h0.6v0.5h-0.6zM469.6,247.5h0.6v0.5h-0.6zM467.6,248.3h0.6v0.5h-0.6zM471.2,244.5h0.6v0.5h-0.6zM474.0,246.5h0.6v0.5h-0.6zM474.2,246.0h0.6v0.5h-0.6zM465.6,250.2h0.6v0.5h-0.6zM589.0,274.2h0.6v0.5h-0.6zM592.0,273.1h0.6v0.5h-0.6zM602.1,269.1h0.6v0.5h-0.6zM254.0,359.7h0.6v0.5h-0.6zM632.8,367.2h0.6v0.5h-0.6zM624.8,371.5h0.6v0.5h-0.6zM530.4,369.8h0.6v0.5h-0.6zM506.3,362.4h0.6v0.5h-0.6zM490.9,362.8h0.6v0.5h-0.6zM452.9,371.2h0.6v0.5h-0.6zM419.8,375.0h0.6v0.5h-0.6zM419.6,375.8h0.6v0.5h-0.6zM398.8,378.1h0.6v0.5h-0.6zM383.9,379.6h0.6v0.5h-0.6zM382.2,380.4h0.6v0.5h-0.6zM625.0,345.9h0.6v0.5h-0.6zM634.8,343.2h0.6v0.5h-0.6zM252.3,343.5h0.6v0.5h-0.6zM647.2,320.5h0.6v0.5h-0.6zM646.7,319.4h0.6v0.5h-0.6zM254.3,325.8h0.6v0.5h-0.6zM261.3,332.1h0.6v0.5h-0.6zM305.3,338.8h0.6v0.5h-0.6zM307.3,338.1h0.6v0.5h-0.6zM328.4,299.7h0.6v0.5h-0.6zM326.4,290.3h0.6v0.5h-0.6zM352.9,305.0h0.6v0.5h-0.6zM439.7,232.6h0.6v0.5h-0.6zM470.1,228.8h0.6v0.5h-0.6zM503.3,234.8h0.6v0.5h-0.6zM514.9,233.7h0.6v0.5h-0.6zM527.0,230.1h0.6v0.5h-0.6zM302.8,252.2h0.6v0.5h-0.6zM303.4,252.9h0.6v0.5h-0.6zM379.4,256.4h0.6v0.5h-0.6zM379.1,259.8h0.6v0.5h-0.6zM367.4,358.2h0.6v0.5h-0.6zM366.7,359.7h0.6v0.5h-0.6zM366.4,365.5h0.6v0.5h-0.6zM366.2,367.5h0.6v0.5h-0.6zM393.8,311.4h0.6v0.5h-0.6zM493.0,316.8h0.6v0.5h-0.6zM493.1,319.8h0.6v0.5h-0.6zM505.0,282.2h0.6v0.5h-0.6zM511.0,281.5h0.6v0.5h-0.6zM581.3,285.0h0.6v0.5h-0.6zM583.9,288.4h0.6v0.5h-0.6zM568.7,306.7h0.6v0.5h-0.6zM566.3,313.5h0.6v0.5h-0.6zM568.5,314.3h0.6v0.5h-0.6zM556.9,309.9h0.6v0.5h-0.6zM558.6,312.8h0.6v0.5h-0.6zM559.9,314.2h0.6v0.5h-0.6zM574.0,318.8h0.6v0.5h-0.6zM594.5,319.4h0.6v0.5h-0.6zM597.8,318.0h0.6v0.5h-0.6zM595.8,317.3h0.6v0.5h-0.6zM599.5,312.2h0.6v0.5h-0.6zM611.6,313.4h0.6v0.5h-0.6zM616.0,320.6h0.6v0.5h-0.6zM618.8,323.7h0.6v0.5h-0.6zM623.2,320.3h0.6v0.5h-0.6zM626.0,321.7h0.6v0.5h-0.6zM627.1,321.1h0.6v0.5h-0.6zM628.0,322.7h0.6v0.5h-0.6zM632.6,322.9h0.6v0.5h-0.6zM633.5,328.0h0.6v0.5h-0.6zM635.3,330.7h0.6v0.5h-0.6zM636.4,332.7h0.6v0.5h-0.6zM634.3,334.3h0.6v0.5h-0.6zM633.9,334.0h0.6v0.5h-0.6zM647.2,329.5h0.6v0.5h-0.6zM648.0,329.7h0.6v0.5h-0.6zM634.8,363.1h0.6v0.5h-0.6zM608.3,355.2h0.6v0.5h-0.6zM612.7,355.3h0.6v0.5h-0.6zM600.8,350.7h0.6v0.5h-0.6zM593.9,323.9h0.6v0.5h-0.6zM600.1,326.6h0.6v0.5h-0.6zM566.0,322.7h0.6v0.5h-0.6zM556.1,324.6h0.6v0.5h-0.6zM381.3,299.4h0.6v0.5h-0.6zM372.9,297.6h0.6v0.5h-0.6zM371.7,297.3h0.6v0.5h-0.6zM375.6,291.0h0.6v0.5h-0.6zM377.5,291.5h0.6v0.5h-0.6zM357.6,287.2h0.6v0.5h-0.6zM361.2,301.9h0.6v0.5h-0.6zM358.7,302.9h0.6v0.5h-0.6zM283.8,337.0h0.6v0.5h-0.6zM281.1,336.0h0.6v0.5h-0.6zM278.1,328.6h0.6v0.5h-0.6zM271.1,322.6h0.6v0.5h-0.6zM268.8,331.0h0.6v0.5h-0.6zM259.2,321.3h0.6v0.5h-0.6zM277.2,288.1h0.6v0.5h-0.6zM276.0,288.1h0.6v0.5h-0.6zM274.5,287.3h0.6v0.5h-0.6zM272.8,286.8h0.6v0.5h-0.6zM272.0,286.9h0.6v0.5h-0.6zM645.2,279.9h0.6v0.5h-0.6zM253.0,279.9h0.6v0.5h-0.6zM633.3,289.8h0.6v0.5h-0.6zM619.2,284.2h0.6v0.5h-0.6zM606.3,281.2h0.6v0.5h-0.6zM605.3,283.7h0.6v0.5h-0.6zM604.9,277.4h0.6v0.5h-0.6zM603.7,274.5h0.6v0.5h-0.6zM594.1,282.6h0.6v0.5h-0.6zM586.2,284.1h0.6v0.5h-0.6zM585.1,284.1h0.6v0.5h-0.6z" fill="#222" stroke="none"/></g><rect x="250.4" y="211.9" width="398.0" height="193.6" fill="none" stroke="#9a9a9a" stroke-width="0.6"/><defs><linearGradient id="gb" x1="0" y1="0" x2="0" y2="1"><stop offset="0.0000" stop-color="#17090f"/><stop offset="0.0909" stop-color="#3a0b22"/><stop offset="0.1818" stop-color="#5e0d33"/><stop offset="0.2727" stop-color="#800f41"/><stop offset="0.3636" stop-color="#a4124c"/><stop offset="0.4545" stop-color="#c81458"/><stop offset="0.5455" stop-color="#df2e6f"/><stop offset="0.6364" stop-color="#eb6a9d"/><stop offset="0.7273" stop-color="#f5b4cd"/><stop offset="0.8182" stop-color="#ffffff"/><stop offset="0.9091" stop-color="#83c8b0"/><stop offset="1.0000" stop-color="#12986d"/></linearGradient></defs><rect x="652.0" y="4.9" width="8" height="194.1" fill="url(#gb)" stroke="#555" stroke-width="0.3"/><line x1="660.0" y1="4.90" x2="662.0" y2="4.90" stroke="#333" stroke-width="0.5"/><text x="663.8" y="6.90" class="cb">225</text><line x1="660.0" y1="22.55" x2="662.0" y2="22.55" stroke="#333" stroke-width="0.5"/><text x="663.8" y="24.55" class="cb">200</text><line x1="660.0" y1="40.19" x2="662.0" y2="40.19" stroke="#333" stroke-width="0.5"/><text x="663.8" y="42.19" class="cb">175</text><line x1="660.0" y1="57.84" x2="662.0" y2="57.84" stroke="#333" stroke-width="0.5"/><text x="663.8" y="59.84" class="cb">150</text><line x1="660.0" y1="75.48" x2="662.0" y2="75.48" stroke="#333" stroke-width="0.5"/><text x="663.8" y="77.48" class="cb">125</text><line x1="660.0" y1="93.13" x2="662.0" y2="93.13" stroke="#333" stroke-width="0.5"/><text x="663.8" y="95.13" class="cb">100</text><line x1="660.0" y1="110.77" x2="662.0" y2="110.77" stroke="#333" stroke-width="0.5"/><text x="663.8" y="112.77" class="cb">75</text><line x1="660.0" y1="128.42" x2="662.0" y2="128.42" stroke="#333" stroke-width="0.5"/><text x="663.8" y="130.42" class="cb">50</text><line x1="660.0" y1="146.06" x2="662.0" y2="146.06" stroke="#333" stroke-width="0.5"/><text x="663.8" y="148.06" class="cb">25</text><line x1="660.0" y1="163.71" x2="662.0" y2="163.71" stroke="#333" stroke-width="0.5"/><text x="663.8" y="165.71" class="cb">0</text><line x1="660.0" y1="181.35" x2="662.0" y2="181.35" stroke="#333" stroke-width="0.5"/><text x="663.8" y="183.35" class="cb">-25</text><line x1="660.0" y1="199.00" x2="662.0" y2="199.00" stroke="#333" stroke-width="0.5"/><text x="663.8" y="201.00" class="cb">-50</text><defs><linearGradient id="gd" x1="0" y1="0" x2="0" y2="1"><stop offset="0.0000" stop-color="#0a1124"/><stop offset="0.0769" stop-color="#0e2148"/><stop offset="0.1538" stop-color="#12336e"/><stop offset="0.2308" stop-color="#154594"/><stop offset="0.3077" stop-color="#2357a6"/><stop offset="0.3846" stop-color="#3468b4"/><stop offset="0.4615" stop-color="#4579c1"/><stop offset="0.5385" stop-color="#5a8fcf"/><stop offset="0.6154" stop-color="#76a8dd"/><stop offset="0.6923" stop-color="#9dc4ea"/><stop offset="0.7692" stop-color="#cfe2f5"/><stop offset="0.8462" stop-color="#ffffff"/><stop offset="0.9231" stop-color="#f3cd85"/><stop offset="1.0000" stop-color="#e8a010"/></linearGradient></defs><rect x="652.0" y="211.8" width="8" height="193.1" fill="url(#gd)" stroke="#555" stroke-width="0.3"/><line x1="660.0" y1="211.80" x2="662.0" y2="211.80" stroke="#333" stroke-width="0.5"/><text x="663.8" y="213.80" class="cb">275</text><line x1="660.0" y1="226.65" x2="662.0" y2="226.65" stroke="#333" stroke-width="0.5"/><text x="663.8" y="228.65" class="cb">250</text><line x1="660.0" y1="241.51" x2="662.0" y2="241.51" stroke="#333" stroke-width="0.5"/><text x="663.8" y="243.51" class="cb">225</text><line x1="660.0" y1="256.36" x2="662.0" y2="256.36" stroke="#333" stroke-width="0.5"/><text x="663.8" y="258.36" class="cb">200</text><line x1="660.0" y1="271.22" x2="662.0" y2="271.22" stroke="#333" stroke-width="0.5"/><text x="663.8" y="273.22" class="cb">175</text><line x1="660.0" y1="286.07" x2="662.0" y2="286.07" stroke="#333" stroke-width="0.5"/><text x="663.8" y="288.07" class="cb">150</text><line x1="660.0" y1="300.92" x2="662.0" y2="300.92" stroke="#333" stroke-width="0.5"/><text x="663.8" y="302.92" class="cb">125</text><line x1="660.0" y1="315.78" x2="662.0" y2="315.78" stroke="#333" stroke-width="0.5"/><text x="663.8" y="317.78" class="cb">100</text><line x1="660.0" y1="330.63" x2="662.0" y2="330.63" stroke="#333" stroke-width="0.5"/><text x="663.8" y="332.63" class="cb">75</text><line x1="660.0" y1="345.48" x2="662.0" y2="345.48" stroke="#333" stroke-width="0.5"/><text x="663.8" y="347.48" class="cb">50</text><line x1="660.0" y1="360.34" x2="662.0" y2="360.34" stroke="#333" stroke-width="0.5"/><text x="663.8" y="362.34" class="cb">25</text><line x1="660.0" y1="375.19" x2="662.0" y2="375.19" stroke="#333" stroke-width="0.5"/><text x="663.8" y="377.19" class="cb">0</text><line x1="660.0" y1="390.05" x2="662.0" y2="390.05" stroke="#333" stroke-width="0.5"/><text x="663.8" y="392.05" class="cb">-25</text><line x1="660.0" y1="404.90" x2="662.0" y2="404.90" stroke="#333" stroke-width="0.5"/><text x="663.8" y="406.90" class="cb">-50</text><text transform="translate(684,101.6) rotate(-90)" text-anchor="middle" class="cbl">Relative error [%]</text><text transform="translate(684,308.4) rotate(-90)" text-anchor="middle" class="cbl">Relative error [%]</text></svg></body></html>
